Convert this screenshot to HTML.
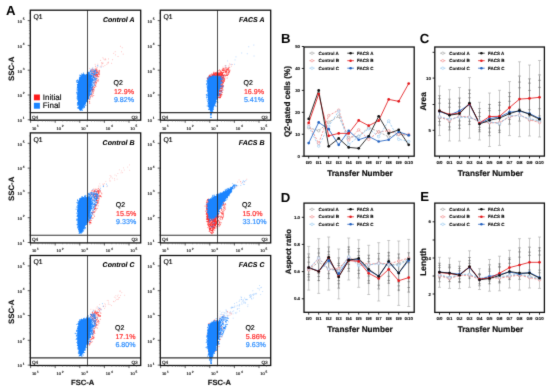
<!DOCTYPE html><html><head><meta charset="utf-8"><style>html,body{margin:0;padding:0;background:#fff;overflow:hidden}svg{display:block}*{-webkit-font-smoothing:antialiased}text{font-family:"Liberation Sans",sans-serif;text-rendering:geometricPrecision}</style></head><body>
<svg width="550" height="389" viewBox="0 0 550 389" font-family="Liberation Sans, sans-serif">
<defs><filter id="sm" filterUnits="userSpaceOnUse" x="0" y="0" width="550" height="389" color-interpolation-filters="sRGB"><feConvolveMatrix order="3" kernelMatrix="1 8 1 8 64 8 1 8 1" divisor="100" edgeMode="duplicate"/></filter></defs><g filter="url(#sm)">
<rect width="550" height="389" fill="#fff"/>
<text x="6.00" y="14.90" font-size="13.2" font-weight="bold" fill="#000">A</text>
<g>
<path d="M97.12 76.75h0.85M94.38 87.53h0.85M95.41 70.05h0.85M95.5 86.36h0.85M93.15 77.23h0.85M96.71 75.04h0.85M97.69 74.43h0.85M91.57 89.45h0.85M91.12 74.56h0.85M97.38 75.12h0.85M93.03 77.41h0.85M92.78 72.1h0.85M96.86 78.27h0.85M90.09 97.83h0.85M95.56 73.83h0.85M94.1 75.1h0.85M95.15 81.7h0.85M93.1 76.65h0.85M87.05 99.47h0.85M93.91 87.68h0.85M91.78 95.24h0.85M92.74 86.35h0.85M92.03 87.32h0.85M88.86 101.62h0.85M97.22 72.76h0.85M97.34 76.45h0.85M90.11 96.29h0.85M98.52 73.29h0.85M94.86 85.48h0.85M93.89 89.98h0.85M95.71 75.03h0.85M96.31 72.31h0.85M98.9 70.33h0.85M94.86 75.04h0.85M95.44 70.2h0.85M98.65 71.17h0.85M97.8 80.89h0.85M88.93 95.64h0.85M98.28 76.62h0.85M96.21 70.85h0.85M91.22 94.01h0.85M96.16 76.55h0.85M93.31 91.65h0.85M92.73 87.27h0.85M95.44 77.68h0.85M95.69 74.54h0.85M92.95 93.09h0.85M95.43 81.71h0.85M96.42 74.74h0.85M94.63 75.05h0.85M94.68 82.68h0.85M89.44 95.56h0.85M98.93 72.9h0.85M89.32 103.42h0.85M94.57 83.95h0.85M96.78 75.32h0.85M98.31 76.81h0.85M96.86 71.31h0.85M93.06 70.04h0.85M98.59 74.64h0.85M96.29 71.21h0.85M92.56 75.06h0.85M96.56 74.19h0.85M89.24 102.04h0.85M91.29 96.19h0.85M91.77 92.44h0.85M94.58 76.13h0.85M93.06 82.38h0.85M96.51 71.79h0.85M93.77 86.91h0.85M92.67 89.25h0.85M93.9 72.21h0.85M94.36 76.76h0.85M89.4 99.19h0.85M93.27 90.07h0.85M95.92 83.77h0.85M94.69 82.44h0.85M96.22 82.17h0.85M93.77 80.86h0.85M92.9 76.07h0.85M91.14 88.58h0.85M96.63 71.02h0.85M93.33 75.37h0.85M91.53 87.6h0.85M92.29 91.58h0.85M91.73 90.16h0.85M90.71 71.63h0.85M95.9 75.03h0.85M97.41 81.08h0.85M93.52 72.92h0.85M92.24 90.35h0.85M92.23 69.67h0.85M93 74.61h0.85M92.23 96.74h0.85M96.99 74.77h0.85M96.59 69.96h0.85M96.57 76.01h0.85M95.24 84.11h0.85M90.47 70.71h0.85M96.14 73.03h0.85M97.76 72.92h0.85M93.94 70.6h0.85M90.34 90.4h0.85M90.96 94.92h0.85M92.55 93.16h0.85M95.87 82.54h0.85M96.65 75.36h0.85M97.87 79.7h0.85M92.37 78.82h0.85M93.05 71.83h0.85M93.6 75.97h0.85M93.63 71.16h0.85M89.04 99.67h0.85M91.47 69.87h0.85M91.86 73.96h0.85M95.1 79.76h0.85M95.11 75.76h0.85M95.17 85.85h0.85M97.71 73.28h0.85M92.16 87.84h0.85M88.51 97.72h0.85M98.98 71.75h0.85M98.64 70.71h0.85M93.22 73.14h0.85M97.57 72.24h0.85M96.21 78.99h0.85M96.05 69.11h0.85M98.97 74.69h0.85M92.54 91.07h0.85M95.04 74.6h0.85M92.16 89.58h0.85M93.32 95.53h0.85M91.69 94.3h0.85M91.28 73.15h0.85M92.49 89.52h0.85M98.53 73.7h0.85M96.28 74.55h0.85M98.23 72.18h0.85M93.28 88.42h0.85M94.16 83.87h0.85M96.51 80.62h0.85M91.2 90.97h0.85M91.46 90.03h0.85M94.59 77.46h0.85M92.36 89.37h0.85M94.8 72.93h0.85M95.66 72.43h0.85M92.82 89.24h0.85M96.44 80.06h0.85M91.39 71.09h0.85" stroke="#ff2a2a" stroke-width="0.85" stroke-opacity="0.7" fill="none"/>
<path d="M90.59 71.7h0.8M106.48 64.36h0.8M91.84 70.73h0.8M114.76 51.7h0.8M95.02 66.14h0.8M114.98 54.89h0.8M101.53 64.91h0.8M97.41 64.23h0.8M95.19 66.77h0.8M100.66 66.08h0.8M95.31 70.19h0.8M101.04 63.14h0.8M99.75 66.96h0.8M96.54 69.25h0.8M120.07 46.31h0.8M96.55 67.26h0.8M91.88 72.4h0.8M121.81 47.73h0.8M100.23 60.39h0.8M92.13 70.64h0.8M94.14 71.46h0.8M107.98 62.95h0.8M89.35 68.43h0.8M122.79 54.17h0.8M90.84 69.71h0.8M94.18 71.89h0.8M106.95 62.94h0.8M121.13 51.74h0.8M95.82 68.84h0.8M105.15 58.9h0.8M95.33 70.29h0.8M105.4 59.72h0.8M102.49 57.83h0.8M111.24 63.31h0.8M95.73 70.17h0.8M93.48 74.36h0.8M113.3 53.35h0.8M102.77 66.6h0.8M104.51 65.57h0.8M112.25 59.69h0.8M96.75 67.77h0.8M92.4 68.37h0.8M108.05 58.94h0.8M94.76 64.35h0.8M103.41 58.99h0.8M95.06 69.29h0.8M104.39 59.85h0.8M102 63.5h0.8M102.7 63.1h0.8M117.64 56.49h0.8M92.91 73.61h0.8M95.07 68.97h0.8M107.94 62.14h0.8M101.54 62.46h0.8M94.57 68.69h0.8" stroke="#ff2a2a" stroke-width="0.8" stroke-opacity="0.4" fill="none"/>
<path d="M82.3 74.8L79.8 77L78.3 80.7L77.7 86.2L77.6 92.2L77.7 98.2L78.1 104.2L78.9 108.7L80.8 110.6L82.3 108.8L85.1 104.6L87.5 100.2L89.1 95.2L90.6 89.2L91.3 83.2L91.3 76L89.3 74.2L86.3 74.4Z" fill="#1a84ff"/>
<path d="M91.39 76.78h0.9M87.99 73.24h0.9M91.2 83.02h0.9M88.07 87.54h0.9M89.06 72.95h0.9M93.76 84.29h0.9M86.68 91.82h0.9M90.67 93.64h0.9M92.1 87.11h0.9M88.33 84.93h0.9M89.41 73.44h0.9M89.6 77.57h0.9M89.77 82.83h0.9M92.09 79.48h0.9M87.76 78.98h0.9M88.4 76.22h0.9M89.66 78.99h0.9M93.76 70.67h0.9M90.77 81.23h0.9M90.38 76.31h0.9M86.67 74.43h0.9M96.98 72.5h0.9M94.17 71.67h0.9M90.41 90.09h0.9M92.66 73.76h0.9M89.91 71.72h0.9M89.57 75.98h0.9M90.55 81.48h0.9M87.72 73.76h0.9M91.8 79.39h0.9M92.64 77.68h0.9M89.89 70.26h0.9M92.44 79.12h0.9M92.17 80.71h0.9M88.77 74.95h0.9M91.76 84.89h0.9M94.04 78.77h0.9M95.79 79.01h0.9M88.48 79.4h0.9M90.68 93.74h0.9M87.14 77.27h0.9M89.33 77.37h0.9M91.27 79.66h0.9M88.18 82.21h0.9M91.2 79.37h0.9M90.85 80.91h0.9M92.5 89.78h0.9M92.44 75.88h0.9M93.88 74.54h0.9M93.73 77.54h0.9M89.47 73.82h0.9M90.62 70.11h0.9M94.04 74.42h0.9M87.72 76.71h0.9M90.42 84.35h0.9M89.32 86.18h0.9M91.76 91.11h0.9M89.58 91.54h0.9M88.19 98.6h0.9M92.44 79.02h0.9M91.51 86h0.9M92.74 77.37h0.9M90.01 81.22h0.9M87.29 84.45h0.9M91.96 82.26h0.9M87.57 99.12h0.9M95.69 76.28h0.9M90.72 81.11h0.9M89.02 91.05h0.9M93.13 71.33h0.9M89.13 86.22h0.9M94.22 82.48h0.9M86.67 79.34h0.9M89.79 71.45h0.9M90.79 89.49h0.9M88.13 96.5h0.9M89.05 91.47h0.9M88.62 98.32h0.9M89.1 92.58h0.9M95.99 78.33h0.9M88.25 88.07h0.9M91.31 84.47h0.9M91.83 85.2h0.9M91.85 83.05h0.9M88.99 79.46h0.9M89.36 76.82h0.9M94.53 73.26h0.9M88.98 86.38h0.9M89.7 77.09h0.9M90.85 85.82h0.9M91.31 83.34h0.9M87.89 76.04h0.9M91.26 89.63h0.9M87.88 98.4h0.9M89.02 83.16h0.9M91.23 73.17h0.9M90.5 76.38h0.9M87.36 85.97h0.9M88.1 98.01h0.9M94.52 81.31h0.9M87.65 97.5h0.9M94.02 77.94h0.9M92.2 80.29h0.9M89.46 72.42h0.9M88.8 84.51h0.9M88.12 98.18h0.9M94.92 75.2h0.9M93.71 79.35h0.9M91.43 78.16h0.9M90.62 75.25h0.9M90.74 92.21h0.9M91.68 78.53h0.9M91.01 88.92h0.9M94.46 72.44h0.9M89.27 85.86h0.9M89.31 73.1h0.9M94.67 70.38h0.9M90.59 84.07h0.9M93.4 80.15h0.9M93.79 74.04h0.9M87.29 98.97h0.9M92.18 73.27h0.9M92.1 71.37h0.9M91.16 82.7h0.9M89.15 79.81h0.9M87.79 93.9h0.9M91.3 88.38h0.9M89.74 81.9h0.9M93.15 83.3h0.9M88.89 85.65h0.9M94.25 73.59h0.9M89.78 94.15h0.9M95.85 72.77h0.9M92.74 82.72h0.9M88.15 93.94h0.9M90 84.97h0.9M95.35 70.87h0.9M90.97 85.47h0.9M95.17 78.52h0.9M90.74 87.32h0.9M96.32 73.62h0.9M88.61 92.76h0.9M90.86 87.4h0.9M92.41 74.3h0.9M88.24 78.16h0.9M90.97 84.31h0.9M89.91 85.75h0.9M89.98 74.92h0.9M91.32 72.26h0.9M94.71 78.97h0.9M93.01 86.01h0.9M95.03 79.63h0.9M94.87 71.15h0.9M88.77 75.39h0.9M88.35 78.11h0.9M88.16 72.56h0.9M88.72 86.77h0.9M91.41 87.08h0.9M91.32 73.53h0.9M89.15 94.64h0.9M87.32 98.53h0.9M93.2 74.95h0.9M93.59 80.69h0.9M87.89 74.41h0.9M91.24 78.92h0.9M94.79 73.24h0.9M90.3 85.62h0.9M89.02 76.71h0.9M87.37 96.64h0.9M90.42 77.94h0.9M89.07 80.65h0.9M87.26 72.1h0.9M88.77 83.72h0.9M88.91 91.28h0.9M88.82 75.89h0.9M93.01 76.52h0.9M93.97 74.53h0.9M90.39 83.67h0.9M88.09 74.17h0.9M91.03 82.17h0.9M89.92 86.18h0.9M87.6 98.14h0.9M92.55 79.59h0.9M87.76 84.79h0.9M87.19 96.76h0.9M94.71 71.63h0.9M87.71 86.44h0.9M93.16 80.75h0.9M88.16 73.95h0.9M95.35 80.7h0.9M92.37 84.83h0.9M93.54 77.39h0.9M88.14 72.29h0.9M89.58 97.03h0.9M92.05 73.62h0.9M90.28 74.27h0.9M94.22 85.36h0.9M89.92 78.39h0.9M93.78 79.13h0.9M91.68 77.45h0.9" stroke="#1a84ff" stroke-width="0.9" stroke-opacity="0.88" fill="none"/>
<path d="M81.17 74.03h0.9M80.5 75.56h0.9M79.75 75.47h0.9M80.2 77.37h0.9M79.43 75.1h0.9M79.57 77.4h0.9M80.49 75.5h0.9M79.84 77.47h0.9M78.91 78.65h0.9M77.21 80.1h0.9M76.92 80.39h0.9M79.08 77.16h0.9M77.67 81.34h0.9M76.38 80.57h0.9M80.58 77.95h0.9M76.93 84.73h0.9M77.25 84.43h0.9M78.66 83.27h0.9M76.75 82.69h0.9M76.95 84.53h0.9M77.29 85.88h0.9M77.78 82h0.9M77.87 82.23h0.9M76.17 81.76h0.9M77.59 85.09h0.9M76.89 82.24h0.9M77.56 82.45h0.9M76.73 90.73h0.9M76.53 89.04h0.9M77.45 92.39h0.9M77.25 87.86h0.9M77.17 89.78h0.9M77.86 92.04h0.9M76.85 87.28h0.9M77.12 87.35h0.9M78.54 88.65h0.9M78.51 90.41h0.9M77.7 88.04h0.9M77.34 86.23h0.9M77.72 86.48h0.9M77.2 94.14h0.9M77.01 97.69h0.9M78.75 97.29h0.9M76.81 96.37h0.9M76.66 94.06h0.9M77.7 93.35h0.9M77.26 96.5h0.9M76.46 98.07h0.9M77.43 95.28h0.9M76.64 93.34h0.9M77.79 93.49h0.9M76.19 92.36h0.9M77.26 94.97h0.9M76.91 104.13h0.9M77.89 104.25h0.9M77.61 103.63h0.9M78.35 101.51h0.9M77.13 102.66h0.9M77.41 98.51h0.9M77.84 102.85h0.9M76.93 99.84h0.9M77.43 103.85h0.9M77.43 102.98h0.9M77.61 99.2h0.9M78.72 103.24h0.9M77.96 102.99h0.9M78.58 107.49h0.9M77.76 107.94h0.9M79.72 105.46h0.9M78.23 107.97h0.9M77.14 107.86h0.9M78.37 108.21h0.9M79.32 108.1h0.9M77.08 105.26h0.9M78.1 104.53h0.9M78.5 107.07h0.9M79.69 109.85h0.9M80.25 109.63h0.9M79.19 108.91h0.9M79.12 108.88h0.9M79.42 109.77h0.9M80.78 110.17h0.9M80.45 109.04h0.9M79.97 110.15h0.9M81.85 110.45h0.9M80.94 109.23h0.9M85.4 105.42h0.9M82.72 107.85h0.9M83.94 106.39h0.9M82.46 108.08h0.9M83.51 106.6h0.9M81.71 107.01h0.9M84.51 105.05h0.9M83.34 106.19h0.9M83.47 107.59h0.9M81.6 109.29h0.9M84.02 107.27h0.9M84.69 102.71h0.9M84.14 103.68h0.9M84.78 103.89h0.9M87.09 102.04h0.9M84.8 102.91h0.9M86.48 101.38h0.9M86.77 101.46h0.9M86.57 99.16h0.9M85.55 101.18h0.9M86.72 101.34h0.9M86.37 100.14h0.9M87.57 98.25h0.9M88.17 96.65h0.9M87.32 98.26h0.9M88.5 95.76h0.9M88.21 96.9h0.9M88.31 96.36h0.9M88.35 95.33h0.9M88.05 94.53h0.9M88.77 94.75h0.9M87.11 97.86h0.9M88.02 97.08h0.9M91.79 88.76h0.9M88.62 95.65h0.9M89.67 90.5h0.9M89.94 91.25h0.9M90.28 90.71h0.9M89.66 94.28h0.9M89.05 93.69h0.9M89.77 90.5h0.9M88.76 93.7h0.9M88.17 95.88h0.9M90.29 94.38h0.9M89.9 91.17h0.9M90.34 92.29h0.9M90.43 85.56h0.9M90.21 89.75h0.9M89.01 87.06h0.9M89.6 85.82h0.9M89.02 86.33h0.9M89.54 85.5h0.9M89.89 83.8h0.9M89.87 87.12h0.9M90.4 85.53h0.9M90.28 87.6h0.9M90.02 88.16h0.9M90.13 87.35h0.9M91.82 86.56h0.9M91.99 80.6h0.9M89.74 82.45h0.9M91.92 75.87h0.9M89.3 83.57h0.9M90.71 81.51h0.9M90.82 78.48h0.9M90.53 81.32h0.9M91.85 81.57h0.9M90.19 78.21h0.9M90.59 80.53h0.9M90.85 80.16h0.9M90.78 76.32h0.9M90.63 75.9h0.9M91.08 76.04h0.9M90.65 80.14h0.9M89.35 74.59h0.9M91.36 76.13h0.9M91.45 76.35h0.9M90.77 75.66h0.9M90.7 75.67h0.9M87.17 74.98h0.9M85.96 74.64h0.9M88.08 73.71h0.9M87.17 72.83h0.9M86.8 73.03h0.9M86.67 74.41h0.9M83.5 74.67h0.9M83.88 75.2h0.9M83.14 74.53h0.9M82.96 73.09h0.9M81.94 74.48h0.9M81.58 74.88h0.9M83.48 74.16h0.9M82.78 74h0.9" stroke="#1a84ff" stroke-width="0.9" fill="none"/>
<path d="M97.58 65.95h0.85M94.28 69.56h0.85M96.95 65.67h0.85M91.61 68.77h0.85M90.18 71.4h0.85M100.83 67.06h0.85M91.35 71.56h0.85M92.3 73.21h0.85M93.1 69.81h0.85M92.63 69.8h0.85M92.4 68.01h0.85M91.33 70.19h0.85" stroke="#1a84ff" stroke-width="0.85" stroke-opacity="0.55" fill="none"/>
<line x1="87.5" y1="10.2" x2="87.5" y2="120.2" stroke="#222" stroke-width="0.8"/>
<line x1="30.3" y1="112.6" x2="140.7" y2="112.6" stroke="#333" stroke-width="1.1"/>
<rect x="30.3" y="10.2" width="110.4" height="110" fill="none" stroke="#111" stroke-width="1.3"/>
<path d="M27.7 20.6h2.6M27.7 45.4h2.6M27.7 70.2h2.6M27.7 95h2.6M27.7 119.8h2.6M30.6 120.2v2.6M55.2 120.2v2.6M79.8 120.2v2.6M104.4 120.2v2.6M129 120.2v2.6" stroke="#222" stroke-width="0.7"/>
<path d="M28.9 37.93h1.4M28.9 33.57h1.4M28.9 30.47h1.4M28.9 28.07h1.4M28.9 26.1h1.4M28.9 24.44h1.4M28.9 23h1.4M28.9 21.73h1.4M28.9 62.73h1.4M28.9 58.37h1.4M28.9 55.27h1.4M28.9 52.87h1.4M28.9 50.9h1.4M28.9 49.24h1.4M28.9 47.8h1.4M28.9 46.53h1.4M28.9 87.53h1.4M28.9 83.17h1.4M28.9 80.07h1.4M28.9 77.67h1.4M28.9 75.7h1.4M28.9 74.04h1.4M28.9 72.6h1.4M28.9 71.33h1.4M28.9 112.33h1.4M28.9 107.97h1.4M28.9 104.87h1.4M28.9 102.47h1.4M28.9 100.5h1.4M28.9 98.84h1.4M28.9 97.4h1.4M28.9 96.13h1.4M28.9 13.13h1.4M38.01 120.2v1.4M42.34 120.2v1.4M45.41 120.2v1.4M47.79 120.2v1.4M49.74 120.2v1.4M51.39 120.2v1.4M52.82 120.2v1.4M54.07 120.2v1.4M62.61 120.2v1.4M66.94 120.2v1.4M70.01 120.2v1.4M72.39 120.2v1.4M74.34 120.2v1.4M75.99 120.2v1.4M77.42 120.2v1.4M78.67 120.2v1.4M87.21 120.2v1.4M91.54 120.2v1.4M94.61 120.2v1.4M96.99 120.2v1.4M98.94 120.2v1.4M100.59 120.2v1.4M102.02 120.2v1.4M103.27 120.2v1.4M111.81 120.2v1.4M116.14 120.2v1.4M119.21 120.2v1.4M121.59 120.2v1.4M123.54 120.2v1.4M125.19 120.2v1.4M126.62 120.2v1.4M127.87 120.2v1.4M136.41 120.2v1.4" stroke="#555" stroke-width="0.5"/>
<text x="17.60" y="22.90" font-size="4" fill="#000" stroke="#000" stroke-width="0.15">10</text><text x="22.70" y="20.00" font-size="3.2" fill="#000" stroke="#000" stroke-width="0.13">5</text><text x="17.60" y="47.70" font-size="4" fill="#000" stroke="#000" stroke-width="0.15">10</text><text x="22.70" y="44.80" font-size="3.2" fill="#000" stroke="#000" stroke-width="0.13">4</text><text x="17.60" y="72.50" font-size="4" fill="#000" stroke="#000" stroke-width="0.15">10</text><text x="22.70" y="69.60" font-size="3.2" fill="#000" stroke="#000" stroke-width="0.13">3</text><text x="17.60" y="97.30" font-size="4" fill="#000" stroke="#000" stroke-width="0.15">10</text><text x="22.70" y="94.40" font-size="3.2" fill="#000" stroke="#000" stroke-width="0.13">2</text><text x="17.60" y="122.10" font-size="4" fill="#000" stroke="#000" stroke-width="0.15">10</text><text x="22.70" y="119.20" font-size="3.2" fill="#000" stroke="#000" stroke-width="0.13">1</text><text x="31.90" y="129.60" font-size="4" fill="#000" stroke="#000" stroke-width="0.15">10</text><text x="37.10" y="127.20" font-size="3.2" fill="#000" stroke="#000" stroke-width="0.13">1</text><text x="56.50" y="129.60" font-size="4" fill="#000" stroke="#000" stroke-width="0.15">10</text><text x="61.70" y="127.20" font-size="3.2" fill="#000" stroke="#000" stroke-width="0.13">2</text><text x="81.10" y="129.60" font-size="4" fill="#000" stroke="#000" stroke-width="0.15">10</text><text x="86.30" y="127.20" font-size="3.2" fill="#000" stroke="#000" stroke-width="0.13">3</text><text x="105.70" y="129.60" font-size="4" fill="#000" stroke="#000" stroke-width="0.15">10</text><text x="110.90" y="127.20" font-size="3.2" fill="#000" stroke="#000" stroke-width="0.13">4</text><text x="130.30" y="129.60" font-size="4" fill="#000" stroke="#000" stroke-width="0.15">10</text><text x="135.50" y="127.20" font-size="3.2" fill="#000" stroke="#000" stroke-width="0.13">5</text>
<text x="33.50" y="18.80" font-size="6.8" fill="#000" stroke="#000" stroke-width="0.15">Q1</text>
<text x="31.90" y="118.60" font-size="4.7" fill="#111" stroke="#111" stroke-width="0.14">Q4</text>
<text x="137.70" y="118.70" font-size="4.7" text-anchor="end" fill="#111" stroke="#111" stroke-width="0.14">Q3</text>
<text x="134.50" y="21.80" font-size="7" font-weight="bold" font-style="italic" text-anchor="end" fill="#000" stroke="#000" stroke-width="0.1">Control A</text>
<text x="113.50" y="84.60" font-size="7" fill="#000" stroke="#000" stroke-width="0.16">Q2</text>
<text x="113.90" y="93.60" font-size="7.1" fill="#ff2a2a" stroke="#ff2a2a" stroke-width="0.18">12.9%</text>
<text x="113.90" y="101.60" font-size="7.1" fill="#2a8cff" stroke="#2a8cff" stroke-width="0.18">9.82%</text>
</g>
<g>
<path d="M214.23 81.35h0.85M207.87 78.04h0.85M209.74 75.51h0.85M219.94 78.92h0.85M220.79 77.91h0.85M216.87 87.7h0.85M216.93 76.5h0.85M216.49 80.04h0.85M217.69 80.7h0.85M221.91 78.18h0.85M229.08 71.11h0.85M226.41 71.23h0.85M219.39 93.47h0.85M209.09 77.29h0.85M214.06 75.76h0.85M216.86 94.85h0.85M218.84 86.63h0.85M221.6 88.72h0.85M217.04 71.9h0.85M213.29 74.15h0.85M212.67 81.77h0.85M214.56 79.33h0.85M217.95 89.67h0.85M221.94 70.32h0.85M215.34 77.25h0.85M217.36 92.37h0.85M217.84 78.59h0.85M223.1 75.43h0.85M224.01 81.01h0.85M216.91 74.25h0.85M220.61 80.74h0.85M213.89 74.92h0.85M218.19 87.85h0.85M215.28 91.36h0.85M228.67 72.76h0.85M215.37 77.81h0.85M217.56 89.61h0.85M217.08 95.43h0.85M215.73 73.46h0.85M212.79 78.73h0.85M214.87 73.58h0.85M217.99 70.71h0.85M208.38 78.04h0.85M218.16 73.67h0.85M216.16 88.14h0.85M218.71 84.4h0.85M213.83 81.47h0.85M217.36 77.9h0.85M225.59 75.19h0.85M211.18 77.69h0.85M219.47 79.45h0.85M222.76 80.09h0.85M210.07 79.22h0.85M218.97 97.59h0.85M209.61 76.49h0.85M218.68 81.94h0.85M218.8 91.01h0.85M222.71 75.38h0.85M220.25 77.89h0.85M212.85 75.5h0.85M218.58 83.14h0.85M220.78 94.33h0.85M221.66 84.41h0.85M218.05 97.04h0.85M227.06 75.57h0.85M219.48 80.31h0.85M214.45 80.37h0.85M212.38 78.97h0.85M210.35 77.57h0.85M219.63 70.71h0.85M220.82 90.67h0.85M213.79 78.39h0.85M229.52 70.22h0.85M215.13 78.11h0.85M210.46 76.38h0.85M224.14 70.1h0.85M218.85 74.62h0.85M219.72 97.35h0.85M214.65 73.12h0.85M211.97 75.46h0.85M223.14 72.33h0.85M219.09 73.21h0.85M215.79 77.43h0.85M226.01 74.99h0.85M218.49 87.14h0.85M214.19 78.07h0.85M222.92 83.28h0.85M223.18 72.52h0.85M211.62 75.17h0.85M224.06 75.07h0.85M219.03 94.45h0.85M220.73 92.75h0.85M219.37 81.89h0.85M215.84 86.64h0.85M219.01 86.43h0.85M219.02 83.79h0.85M227.61 74.17h0.85M217.59 78.1h0.85M216.98 89.38h0.85M212.91 77.39h0.85M216.68 84.71h0.85M211.45 77.35h0.85M209.74 76.57h0.85M221.08 76.12h0.85M223.04 70.34h0.85M207.35 79.34h0.85M223.64 81.35h0.85M218.22 74.44h0.85M228.04 68.71h0.85M217.65 85.07h0.85M225.37 71.75h0.85M219.97 83.54h0.85M225.62 69.76h0.85M219.67 94.37h0.85M217.24 80.02h0.85M219.69 88.01h0.85M222.25 76.17h0.85M221.57 80.16h0.85M216.86 76.05h0.85M228.4 67.29h0.85M217.4 79.2h0.85M219.87 76.69h0.85M213.07 74.99h0.85M212.71 75.23h0.85M222.87 76.3h0.85M218.54 82.09h0.85M222.69 80.74h0.85M225.8 73.33h0.85M217.58 84.56h0.85M225.34 68.16h0.85M214.96 83.08h0.85M220.65 71.51h0.85M219.09 89.12h0.85M222.27 73.44h0.85M217.66 75.94h0.85M215.77 80.07h0.85M228.37 69.27h0.85M219.08 97.74h0.85M228.36 69.11h0.85M217.64 75.5h0.85M214.58 79.9h0.85M226.64 70.59h0.85M217.18 81.61h0.85M217.61 76.4h0.85M218.72 83.47h0.85M212.68 74.01h0.85M211.46 76.38h0.85M226.65 78.01h0.85M223.86 74.97h0.85M216.94 88.65h0.85M226.03 71.32h0.85M217.19 74.26h0.85M217.31 89.13h0.85M214.06 82.43h0.85M222.14 83.56h0.85M213.72 81.77h0.85M226.73 73.84h0.85M227.78 74.56h0.85M224.8 70.99h0.85M222.01 75.31h0.85M207.52 77.67h0.85M225.84 75.24h0.85M219.01 69.89h0.85M216.25 85.88h0.85M211.83 80.09h0.85M210.16 77.89h0.85M224.58 76.83h0.85M225.89 70.07h0.85M216.5 79.63h0.85M227.67 72.45h0.85M221.65 78.05h0.85M213.97 75.08h0.85M209.2 75.39h0.85M220.27 88.61h0.85M220.04 84.27h0.85M220.29 71.24h0.85M206.89 78.48h0.85M218.16 74.87h0.85M215.83 76.08h0.85M212.02 78.23h0.85M222.94 70.07h0.85M228.03 70.69h0.85M219.16 82.48h0.85M213.33 76.21h0.85M221.1 86.07h0.85M213.38 77.8h0.85M210.59 76.79h0.85M217.17 94.95h0.85M226.91 69.08h0.85M213.84 74.81h0.85M220.72 86.29h0.85M217.44 94.8h0.85M220.15 85.62h0.85M221.75 81.74h0.85M216.94 75.97h0.85M211.3 76.92h0.85M219.32 87.67h0.85M211.02 76.17h0.85M224.24 78.39h0.85M226.96 75.19h0.85M222.03 73.59h0.85M214.33 78.08h0.85M218.92 90.03h0.85M223.75 79.92h0.85M217.96 94.76h0.85M216.01 98.85h0.85M224.37 79.22h0.85M215.81 80.17h0.85M221.71 80.76h0.85M220.13 97.51h0.85M221.3 78.5h0.85M222.85 76.1h0.85M216.95 85.4h0.85M214.51 83.86h0.85M227.26 69.45h0.85M217.44 94.99h0.85M212.96 79.01h0.85M221.77 86.96h0.85M212.97 73.14h0.85M215.74 86.11h0.85M227.68 70.29h0.85M218.6 88.23h0.85M217.24 72.75h0.85M223.17 78.62h0.85M216.51 72.11h0.85M216.33 75.96h0.85M219.86 73.56h0.85M216.06 75.97h0.85M225.7 69.4h0.85M215.13 84.32h0.85M218.26 87.72h0.85M214.46 75.34h0.85M215.74 77.48h0.85M225.8 71.81h0.85M212.71 74.34h0.85M228.99 71.67h0.85M219.1 77.31h0.85M227.87 72.03h0.85M224.29 72.02h0.85M221.26 91.31h0.85M215.48 72.63h0.85M220.63 74.61h0.85M222.16 74.23h0.85M228.45 72h0.85M222.31 86.5h0.85M213.44 78.61h0.85M221.07 91.36h0.85M223.71 78.57h0.85M215.4 76.42h0.85M218.36 93.15h0.85M220.29 79.54h0.85M216.52 94.21h0.85M216.58 89.4h0.85M218.04 97.51h0.85M214.46 81.25h0.85M221.68 85.65h0.85M220.38 83.81h0.85M228.48 72.77h0.85M217.13 90.52h0.85M215.73 79.06h0.85M212.07 76.16h0.85M222.33 79.35h0.85M223.66 80.96h0.85M213.6 72.92h0.85M216.18 78.45h0.85M225.16 75.36h0.85M223.64 69.85h0.85M221.88 77.66h0.85M221.9 75.35h0.85M225.28 71.79h0.85M216.22 84.29h0.85M218.85 77.78h0.85M221.98 92.51h0.85M213.67 79.06h0.85M216.74 73.13h0.85M224.66 75.85h0.85M217.34 80.52h0.85M209.08 76.88h0.85M220.55 79.8h0.85M219.16 91.63h0.85M217.22 95.31h0.85M229.35 71.09h0.85M215.39 81.16h0.85M220.19 95.77h0.85M220.42 77.49h0.85M222.68 77.45h0.85M219.68 71.02h0.85M219.41 81.89h0.85M221.37 85.23h0.85M220.27 91.07h0.85M222.15 90.06h0.85M218.86 96.66h0.85M224.91 70.87h0.85M219.84 88.65h0.85M220.24 95.59h0.85M225.42 72.01h0.85M223.32 68.5h0.85M221.85 70.29h0.85M216.93 98.96h0.85M227.2 69.13h0.85M212.3 74.44h0.85M214.3 77.05h0.85M216.21 83.95h0.85M219.95 72.75h0.85M226.54 69.25h0.85M222.78 79.91h0.85M217.84 87.98h0.85M212.69 76.14h0.85M226.24 72.48h0.85M220.8 81.9h0.85M209.74 76.72h0.85M213.49 72.15h0.85M210.07 77.07h0.85M217.47 93.75h0.85M220.41 94.49h0.85M227.88 73.73h0.85M212.67 78.8h0.85M223.47 74.97h0.85M217.76 74.64h0.85M217.53 88.11h0.85M209.91 78.05h0.85M227.76 68.09h0.85M222.41 70.46h0.85M225.02 72.36h0.85M219.61 96.14h0.85M222.88 86.28h0.85M211 73.96h0.85M216.74 92.68h0.85M223.33 77.05h0.85M226.45 75.21h0.85" stroke="#ff2a2a" stroke-width="0.85" stroke-opacity="0.8" fill="none"/>
<path d="M220.55 75.22h0.85M219.8 72.29h0.85M215.38 73.23h0.85M220.94 72.6h0.85M218.98 74.24h0.85M219.59 75.3h0.85M212.61 75.62h0.85M217.08 72.89h0.85M214.22 74.39h0.85M219.17 73.04h0.85M211.87 75.75h0.85M220.92 73.1h0.85M220.72 75.06h0.85M213.12 73.27h0.85M209.25 77.56h0.85M216.7 74.06h0.85M214.6 74.95h0.85M219.21 75.23h0.85M210.52 77.4h0.85M220.86 74.8h0.85M209.69 76.86h0.85M221.97 73.87h0.85M217.07 75.67h0.85M210.88 76.48h0.85M216.65 74.49h0.85M222.74 75.3h0.85M215.68 72.61h0.85M212.28 75.48h0.85M217.15 74.01h0.85M213.12 76.04h0.85M218.68 74.05h0.85M213.49 76.59h0.85M208.3 78.09h0.85M218.1 74.83h0.85M215.35 75.71h0.85M217.7 75.58h0.85M217.36 73.44h0.85M222.2 72.55h0.85M221.16 75h0.85M216.52 73.93h0.85M217.98 75.77h0.85M219.59 74.55h0.85M211.72 76.38h0.85M208.77 78.43h0.85M209.43 76.23h0.85M213.43 75.14h0.85M214.83 75.73h0.85M209.37 76.78h0.85M219.92 73.36h0.85M216.13 73.89h0.85M212.84 75.44h0.85M217.59 75.54h0.85M217.99 72.9h0.85M215.56 74.46h0.85M207.14 78.9h0.85M220.95 76.95h0.85M221.95 73.73h0.85M221.63 72.4h0.85M219.94 73.68h0.85M214.66 74.83h0.85M216.55 76.3h0.85M215.72 74.85h0.85M210.85 76.71h0.85M221.55 74.18h0.85M216.46 76.49h0.85M217.74 74.2h0.85M211.81 77.82h0.85M216.35 75.22h0.85M212.43 75.28h0.85M211.97 75.9h0.85M219.66 74.1h0.85M221.18 75.18h0.85M208.45 77.14h0.85M208.65 75.9h0.85M211.37 77.46h0.85M221.22 72.13h0.85M218.3 73.24h0.85M210.18 78.29h0.85M214.34 73.75h0.85M221.55 74.54h0.85M213.58 75.21h0.85M221.66 75h0.85M212.83 75.15h0.85M220.11 75.5h0.85M217.54 74.34h0.85M217.41 74.75h0.85M218.99 75.91h0.85M219.73 75.83h0.85M217.94 74.62h0.85M209.42 75.21h0.85M220.92 73.67h0.85M215.32 75.33h0.85M218.7 75.51h0.85M221.58 74.53h0.85M216.33 75.27h0.85M214.61 73.16h0.85M220.81 72.85h0.85M216.76 74.39h0.85M207.22 78.92h0.85M217.37 75.04h0.85M210.55 74.54h0.85M214.52 75.34h0.85M214.59 73.63h0.85M219.42 73.33h0.85M213.69 75.47h0.85M219.68 74.79h0.85M209 77.66h0.85M209.29 77.28h0.85M218.86 74.89h0.85M215.58 73.9h0.85" stroke="#ff2a2a" stroke-width="0.85" stroke-opacity="0.9" fill="none"/>
<path d="M219.92 76.45h0.85M222.37 77.83h0.85M221.6 81.21h0.85M222.37 82.65h0.85M219.23 81.13h0.85M220.76 81.02h0.85M219.55 97.87h0.85M218.72 94.43h0.85M221.19 76.66h0.85M219.02 90.72h0.85M221.25 80.88h0.85M219.92 96.94h0.85M222.63 89.98h0.85M224.1 79.93h0.85M219.87 94.82h0.85M220.1 85.81h0.85M220.84 90.98h0.85M219.82 81.31h0.85M219.3 90.77h0.85M220.33 90.72h0.85M220.43 93.77h0.85M220.82 80.64h0.85M220.42 77.41h0.85M220.67 83.64h0.85M220.96 90.12h0.85M221.61 84.4h0.85M221.24 79.1h0.85M220.73 87.53h0.85M222.2 88.71h0.85M220.56 88.65h0.85M222.67 78.27h0.85M223.03 82.27h0.85M221.21 81.62h0.85M220.82 95.84h0.85M223.09 75.72h0.85M220.46 91.77h0.85M220.55 96.19h0.85M222.9 82.23h0.85M219.95 79.62h0.85M222.35 82.23h0.85M219.4 76.72h0.85M219.72 95.26h0.85M223.31 77.49h0.85M222.42 86.54h0.85M220.93 88.65h0.85M218.22 93.14h0.85M219.42 80.9h0.85M221.6 94.72h0.85M222.89 85.37h0.85M222.28 77.24h0.85M221.11 94.34h0.85M221.12 88.07h0.85M219.12 90.96h0.85M221.03 80.29h0.85M220.56 84.67h0.85M222.15 84.89h0.85M223.17 80.1h0.85M222.53 81.65h0.85M222.03 87.45h0.85M218.74 93.5h0.85M220.24 80.96h0.85M220.44 90.66h0.85M218.89 94.7h0.85M220.92 85.73h0.85M218.64 95.43h0.85M220.48 82.33h0.85M222.35 86.36h0.85M220.27 86.74h0.85M222.2 82.33h0.85M219.53 91.78h0.85" stroke="#ff2a2a" stroke-width="0.85" stroke-opacity="0.85" fill="none"/>
<path d="M222.57 67.17h0.8M223.68 70.5h0.8M228.57 65.67h0.8M224.53 68.53h0.8M229.19 67.51h0.8M224.99 67.07h0.8M229.8 64.57h0.8M225.98 67.82h0.8M221.62 69.66h0.8M222.37 69.68h0.8M223.88 70.13h0.8M222.23 69.96h0.8M229.41 67.23h0.8M222.4 68.56h0.8M222.64 70.03h0.8M225.09 65.51h0.8M222.76 69.4h0.8M223.72 67.72h0.8M230.93 66.22h0.8M231.92 64.47h0.8M226.35 67.96h0.8M225.87 70.59h0.8M223.28 71.71h0.8M222.92 70.72h0.8M229.33 63.81h0.8M224.55 65.86h0.8M225.41 67.69h0.8M223.46 68.5h0.8M222.37 68.76h0.8M223.44 68.62h0.8" stroke="#ff2a2a" stroke-width="0.8" stroke-opacity="0.4" fill="none"/>
<path d="M207.6 79L209.8 77.2L212 76.5L217.5 75.8L220.1 77L220.6 82L219.8 88L218.5 93L217 98L215 104L213 109L211 112.7L209.5 109L208.3 102L207.6 92L207.5 84Z" fill="#1a84ff"/>
<path d="M217.34 84.82h0.9M216.32 87.3h0.9M217.18 91.35h0.9M217.54 94.9h0.9M221.5 79.91h0.9M219.87 85.74h0.9M222.47 75.61h0.9M220.51 92.92h0.9M220.12 84.18h0.9M222.37 85.49h0.9M219.28 81.4h0.9M220.52 83.05h0.9M219.99 83.41h0.9M222.26 78.8h0.9M221.24 86.88h0.9M220.06 91.34h0.9M221.25 79.78h0.9M222.67 87.7h0.9M221.35 76.67h0.9M220.68 88.15h0.9M221.34 79.6h0.9M222.27 79.27h0.9M218.33 93.27h0.9M219.29 82.61h0.9M217.71 88.6h0.9M220.5 86.38h0.9M217.54 92.91h0.9M219.13 80.84h0.9M220.58 78.76h0.9M221.76 82.64h0.9M219.71 80.52h0.9M218.07 85.17h0.9M222.42 86.59h0.9M222.74 77.5h0.9M218.62 75.62h0.9M221.68 91.02h0.9M218.28 89.79h0.9M220.5 90.01h0.9M222.07 82.58h0.9M222.33 85.58h0.9M219.43 94.13h0.9M221.08 91.9h0.9M220.27 86.47h0.9M218.73 83.3h0.9M219.62 84.66h0.9M218.37 81.88h0.9M218.7 79.48h0.9M220.59 76.6h0.9M218.34 78.67h0.9M221.21 81.75h0.9M220.03 93.69h0.9M218.37 83.11h0.9M219.88 76.44h0.9M221.85 79.36h0.9M219.15 78.91h0.9" stroke="#1a84ff" stroke-width="0.9" stroke-opacity="0.6" fill="none"/>
<path d="M208.25 76.72h0.9M210.31 78.26h0.9M207.83 78.42h0.9M209.04 77.23h0.9M208.85 77.78h0.9M209.49 77.61h0.9M211.09 77.71h0.9M211.22 76.95h0.9M210.55 77.27h0.9M209.63 76.8h0.9M212.43 76.35h0.9M212.37 76.41h0.9M213.03 75.91h0.9M212.23 76.6h0.9M212.2 76.92h0.9M214.84 76.99h0.9M211.48 76.02h0.9M214.11 75.75h0.9M213.41 76.88h0.9M215.85 76.04h0.9M213.03 76.21h0.9M215.6 76.59h0.9M215.5 77.01h0.9M219.38 77.41h0.9M219.17 76.62h0.9M220.22 76.91h0.9M219.48 78.1h0.9M219.83 77.5h0.9M217.64 76.1h0.9M221.1 81.97h0.9M219.31 78.46h0.9M220.15 78.94h0.9M218.35 78.48h0.9M218.45 77.59h0.9M220.43 82.01h0.9M220.36 78.31h0.9M219.55 80.4h0.9M220.61 78.36h0.9M219.96 78.91h0.9M220.66 78.86h0.9M218.56 87.24h0.9M219.22 86.75h0.9M219.65 87.28h0.9M218.14 85.87h0.9M219.78 85.94h0.9M220.64 83.31h0.9M219.24 87.36h0.9M218.48 86.13h0.9M220.3 86.46h0.9M220.98 86.08h0.9M218.3 87.62h0.9M220.58 83.29h0.9M219 82.79h0.9M218.48 88.88h0.9M218.46 88.83h0.9M217.77 90.32h0.9M218.33 92.1h0.9M218.25 89.05h0.9M217.96 94.18h0.9M218.36 88.28h0.9M217.9 92.15h0.9M219.58 88.95h0.9M218.24 93.19h0.9M218.84 88.36h0.9M217.13 94.99h0.9M217.8 95.84h0.9M217.89 95.77h0.9M217.14 98.08h0.9M218.75 95.56h0.9M217.49 95.27h0.9M217.51 95.35h0.9M216.42 97.85h0.9M217.22 93.69h0.9M217.63 94.82h0.9M216.76 95.37h0.9M214.75 103.05h0.9M217.25 97.78h0.9M214.54 102.7h0.9M215.31 102.96h0.9M216.26 101.37h0.9M217.29 102.37h0.9M215.01 101.34h0.9M214.86 101.41h0.9M215.42 101.98h0.9M215.25 101.1h0.9M214.1 104.68h0.9M217.16 98.39h0.9M215.99 99.29h0.9M212.31 107.32h0.9M214.67 105.81h0.9M214.5 104.93h0.9M213.65 105.51h0.9M213.4 105.88h0.9M212.96 104.57h0.9M212.54 107.49h0.9M212.63 105.1h0.9M213.05 109h0.9M215.61 106.25h0.9M213.08 109.16h0.9M211.52 112.5h0.9M211.93 109.55h0.9M211.64 110.57h0.9M210.63 111.07h0.9M212.24 111.04h0.9M211.77 111.2h0.9M212.31 111.27h0.9M211.75 109.85h0.9M211.22 110.63h0.9M208.35 109.6h0.9M208.97 107.77h0.9M209.97 110.58h0.9M209.41 112.3h0.9M209.53 108.81h0.9M209.92 109.86h0.9M210.95 112.04h0.9M208.98 109.45h0.9M208.29 105.82h0.9M208.05 103.73h0.9M207.9 106.04h0.9M207.99 102.9h0.9M208.4 109.19h0.9M208.54 107.81h0.9M207.72 104.34h0.9M208.8 106.45h0.9M208.87 107.07h0.9M206.76 105.91h0.9M208.11 103.83h0.9M208.24 102.65h0.9M207.93 106.47h0.9M207.96 105.88h0.9M210.25 108.49h0.9M206.76 99.95h0.9M207.59 93.37h0.9M207.78 100h0.9M206.08 97.72h0.9M208.62 96.2h0.9M207.02 91.05h0.9M207.55 97.05h0.9M206.24 94.7h0.9M207.69 98.96h0.9M207.56 94.76h0.9M208.03 98.61h0.9M207.14 101.66h0.9M209.64 98.3h0.9M208.16 99.11h0.9M208.32 99.06h0.9M208.97 98.8h0.9M207.77 103.45h0.9M205.89 94.92h0.9M206.26 96.05h0.9M207.32 95.37h0.9M207.55 95.76h0.9M207.49 97.35h0.9M208.46 87.37h0.9M208.43 89.37h0.9M206.7 91.14h0.9M207.97 86.21h0.9M207.17 86.09h0.9M206.2 84.44h0.9M206.37 83.38h0.9M206.89 90.25h0.9M208.19 86.79h0.9M207.16 87.47h0.9M208.07 91.78h0.9M206.72 85.92h0.9M207.89 91.61h0.9M206.65 87.15h0.9M207.63 86.96h0.9M207.18 88.8h0.9M207.15 88.82h0.9M208.05 79.51h0.9M206.52 80.94h0.9M207.34 81.37h0.9M207.52 81.69h0.9M207.76 83.31h0.9M207.62 80.93h0.9M206.67 80.97h0.9M207.13 82.41h0.9M207.25 83.79h0.9M206.83 78.1h0.9M207.7 80.36h0.9M210.42 114.38h0.9M210.26 112.49h0.9M210.19 114.96h0.9M210.62 113.34h0.9M210.07 117.25h0.9M210.25 113.23h0.9M209.8 112.34h0.9M210.25 114.74h0.9M210.04 112.57h0.9M210.87 114.95h0.9M210.66 113.89h0.9M211.07 113.46h0.9M210.76 117.22h0.9M210.72 117.49h0.9" stroke="#1a84ff" stroke-width="0.9" fill="none"/>
<path d="M225.65 65.6h0.85M225.44 66.96h0.85M227.21 60.93h0.85M248.33 46.75h0.85M246.82 53.74h0.85M234.19 64.27h0.85M253.39 45.07h0.85M241.29 52.99h0.85M235.55 56.89h0.85M253.61 56.02h0.85M231.17 64.39h0.85M234.63 59.94h0.85" stroke="#1a84ff" stroke-width="0.85" stroke-opacity="0.4" fill="none"/>
<line x1="217.5" y1="10.2" x2="217.5" y2="120.2" stroke="#222" stroke-width="0.8"/>
<line x1="160.3" y1="112.6" x2="270.7" y2="112.6" stroke="#333" stroke-width="1.1"/>
<rect x="160.3" y="10.2" width="110.4" height="110" fill="none" stroke="#111" stroke-width="1.3"/>
<path d="M157.7 20.6h2.6M157.7 45.4h2.6M157.7 70.2h2.6M157.7 95h2.6M157.7 119.8h2.6M160.6 120.2v2.6M185.2 120.2v2.6M209.8 120.2v2.6M234.4 120.2v2.6M259 120.2v2.6" stroke="#222" stroke-width="0.7"/>
<path d="M158.9 37.93h1.4M158.9 33.57h1.4M158.9 30.47h1.4M158.9 28.07h1.4M158.9 26.1h1.4M158.9 24.44h1.4M158.9 23h1.4M158.9 21.73h1.4M158.9 62.73h1.4M158.9 58.37h1.4M158.9 55.27h1.4M158.9 52.87h1.4M158.9 50.9h1.4M158.9 49.24h1.4M158.9 47.8h1.4M158.9 46.53h1.4M158.9 87.53h1.4M158.9 83.17h1.4M158.9 80.07h1.4M158.9 77.67h1.4M158.9 75.7h1.4M158.9 74.04h1.4M158.9 72.6h1.4M158.9 71.33h1.4M158.9 112.33h1.4M158.9 107.97h1.4M158.9 104.87h1.4M158.9 102.47h1.4M158.9 100.5h1.4M158.9 98.84h1.4M158.9 97.4h1.4M158.9 96.13h1.4M158.9 13.13h1.4M168.01 120.2v1.4M172.34 120.2v1.4M175.41 120.2v1.4M177.79 120.2v1.4M179.74 120.2v1.4M181.39 120.2v1.4M182.82 120.2v1.4M184.07 120.2v1.4M192.61 120.2v1.4M196.94 120.2v1.4M200.01 120.2v1.4M202.39 120.2v1.4M204.34 120.2v1.4M205.99 120.2v1.4M207.42 120.2v1.4M208.67 120.2v1.4M217.21 120.2v1.4M221.54 120.2v1.4M224.61 120.2v1.4M226.99 120.2v1.4M228.94 120.2v1.4M230.59 120.2v1.4M232.02 120.2v1.4M233.27 120.2v1.4M241.81 120.2v1.4M246.14 120.2v1.4M249.21 120.2v1.4M251.59 120.2v1.4M253.54 120.2v1.4M255.19 120.2v1.4M256.62 120.2v1.4M257.87 120.2v1.4M266.41 120.2v1.4" stroke="#555" stroke-width="0.5"/>
<text x="147.60" y="22.90" font-size="4" fill="#000" stroke="#000" stroke-width="0.15">10</text><text x="152.70" y="20.00" font-size="3.2" fill="#000" stroke="#000" stroke-width="0.13">5</text><text x="147.60" y="47.70" font-size="4" fill="#000" stroke="#000" stroke-width="0.15">10</text><text x="152.70" y="44.80" font-size="3.2" fill="#000" stroke="#000" stroke-width="0.13">4</text><text x="147.60" y="72.50" font-size="4" fill="#000" stroke="#000" stroke-width="0.15">10</text><text x="152.70" y="69.60" font-size="3.2" fill="#000" stroke="#000" stroke-width="0.13">3</text><text x="147.60" y="97.30" font-size="4" fill="#000" stroke="#000" stroke-width="0.15">10</text><text x="152.70" y="94.40" font-size="3.2" fill="#000" stroke="#000" stroke-width="0.13">2</text><text x="147.60" y="122.10" font-size="4" fill="#000" stroke="#000" stroke-width="0.15">10</text><text x="152.70" y="119.20" font-size="3.2" fill="#000" stroke="#000" stroke-width="0.13">1</text><text x="161.90" y="129.60" font-size="4" fill="#000" stroke="#000" stroke-width="0.15">10</text><text x="167.10" y="127.20" font-size="3.2" fill="#000" stroke="#000" stroke-width="0.13">1</text><text x="186.50" y="129.60" font-size="4" fill="#000" stroke="#000" stroke-width="0.15">10</text><text x="191.70" y="127.20" font-size="3.2" fill="#000" stroke="#000" stroke-width="0.13">2</text><text x="211.10" y="129.60" font-size="4" fill="#000" stroke="#000" stroke-width="0.15">10</text><text x="216.30" y="127.20" font-size="3.2" fill="#000" stroke="#000" stroke-width="0.13">3</text><text x="235.70" y="129.60" font-size="4" fill="#000" stroke="#000" stroke-width="0.15">10</text><text x="240.90" y="127.20" font-size="3.2" fill="#000" stroke="#000" stroke-width="0.13">4</text><text x="260.30" y="129.60" font-size="4" fill="#000" stroke="#000" stroke-width="0.15">10</text><text x="265.50" y="127.20" font-size="3.2" fill="#000" stroke="#000" stroke-width="0.13">5</text>
<text x="163.50" y="18.80" font-size="6.8" fill="#000" stroke="#000" stroke-width="0.15">Q1</text>
<text x="161.90" y="118.60" font-size="4.7" fill="#111" stroke="#111" stroke-width="0.14">Q4</text>
<text x="267.70" y="118.70" font-size="4.7" text-anchor="end" fill="#111" stroke="#111" stroke-width="0.14">Q3</text>
<text x="264.50" y="21.80" font-size="7" font-weight="bold" font-style="italic" text-anchor="end" fill="#000" stroke="#000" stroke-width="0.1">FACS A</text>
<text x="243.50" y="84.60" font-size="7" fill="#000" stroke="#000" stroke-width="0.16">Q2</text>
<text x="243.90" y="93.60" font-size="7.1" fill="#ff2a2a" stroke="#ff2a2a" stroke-width="0.18">16.9%</text>
<text x="243.90" y="101.60" font-size="7.1" fill="#2a8cff" stroke="#2a8cff" stroke-width="0.18">5.41%</text>
</g>
<g>
<path d="M98.82 195.15h0.85M96.16 200.04h0.85M93.95 212.21h0.85M94.38 208.37h0.85M90.12 222.64h0.85M90.37 193.18h0.85M93.22 193h0.85M97.27 200.43h0.85M98.2 193.22h0.85M88.62 221.24h0.85M94.08 195.06h0.85M97.7 205.84h0.85M92.07 190.42h0.85M96.35 193.49h0.85M90.89 222.91h0.85M96.89 195.34h0.85M94.62 194.14h0.85M94.46 209.17h0.85M90.09 222.63h0.85M99.91 192.02h0.85M94.72 207h0.85M92.3 211.87h0.85M88.85 220.83h0.85M98.23 193.51h0.85M96.83 208.39h0.85M98.44 198.39h0.85M95.33 196.08h0.85M95.73 191.59h0.85M95.9 209.04h0.85M97.81 188.5h0.85M93.76 209.33h0.85M99.59 191.58h0.85M99.51 196.4h0.85M94.14 191.79h0.85M95.21 208.5h0.85M96.47 200.84h0.85M94.64 211.69h0.85M101.4 193.92h0.85M94.81 205.35h0.85M97.17 202.52h0.85M96.57 201.01h0.85M97.45 191.23h0.85M98.32 201.13h0.85M91.62 212.67h0.85M91.92 213.17h0.85M91.15 216.66h0.85M91.07 190.86h0.85M88.71 222.58h0.85M101.16 196.81h0.85M96.54 192.39h0.85M100.15 195.95h0.85M90.86 194.6h0.85M97.96 200.48h0.85M89.87 217.5h0.85M92.61 217.73h0.85M101.22 193.06h0.85M93.48 194.5h0.85M91.13 217.41h0.85M92.06 196.96h0.85M94.09 197.83h0.85M94.27 194.53h0.85M97.76 197.03h0.85M93.23 211.05h0.85M98.84 190.21h0.85M95.93 193.91h0.85M94.34 204.93h0.85M89.91 222.68h0.85M98.54 193.13h0.85M97.73 191.53h0.85M98.57 191.85h0.85M96.23 204.51h0.85M95.8 191.91h0.85M97.31 198.07h0.85M93.62 211.97h0.85M96.31 196.46h0.85M97.5 203.24h0.85M94.62 191.4h0.85M96.42 191.4h0.85M93.48 191.44h0.85M96.07 195.32h0.85M99.77 196.31h0.85M95.18 205.57h0.85M94.18 216.38h0.85M89.45 223.16h0.85M94.14 197.39h0.85M91.89 195.03h0.85M97.48 192.07h0.85M99.2 196.95h0.85M99.89 190.65h0.85M97.28 201.87h0.85M97.94 195.36h0.85M98.97 189.47h0.85M92.45 214.37h0.85M92.31 218.48h0.85M91.89 212.85h0.85M89.55 222.46h0.85M95.33 208.63h0.85M98.48 191.87h0.85M96.83 197.4h0.85M92.07 200.03h0.85M98.17 190.57h0.85M93.9 190.33h0.85M92.31 192.01h0.85M92.77 194.2h0.85M94.4 208.52h0.85M89.37 224.27h0.85M93.55 215.1h0.85M97.08 191.32h0.85M98.2 190.99h0.85M94.53 197.07h0.85M97.12 196.84h0.85M93.29 212.72h0.85M90.13 220.75h0.85M90.85 192.11h0.85M89.73 220.91h0.85M96.78 204.02h0.85M94.7 207.95h0.85M94.61 196.29h0.85M90.95 220.48h0.85M91.53 212.9h0.85M98.03 202.17h0.85M94.36 190.83h0.85M97.17 196.83h0.85M97.46 203.48h0.85M93.15 196.23h0.85M95.06 195.55h0.85M94.92 194.94h0.85M98.78 199.01h0.85M95.57 198.74h0.85M98.11 192.65h0.85M97.7 198.36h0.85M91.66 194.87h0.85M96.24 200.37h0.85M97.79 199.14h0.85M93.63 211.94h0.85M95.41 193.34h0.85M91.46 194.14h0.85M95.5 205.17h0.85M89.85 194h0.85M95.3 194.53h0.85M96.1 198.35h0.85M93.57 189.96h0.85M93.77 191.34h0.85M98.41 192.4h0.85M95.9 200.02h0.85M96.01 199.99h0.85M95.41 205.3h0.85M89.56 222.53h0.85M95.43 210.41h0.85M90.03 219.49h0.85M95.56 189.32h0.85M99.34 195.7h0.85M97.2 202.42h0.85M88.58 220.44h0.85M93.05 199.11h0.85M97.14 190.29h0.85M100.26 196.03h0.85M94.98 202.21h0.85M94.67 196.43h0.85M95.23 197.03h0.85M95.64 196.26h0.85M95.81 205.2h0.85M97.37 194.08h0.85M93.92 209.48h0.85M96.33 200.22h0.85M94.81 206.72h0.85M96.43 199.78h0.85M89.28 222.02h0.85M96.4 194.59h0.85M95.43 206.73h0.85" stroke="#ff2a2a" stroke-width="0.85" stroke-opacity="0.7" fill="none"/>
<path d="M114.6 174.99h0.8M99.04 190.69h0.8M95.82 190.02h0.8M99.34 183.85h0.8M96.89 190.23h0.8M95.19 189.8h0.8M116.7 179.19h0.8M117.45 173.48h0.8M115.98 175.8h0.8M109.49 180.8h0.8M109.69 175.56h0.8M97.61 189.8h0.8M110.48 177.18h0.8M114.3 180.22h0.8M129.27 170.31h0.8M93.56 191.42h0.8M118.91 169.85h0.8M120.63 172.84h0.8M102.98 185.23h0.8M114.17 178.67h0.8M98.71 187.11h0.8M123.05 167.88h0.8M96.05 189.35h0.8M98.03 186.09h0.8M106.41 186.63h0.8M105.42 181.42h0.8M109.26 178.85h0.8M94.9 190.39h0.8M93.16 188.77h0.8M99.85 185.96h0.8M103.28 184.28h0.8M102.31 184.12h0.8M127.3 167.12h0.8M98.17 191.15h0.8M109.77 181.08h0.8M110.72 176.19h0.8M121.26 170.95h0.8M94.89 192.28h0.8M129.15 164.88h0.8M98.13 188.42h0.8M123.88 170.06h0.8M122.1 172.64h0.8M111.92 178.11h0.8M104.24 183.6h0.8M94.66 188.62h0.8" stroke="#ff2a2a" stroke-width="0.8" stroke-opacity="0.3" fill="none"/>
<path d="M81.3 197.5L79.3 199.4L78.3 202.9L77.7 207.9L77.7 216.9L78 223.9L78.9 229.4L79.9 233.2L81.3 232.4L82.5 231.4L84.8 226.9L87.3 221.9L88.9 216.9L90.6 209.9L91.3 202.9L91.3 197.9L88.3 196.9Z" fill="#1a84ff"/>
<path d="M93.96 200.17h0.9M97.32 194.75h0.9M93.8 197.98h0.9M94.56 198.26h0.9M89.89 218.46h0.9M94.19 201.6h0.9M96.6 195.44h0.9M89.86 192.7h0.9M92.51 195.8h0.9M89.13 206h0.9M91.33 192.82h0.9M88.81 219.23h0.9M94.52 194.32h0.9M95.96 202.72h0.9M97.76 196.04h0.9M94.77 201.01h0.9M96.54 196.57h0.9M93.19 210.04h0.9M87.8 219.29h0.9M90.26 205.88h0.9M96.8 194.75h0.9M87.93 213.93h0.9M95.08 198.96h0.9M94.94 204.32h0.9M87.82 199.39h0.9M88.96 205.69h0.9M91.71 204.38h0.9M92 210.73h0.9M90.92 216.06h0.9M92.83 194.18h0.9M94.71 194.25h0.9M89.86 195.53h0.9M88.75 212.64h0.9M90.83 194.14h0.9M91.5 214.89h0.9M96.39 198.67h0.9M91.23 193.52h0.9M88.77 215.5h0.9M90.44 215.63h0.9M91.36 199.55h0.9M88.83 200.52h0.9M88.69 220.36h0.9M86.55 219.36h0.9M94.03 198.71h0.9M89.76 203.44h0.9M93.25 195.7h0.9M87.74 198.7h0.9M95.1 193.7h0.9M87.9 195.63h0.9M88.95 216.2h0.9M90.25 217.21h0.9M93.88 193.47h0.9M89.65 214.42h0.9M93.28 204.13h0.9M93.36 200.91h0.9M93.08 195.54h0.9M89.44 193.31h0.9M92.83 206.96h0.9M89.39 202.47h0.9M94.39 203.23h0.9M88.59 197.99h0.9M92.4 203.43h0.9M92.58 197.82h0.9M91.18 192.51h0.9M94.13 204.23h0.9M94.3 203.68h0.9M95.86 199.26h0.9M88.27 193.39h0.9M90.44 216.26h0.9M94.19 209.33h0.9M93.13 194.17h0.9M94.01 197.21h0.9M88.1 193.98h0.9M88.66 211.12h0.9M90.34 201.52h0.9M89.58 201.37h0.9M90.11 201.88h0.9M96.36 194.07h0.9M91.31 208.26h0.9M89.65 205.73h0.9M97.06 198.42h0.9M89.63 206.43h0.9M89.23 217.51h0.9M90.75 197.58h0.9M92.75 195.74h0.9M89.51 196.32h0.9M93.23 204.51h0.9M88.66 203.87h0.9M88.62 207.17h0.9M87.65 202.86h0.9M94.25 205.37h0.9M87.88 202.54h0.9M90.07 195.18h0.9M90.68 203.6h0.9M90.58 212.57h0.9M96.5 201.56h0.9M92.28 200.12h0.9M88.76 199.17h0.9M89.7 206.25h0.9M89.88 206.65h0.9M88.77 220.62h0.9M91.1 212.56h0.9M93.15 206.97h0.9M90.73 218.7h0.9M92.42 196.57h0.9M89.02 207.9h0.9M93.56 200.55h0.9M90.12 218.32h0.9M95.73 196.3h0.9M96.07 193.95h0.9M96.62 198.07h0.9M94.15 206.54h0.9M88.85 198.11h0.9M90.09 213.69h0.9M91.04 206.59h0.9M91.37 203.72h0.9M94.55 196.21h0.9M90.36 211.84h0.9M91.68 207.07h0.9M88.76 207.56h0.9M90.69 208.51h0.9M93.2 197.42h0.9M87.54 213.58h0.9M92.17 193.91h0.9M95.98 196.81h0.9M91.19 197.15h0.9M91.18 215.31h0.9M89.71 200.01h0.9M93.3 200.15h0.9M93.47 207.31h0.9M88 203.68h0.9M95.67 205.36h0.9M89.63 216.81h0.9M88.57 202.62h0.9M95.37 198.39h0.9M86.56 222.03h0.9M92.66 194.56h0.9M92.89 212.37h0.9M95.14 191.18h0.9M94.86 204.6h0.9M94.69 199.14h0.9M96.3 194.96h0.9M89.95 214.66h0.9M90.48 206.04h0.9M91.2 201.64h0.9M87.36 199.55h0.9M91.5 202h0.9M89.14 195.18h0.9M88.85 211.01h0.9M90.49 209.71h0.9M89.63 194.63h0.9M87.88 210.43h0.9M94.14 196.46h0.9M97.95 196.81h0.9M87.89 199.37h0.9M88.2 194.42h0.9M96.23 197.77h0.9M87.84 218.82h0.9M94.5 204.42h0.9M90.28 208.46h0.9M96.65 198.07h0.9M90 207.25h0.9M91.49 212.93h0.9M95.75 196.27h0.9M90.07 198.76h0.9M96.23 202.64h0.9M92.56 208.43h0.9M89.01 218.88h0.9M91.96 203.25h0.9M96.33 196.15h0.9M86.57 221.08h0.9M90.41 216.66h0.9M90.3 205.55h0.9M88.75 205.8h0.9M86.99 205.86h0.9M90.81 208.58h0.9M88.95 201.09h0.9M87.91 212.62h0.9M95.87 197.31h0.9M87.44 215.27h0.9M90.46 201.92h0.9M89.62 206.71h0.9M90.29 204.23h0.9M89.48 196.87h0.9M94.91 200.84h0.9M90.13 201.23h0.9M90.76 196.57h0.9M91.45 198.51h0.9M93.68 194.49h0.9M89.75 217.51h0.9M88.65 216.59h0.9M95.93 199.75h0.9M95.62 198.96h0.9M92.69 204.95h0.9M89.17 200.66h0.9M97.07 194.32h0.9M91.5 206.38h0.9M88.86 194.27h0.9M91.57 202.96h0.9M89.38 199.91h0.9M89.38 211.98h0.9M91.78 213.61h0.9M91.13 194.81h0.9M95.43 202.55h0.9M87.68 202.86h0.9M96.57 193.97h0.9M89.09 194.52h0.9M93.51 207.8h0.9M92.52 202.54h0.9M93.44 192.97h0.9" stroke="#1a84ff" stroke-width="0.9" stroke-opacity="0.88" fill="none"/>
<path d="M79.56 199.34h0.9M79.24 198.66h0.9M80.19 199.26h0.9M81.33 198.49h0.9M81.79 197.64h0.9M80 198.31h0.9M76.53 202.47h0.9M77.07 199.89h0.9M78.23 202.4h0.9M78.26 201.37h0.9M79.33 202.07h0.9M78.46 200.64h0.9M77.22 200.48h0.9M77.84 202.18h0.9M77.61 207.2h0.9M76.33 207.06h0.9M79.17 204.59h0.9M79.59 205.64h0.9M77.68 203.92h0.9M77.1 207.93h0.9M76.89 203.77h0.9M76.95 206.11h0.9M77.29 202.16h0.9M78.11 203.47h0.9M77.29 205.39h0.9M77.28 210.8h0.9M76.57 216.3h0.9M77.63 211.66h0.9M77.18 211.2h0.9M76.88 215.12h0.9M77.33 216.07h0.9M77.78 215.17h0.9M77.33 211.25h0.9M77.15 213.2h0.9M77.95 209.66h0.9M76.3 213.13h0.9M77.71 215.33h0.9M76.95 209.71h0.9M77.25 215.25h0.9M77.3 210.84h0.9M78.52 213.27h0.9M75.69 209.2h0.9M77.81 211.6h0.9M77.62 216.48h0.9M76.66 219.39h0.9M76.55 224.7h0.9M76.37 220.19h0.9M77.91 223.19h0.9M77.45 219.91h0.9M77.46 221.64h0.9M77.61 222.12h0.9M77.83 223.54h0.9M76.87 220.28h0.9M77.74 218.63h0.9M76.5 219.04h0.9M78.06 217.71h0.9M77.71 216.92h0.9M77.68 219.08h0.9M76.9 222.98h0.9M78.14 226.42h0.9M77.56 227.84h0.9M77.31 226.82h0.9M77.73 225.65h0.9M79.58 225.59h0.9M78.07 228.03h0.9M77.13 224.81h0.9M78.46 225.72h0.9M78.56 228.08h0.9M77.31 227.78h0.9M77.15 224.54h0.9M77.85 226.76h0.9M78.61 233.26h0.9M78.93 230.39h0.9M78.46 230.67h0.9M78.29 229.27h0.9M78.07 229.47h0.9M78.55 231.34h0.9M79.52 230.07h0.9M79.07 231.66h0.9M79.15 232.36h0.9M79.19 233.16h0.9M80.51 233.35h0.9M80.81 232.76h0.9M79.97 232.4h0.9M81.4 232.48h0.9M82.67 231.18h0.9M83.19 228.37h0.9M84.3 228.82h0.9M82.07 231.78h0.9M83.22 230.66h0.9M83.16 228.6h0.9M84.29 227.36h0.9M81.33 230.63h0.9M85 227.8h0.9M84.6 227.93h0.9M83.57 228.76h0.9M87.14 222.59h0.9M86.03 224.2h0.9M84.02 224.41h0.9M83.5 226.28h0.9M85.9 222.98h0.9M86.16 222.08h0.9M86.43 222.21h0.9M88.25 221.69h0.9M85.26 224.74h0.9M85.64 222.78h0.9M85.48 223.91h0.9M85.99 224.27h0.9M87.07 221.01h0.9M89.16 217.02h0.9M88.6 218.42h0.9M87.87 219.14h0.9M88.13 216.37h0.9M87.85 217.31h0.9M87.41 219.91h0.9M88.36 219.97h0.9M86.37 219.03h0.9M87.85 219.66h0.9M88.94 218.37h0.9M89.96 210.53h0.9M90.13 210.02h0.9M88.01 214.68h0.9M88.88 213.25h0.9M88.39 212.83h0.9M88.73 215.44h0.9M88.45 216.83h0.9M89.57 215.68h0.9M89.78 209.88h0.9M87.87 213.31h0.9M89.13 214.68h0.9M89.55 217.4h0.9M89.28 213.04h0.9M88.87 210.27h0.9M88.61 215.14h0.9M91.68 209.09h0.9M91.72 205.3h0.9M90.73 208.62h0.9M90.01 206.08h0.9M90.2 205.15h0.9M90.07 206.64h0.9M91.23 204.46h0.9M89.41 205.88h0.9M91 207.68h0.9M89.66 206.11h0.9M91.39 203.66h0.9M90.6 208.12h0.9M90.88 204.39h0.9M90.65 205.91h0.9M90.6 203.07h0.9M90.8 198.13h0.9M90.36 198.77h0.9M90.42 200.36h0.9M91.71 201.19h0.9M91.55 200.15h0.9M91.1 198.29h0.9M91.69 202.59h0.9M91.11 198.49h0.9M89.99 201.76h0.9M90.4 198.32h0.9M89.97 203.53h0.9M88.6 197.83h0.9M88.81 198.1h0.9M89 197.18h0.9M88.38 196.9h0.9M88.62 196.42h0.9M89.34 197.27h0.9M84.72 197.15h0.9M84.28 196.03h0.9M87.68 197.12h0.9M84.02 196.41h0.9M81.73 196.66h0.9M85.26 195.38h0.9M82.52 198.75h0.9M86.62 196.1h0.9M82.7 197.94h0.9M85.05 197.02h0.9M82.8 197.87h0.9M83.14 197.88h0.9M85.11 196.83h0.9M87.56 196.66h0.9M81.59 197.02h0.9" stroke="#1a84ff" stroke-width="0.9" fill="none"/>
<path d="M106.03 184.18h0.85M94.09 192.63h0.85M97.61 194.64h0.85M92.24 192.74h0.85M95.93 191.64h0.85M103.12 186.08h0.85M99.64 190.07h0.85M93.32 192.82h0.85M96.12 192.11h0.85M102.93 186.62h0.85M96.65 194.19h0.85M106.93 185.94h0.85M92.43 189.53h0.85M100.16 188.26h0.85M102.85 186.18h0.85" stroke="#1a84ff" stroke-width="0.85" stroke-opacity="0.55" fill="none"/>
<line x1="87.5" y1="132.9" x2="87.5" y2="242.9" stroke="#222" stroke-width="0.8"/>
<line x1="30.3" y1="235.3" x2="140.7" y2="235.3" stroke="#333" stroke-width="1.1"/>
<rect x="30.3" y="132.9" width="110.4" height="110" fill="none" stroke="#111" stroke-width="1.3"/>
<path d="M27.7 143.3h2.6M27.7 168.1h2.6M27.7 192.9h2.6M27.7 217.7h2.6M27.7 242.5h2.6M30.6 242.9v2.6M55.2 242.9v2.6M79.8 242.9v2.6M104.4 242.9v2.6M129 242.9v2.6" stroke="#222" stroke-width="0.7"/>
<path d="M28.9 160.63h1.4M28.9 156.27h1.4M28.9 153.17h1.4M28.9 150.77h1.4M28.9 148.8h1.4M28.9 147.14h1.4M28.9 145.7h1.4M28.9 144.43h1.4M28.9 185.43h1.4M28.9 181.07h1.4M28.9 177.97h1.4M28.9 175.57h1.4M28.9 173.6h1.4M28.9 171.94h1.4M28.9 170.5h1.4M28.9 169.23h1.4M28.9 210.23h1.4M28.9 205.87h1.4M28.9 202.77h1.4M28.9 200.37h1.4M28.9 198.4h1.4M28.9 196.74h1.4M28.9 195.3h1.4M28.9 194.03h1.4M28.9 235.03h1.4M28.9 230.67h1.4M28.9 227.57h1.4M28.9 225.17h1.4M28.9 223.2h1.4M28.9 221.54h1.4M28.9 220.1h1.4M28.9 218.83h1.4M28.9 135.83h1.4M38.01 242.9v1.4M42.34 242.9v1.4M45.41 242.9v1.4M47.79 242.9v1.4M49.74 242.9v1.4M51.39 242.9v1.4M52.82 242.9v1.4M54.07 242.9v1.4M62.61 242.9v1.4M66.94 242.9v1.4M70.01 242.9v1.4M72.39 242.9v1.4M74.34 242.9v1.4M75.99 242.9v1.4M77.42 242.9v1.4M78.67 242.9v1.4M87.21 242.9v1.4M91.54 242.9v1.4M94.61 242.9v1.4M96.99 242.9v1.4M98.94 242.9v1.4M100.59 242.9v1.4M102.02 242.9v1.4M103.27 242.9v1.4M111.81 242.9v1.4M116.14 242.9v1.4M119.21 242.9v1.4M121.59 242.9v1.4M123.54 242.9v1.4M125.19 242.9v1.4M126.62 242.9v1.4M127.87 242.9v1.4M136.41 242.9v1.4" stroke="#555" stroke-width="0.5"/>
<text x="17.60" y="145.60" font-size="4" fill="#000" stroke="#000" stroke-width="0.15">10</text><text x="22.70" y="142.70" font-size="3.2" fill="#000" stroke="#000" stroke-width="0.13">5</text><text x="17.60" y="170.40" font-size="4" fill="#000" stroke="#000" stroke-width="0.15">10</text><text x="22.70" y="167.50" font-size="3.2" fill="#000" stroke="#000" stroke-width="0.13">4</text><text x="17.60" y="195.20" font-size="4" fill="#000" stroke="#000" stroke-width="0.15">10</text><text x="22.70" y="192.30" font-size="3.2" fill="#000" stroke="#000" stroke-width="0.13">3</text><text x="17.60" y="220.00" font-size="4" fill="#000" stroke="#000" stroke-width="0.15">10</text><text x="22.70" y="217.10" font-size="3.2" fill="#000" stroke="#000" stroke-width="0.13">2</text><text x="17.60" y="244.80" font-size="4" fill="#000" stroke="#000" stroke-width="0.15">10</text><text x="22.70" y="241.90" font-size="3.2" fill="#000" stroke="#000" stroke-width="0.13">1</text><text x="31.90" y="252.30" font-size="4" fill="#000" stroke="#000" stroke-width="0.15">10</text><text x="37.10" y="249.90" font-size="3.2" fill="#000" stroke="#000" stroke-width="0.13">1</text><text x="56.50" y="252.30" font-size="4" fill="#000" stroke="#000" stroke-width="0.15">10</text><text x="61.70" y="249.90" font-size="3.2" fill="#000" stroke="#000" stroke-width="0.13">2</text><text x="81.10" y="252.30" font-size="4" fill="#000" stroke="#000" stroke-width="0.15">10</text><text x="86.30" y="249.90" font-size="3.2" fill="#000" stroke="#000" stroke-width="0.13">3</text><text x="105.70" y="252.30" font-size="4" fill="#000" stroke="#000" stroke-width="0.15">10</text><text x="110.90" y="249.90" font-size="3.2" fill="#000" stroke="#000" stroke-width="0.13">4</text><text x="130.30" y="252.30" font-size="4" fill="#000" stroke="#000" stroke-width="0.15">10</text><text x="135.50" y="249.90" font-size="3.2" fill="#000" stroke="#000" stroke-width="0.13">5</text>
<text x="33.50" y="141.50" font-size="6.8" fill="#000" stroke="#000" stroke-width="0.15">Q1</text>
<text x="31.90" y="241.30" font-size="4.7" fill="#111" stroke="#111" stroke-width="0.14">Q4</text>
<text x="137.70" y="241.40" font-size="4.7" text-anchor="end" fill="#111" stroke="#111" stroke-width="0.14">Q3</text>
<text x="134.50" y="144.50" font-size="7" font-weight="bold" font-style="italic" text-anchor="end" fill="#000" stroke="#000" stroke-width="0.1">Control B</text>
<text x="115.70" y="207.30" font-size="7" fill="#000" stroke="#000" stroke-width="0.16">Q2</text>
<text x="116.10" y="216.30" font-size="7.1" fill="#ff2a2a" stroke="#ff2a2a" stroke-width="0.18">15.5%</text>
<text x="116.10" y="224.30" font-size="7.1" fill="#2a8cff" stroke="#2a8cff" stroke-width="0.18">9.33%</text>
</g>
<g>
<path d="M214.94 224.21h0.85M214.08 218.3h0.85M210.88 224.13h0.85M208.77 204.8h0.85M210.82 207.48h0.85M208.33 204.58h0.85M215.57 217.63h0.85M209.68 206.01h0.85M212.58 229.38h0.85M211.66 214.02h0.85M208.46 204.33h0.85M214.07 221.9h0.85M208.47 214.71h0.85M215.13 213.08h0.85M215.56 211.4h0.85M214.27 225.66h0.85M211.94 214.97h0.85M207.61 214.87h0.85M208.48 212.59h0.85M207.52 209.03h0.85M214.91 219.88h0.85M210.61 224.81h0.85M209.42 206.6h0.85M216.68 212.59h0.85M210.41 223.89h0.85M210.72 208.93h0.85M218.38 216.71h0.85M210.48 203.25h0.85M215.85 222.99h0.85M209.11 210.04h0.85M207.5 216.9h0.85M207.86 200.03h0.85M210.26 206.31h0.85M217.13 215.06h0.85M212.34 221.73h0.85M210.09 225.92h0.85M213.85 227.79h0.85M214.5 214.07h0.85M207.72 207.75h0.85M212.11 232.23h0.85M207.51 227.55h0.85M208.26 219.61h0.85M215.37 215.53h0.85M209.73 210.09h0.85M214.4 222.23h0.85M213.77 226.89h0.85M210.99 219.32h0.85M207.15 208.72h0.85M213.72 226.36h0.85M213.7 227.91h0.85M212.88 217.27h0.85M208.04 216.43h0.85M213.18 211.84h0.85M207.34 218.49h0.85M208.67 220.62h0.85M208.87 211.39h0.85M213.82 222.76h0.85M206.01 218.82h0.85M212.83 211.15h0.85M211.7 220.1h0.85M215.53 226.36h0.85M215.99 217.99h0.85M209.85 224.57h0.85M207.4 199.97h0.85M206.33 200.94h0.85M210.9 213.01h0.85M214.97 224.46h0.85M207.5 204.08h0.85M206.86 213.36h0.85M208.82 219.02h0.85M211.36 214.08h0.85M212.76 226.29h0.85M216.86 216.07h0.85M210.61 228.34h0.85M206.51 208.58h0.85M206.01 202.83h0.85M209.84 230.4h0.85M210.35 214.58h0.85M208.44 213.03h0.85M209.09 222.01h0.85M206.88 217.15h0.85M208.43 222.2h0.85M210.13 205.94h0.85M208.45 225.35h0.85M210.1 220.6h0.85M208.28 220.6h0.85M208.78 226.55h0.85M208.14 213.45h0.85M208.06 208.02h0.85M212.6 229.59h0.85M211.46 221.9h0.85M208.85 215.84h0.85M209.19 208.46h0.85M209.21 224.06h0.85M211.93 210.56h0.85M216.78 220.87h0.85M206.26 212.87h0.85M211.59 217.58h0.85M210.06 206.81h0.85M207.92 201.84h0.85M213.36 223.79h0.85M209.22 216.17h0.85M213.59 228.19h0.85M207.07 217.14h0.85M206.9 219.31h0.85M213.52 221.02h0.85M210.5 217.02h0.85M216.68 217.23h0.85M211.26 225.16h0.85M209.7 204.88h0.85M213.75 216.28h0.85M205.1 211.16h0.85M215.6 216.02h0.85M212.92 211.21h0.85M209.96 210.38h0.85M217.2 219.02h0.85M206.85 208.24h0.85M208.73 224.55h0.85M208.63 217.79h0.85M211.59 211.43h0.85M216.99 216.4h0.85M209.77 205.31h0.85M210.02 204.82h0.85M213.62 224.87h0.85M211.94 224.22h0.85M215.08 219.27h0.85M207.31 221.42h0.85M206.42 216.18h0.85M207.49 223.69h0.85M214.05 223.54h0.85M206.68 205.65h0.85M206.71 211.69h0.85M208.65 199.77h0.85M209.04 219.59h0.85M207.4 215.78h0.85M211.52 219.83h0.85M213.72 214.31h0.85M215.23 217.68h0.85M207.94 218.44h0.85M213.18 212.17h0.85M215.26 212.52h0.85M214.66 219.67h0.85M207.59 211.26h0.85M208.32 213.55h0.85M214.85 220.83h0.85M214.27 227.74h0.85M209.38 211.77h0.85M212.37 228.93h0.85M214.34 230.11h0.85M212.18 213.02h0.85M208.47 211.44h0.85M215.39 216.57h0.85M208.57 223.07h0.85M215.69 212.68h0.85M207.54 224.9h0.85M213.2 222.87h0.85M219.46 218.67h0.85M208.94 201.04h0.85M211.01 210.3h0.85M208.26 220.28h0.85M209.7 208.9h0.85M214.81 216.3h0.85M212.64 219.41h0.85M210.62 228.39h0.85M217.11 218.36h0.85M209.12 217.17h0.85M208.97 226.29h0.85M212.09 214.9h0.85M209.65 215.85h0.85M214.6 211.6h0.85M212.52 211.36h0.85M210.54 205.21h0.85M213.89 225.63h0.85M210.67 221.22h0.85M216.81 216.3h0.85M213.2 220.85h0.85M210.06 225.53h0.85M206.66 217.28h0.85M211.83 225.19h0.85M212.74 221.32h0.85M211.74 230.07h0.85M211.53 220.38h0.85M210.88 233.16h0.85M214.87 225.34h0.85M206.45 213.44h0.85M215.75 224.14h0.85M210.28 203.44h0.85M216.11 224.15h0.85M210.12 224.8h0.85M212.09 226.4h0.85M214.4 220.04h0.85M207.75 202.65h0.85M207.24 199.94h0.85M212.64 209.74h0.85M209.8 209.18h0.85M208.22 208.25h0.85M208.7 210.18h0.85M211.24 206.62h0.85M212.55 224.94h0.85M207.94 209.02h0.85M217.16 215.75h0.85M215.66 227.99h0.85M214.5 215.17h0.85M215.85 222.81h0.85M209.66 228.89h0.85M207.04 199.64h0.85M211.34 230.55h0.85M207.72 203.62h0.85M209.76 229.07h0.85M208.68 203.52h0.85M210.95 222.48h0.85M209.41 227.07h0.85M210.18 227.98h0.85M212.41 226.15h0.85M209.72 228.41h0.85M212.16 226.3h0.85M214.6 218.45h0.85M207.13 206.01h0.85M212.64 224.84h0.85M210.09 232.43h0.85M212.46 226.29h0.85M213.95 227.41h0.85M212.24 214.44h0.85M210.36 220.47h0.85M213.37 216.33h0.85M213.25 215.69h0.85M214.96 216.86h0.85M209.77 210.26h0.85M216.35 219.19h0.85M216.35 218.12h0.85M214.95 220.74h0.85M212.19 219.14h0.85M208.04 199.8h0.85M211.76 224.03h0.85M208.99 200.08h0.85M212.72 210.42h0.85M209.02 206.4h0.85M208 201.41h0.85M211.59 214.16h0.85M209.8 218.28h0.85M208.7 221.6h0.85M210.74 209.66h0.85M216.38 221.97h0.85M215.38 222.05h0.85M206.88 206.55h0.85M216.93 214.39h0.85M209.19 203.16h0.85M209.75 221.75h0.85M207.48 204.97h0.85M214.09 228.05h0.85M214.98 219.6h0.85M210.89 223.16h0.85M211.25 225.99h0.85M212.08 220.56h0.85M213.78 216.29h0.85M207.37 218.42h0.85M209.75 217.14h0.85M215.48 212.64h0.85M207.31 206.04h0.85M207.03 219.25h0.85M209 229.47h0.85M213.89 222.91h0.85M206.68 218.89h0.85M214.91 214.46h0.85M214.85 213.36h0.85M209.69 213.19h0.85M208.55 216.25h0.85M216.12 215.87h0.85M209.86 216.26h0.85M210.67 214.2h0.85M213.12 223.99h0.85M211.76 217.18h0.85M216.07 223.58h0.85M211.77 212.7h0.85M211.32 223.39h0.85M211.9 231.2h0.85M213.2 214.54h0.85M217.39 215.92h0.85M207.3 224.21h0.85M208.93 216.04h0.85M214.16 215.2h0.85M213.79 221.17h0.85M207.86 212.62h0.85M208.24 202.94h0.85M209.19 204.98h0.85M212.49 213.99h0.85M214.31 222.23h0.85M214.04 224.85h0.85M208.34 223.55h0.85M210.16 206.18h0.85M209.78 228.63h0.85M211.12 230.19h0.85M212.64 217.41h0.85M215.59 226.83h0.85M208.61 210.99h0.85M209.64 229.22h0.85M207 218.08h0.85M209.94 228.94h0.85M209.41 202.14h0.85M211.69 225.03h0.85M211.64 230.27h0.85M207.13 206.9h0.85M210.48 207.1h0.85M213.08 214h0.85M216.29 212.18h0.85M206.49 221.49h0.85M207.7 206.35h0.85M209.26 219.18h0.85M208.34 219.7h0.85M207.95 221.73h0.85M207.56 215.34h0.85M212.38 228.15h0.85M206.55 217.69h0.85M206.77 216.54h0.85M212.16 217.39h0.85M210.61 226.49h0.85M213.51 218.26h0.85M214.96 214.41h0.85M208.44 208.3h0.85M209.61 218.98h0.85M209.57 209.57h0.85M212 230.37h0.85M211.6 210.17h0.85M206.97 208.66h0.85M214.57 217.86h0.85M211.43 218.44h0.85M211.68 211.17h0.85M217.25 215.67h0.85M206.83 221.16h0.85M212.46 224.27h0.85M212.12 221.87h0.85M214.73 213.81h0.85M212.8 212.98h0.85M213.92 218.99h0.85M208.05 212.35h0.85M211.59 211.93h0.85M204.68 206.1h0.85M208.27 226.75h0.85M211.2 211.32h0.85M209.15 208.57h0.85M209.61 209.71h0.85M210.87 214.27h0.85M205.86 213.57h0.85M207.79 206.17h0.85M213.84 220.7h0.85M206.36 209.76h0.85M211.71 222.61h0.85M212.83 221.54h0.85M212.29 216.46h0.85M207.95 216.35h0.85M206.74 206.48h0.85M215.76 213.08h0.85M207.32 217.77h0.85M212.4 220.4h0.85M214.68 218.33h0.85M205.99 219.62h0.85M213.28 215.89h0.85M206.43 205.55h0.85M213.67 224.93h0.85M211.8 220.55h0.85M214.68 224.46h0.85M213.09 219.45h0.85M210.91 216.17h0.85M215.11 225.66h0.85M207.11 218.82h0.85M216.74 217.78h0.85M212.04 228.94h0.85M212.41 228.31h0.85M213.74 216.69h0.85M211.32 226.81h0.85M206.9 210.82h0.85M207.49 222.32h0.85M211.56 230.46h0.85M209.35 230.51h0.85M213.61 223.72h0.85M211.18 213.46h0.85M212.58 226.41h0.85M208.65 228.72h0.85M213.9 212.57h0.85M211.66 217.73h0.85M210.33 217.06h0.85M207.29 219.08h0.85M210.13 222.19h0.85M207.29 215.39h0.85M212.28 214.94h0.85M210.14 212.38h0.85M208.2 216.45h0.85M215.49 214.69h0.85M209.57 228.55h0.85M215.45 223.46h0.85M206.42 207.42h0.85M214.33 211.74h0.85M207.38 202.87h0.85M209.21 218.57h0.85M215.26 221.29h0.85M207.03 215.08h0.85M212.42 217.84h0.85M211.51 222.54h0.85M209.86 228.36h0.85M207.67 204.59h0.85M207.01 209.61h0.85M211.09 226.37h0.85M211.02 215.52h0.85M209.4 229.24h0.85M207.96 204.64h0.85M213.19 227.54h0.85M210.41 223.51h0.85M215.64 222.47h0.85M213.13 232.56h0.85M208.08 209.64h0.85M207.98 199.05h0.85M216.45 220.22h0.85M214.34 217.41h0.85M215.28 218.95h0.85M206.4 209.31h0.85M209.04 210.04h0.85M211.83 231.13h0.85M215 213.12h0.85M215.67 221.31h0.85M211.98 218.83h0.85M214.19 213.38h0.85M210.26 209.7h0.85M216.44 216.99h0.85M207.77 202.08h0.85M208.44 218.48h0.85M211.99 214.06h0.85M212.96 227.46h0.85M206.65 210.75h0.85M212.33 215.76h0.85M206.41 216.62h0.85M207.4 204.54h0.85M216.63 221.83h0.85M209.22 226.09h0.85M207.49 221.7h0.85M210.5 214.81h0.85M208.9 204.38h0.85M207.24 214.99h0.85M214.74 220.68h0.85M209.9 216.95h0.85M211.42 226.42h0.85M211.71 222.2h0.85M213.49 220.62h0.85M206.44 213.18h0.85M215.32 212.44h0.85M207.76 213.87h0.85M212.77 213.55h0.85M210.48 215h0.85M212.53 230.68h0.85M206.05 204.88h0.85M214.63 216.77h0.85M209.39 220.61h0.85M206.75 219.24h0.85M214.36 216.1h0.85M215.24 218.85h0.85M207.96 213.41h0.85M212.89 219.67h0.85M206.22 206.65h0.85M209.23 206.09h0.85M210.91 209.72h0.85M208.86 211.87h0.85M206.46 202.18h0.85M207.77 205.11h0.85M213.74 221.38h0.85M215.46 214.47h0.85M213.25 219.99h0.85M209.42 231.48h0.85M208.54 210.49h0.85M209.69 204.34h0.85M209.08 224.64h0.85M206.2 214.65h0.85M213.96 224.81h0.85M213.09 213.81h0.85M207.81 212.59h0.85M211.9 210.14h0.85M208.89 211.78h0.85M212.27 214.87h0.85M207.06 218.3h0.85M213.09 216.04h0.85M211.75 209.22h0.85M208.37 199.81h0.85M208.99 227.72h0.85M215.95 212.86h0.85M207.66 212.04h0.85M209.68 217.95h0.85M212.43 223.79h0.85M210.16 210.9h0.85M210.55 220.41h0.85M215.81 223.49h0.85M214.42 224.99h0.85M215.18 222.36h0.85M207.79 219.66h0.85M211.62 233.74h0.85M217.55 213.86h0.85M207.9 217.35h0.85M216.4 222.75h0.85M209.77 216.31h0.85M215.25 223.14h0.85M215.23 221.29h0.85M213.07 221.64h0.85M213.8 219.62h0.85M216.03 222.15h0.85M207.57 201.06h0.85M213.35 220.56h0.85M215.16 223.45h0.85M214.67 228.11h0.85M208.18 205.99h0.85M208.86 217.73h0.85M209.69 228.88h0.85M211.33 215.57h0.85M209.16 205.36h0.85M214.05 211.58h0.85M217.14 216.56h0.85M210.9 232.79h0.85M212 226.76h0.85M208.01 214.25h0.85M207.07 214.24h0.85M210.15 223.29h0.85M215.56 213.75h0.85M212.43 216.12h0.85M214.75 224.35h0.85M210.9 214.89h0.85M213.16 221.27h0.85M208.05 224.69h0.85M213.7 210.21h0.85M206.78 216.34h0.85M215.51 213.69h0.85M210.21 225.42h0.85M211.63 233.6h0.85M207.62 204.53h0.85M213.56 210.89h0.85M215.26 216.12h0.85M211.56 232.65h0.85M209.46 215.81h0.85M206.49 203.08h0.85M211.08 217.93h0.85M212.11 221.04h0.85M207.94 209.2h0.85M208.57 220.95h0.85M216.18 216.31h0.85M212.33 225.35h0.85M209.16 213.19h0.85M210.23 228.52h0.85M215.5 212.86h0.85M211.07 209.66h0.85M208.14 214.7h0.85M213.73 224.1h0.85M212.83 231.02h0.85M210.22 217.72h0.85M212.42 224.49h0.85M214.58 213.79h0.85M208.32 219.59h0.85M211.14 219.45h0.85M206.63 221.7h0.85M208.21 207.11h0.85M210.66 230.62h0.85M214.08 219.6h0.85M215.54 217.39h0.85M211.05 227.21h0.85M207.88 220.83h0.85M214.42 216.33h0.85M216.35 215.81h0.85M209.47 215.33h0.85M206.91 206.03h0.85M208.3 199.91h0.85M208.85 220h0.85M215.46 213.85h0.85M215.25 224.95h0.85M208.18 225.48h0.85M215.96 214.45h0.85M211.72 214.9h0.85M213.05 229.41h0.85M209.08 212.66h0.85M216.55 216.87h0.85M213.76 221.57h0.85M216.52 213.91h0.85M218.12 217.26h0.85M208.83 220.76h0.85M207.88 212.06h0.85M214.99 221h0.85M214.91 214.08h0.85M207.85 205.41h0.85M208.79 222.46h0.85M208.74 231.32h0.85M212.72 209.94h0.85M215.21 225.19h0.85M207.85 213.7h0.85M215.32 219.07h0.85M214.66 219.6h0.85M214.87 225.13h0.85M211.49 217.3h0.85M208.96 203.89h0.85M206.38 209.11h0.85M206.52 204.5h0.85M211.31 211.35h0.85M209.13 205.09h0.85M213.24 218.02h0.85M214.39 216.14h0.85M213.69 223.64h0.85M208.56 219.43h0.85M213.3 228.14h0.85M213.72 227.39h0.85M214.98 221.85h0.85M211.85 227.48h0.85M207.49 216.3h0.85M209.33 216.83h0.85M214.93 225.28h0.85M208.71 211.26h0.85M211.5 212.41h0.85M208.46 214.75h0.85M209.7 225.65h0.85M214.04 220.12h0.85M214.08 221.33h0.85M209.54 224.38h0.85M214.61 212.63h0.85M211.03 206.91h0.85M216.19 221.17h0.85M206.48 208.54h0.85M212.6 217.26h0.85M214.18 211.35h0.85M217.01 214.68h0.85M209.08 213.6h0.85M212.52 217.51h0.85M205.92 208.01h0.85M207.88 210.39h0.85M207.58 201.02h0.85M207.73 224.96h0.85M209.78 219.1h0.85M206.86 211.32h0.85M210.1 220.94h0.85M213.42 221.27h0.85M205.87 214.57h0.85M209.27 209.34h0.85M206.39 212.28h0.85M207.16 209.16h0.85M210.94 210.12h0.85M214.68 224.57h0.85M212.83 214.16h0.85M214.7 212.44h0.85M216.76 214.36h0.85M217.26 216.83h0.85M210.29 202.65h0.85M212.24 222.64h0.85M208.49 223.01h0.85M209.6 218.36h0.85M215.15 215.75h0.85M214.46 210.98h0.85M212.24 227.7h0.85M209.26 202.12h0.85M215.62 212.68h0.85M207.19 219.54h0.85" stroke="#ff2a2a" stroke-width="0.85" stroke-opacity="0.85" fill="none"/>
<path d="M218.19 224.66h0.85M223.53 207.13h0.85M217.83 220.7h0.85M220.24 212.09h0.85M219.13 207.45h0.85M224.02 208.61h0.85M217.64 216.43h0.85M218.05 204.4h0.85M222.18 211.13h0.85M217.23 209.83h0.85M220.4 203.96h0.85M222.12 202.32h0.85M221.05 209.76h0.85M224.52 204.51h0.85M217.07 209.55h0.85M225.35 204.83h0.85M222.08 213.75h0.85M222.88 216.34h0.85M222.6 214.02h0.85M218.57 226.63h0.85M217.95 207.1h0.85M217.87 216.97h0.85M221.01 216.22h0.85M220.11 217.51h0.85M217.54 211.7h0.85M221.43 217.09h0.85M220.06 201.9h0.85M222.92 214.84h0.85M222.38 201.97h0.85M223.23 202.76h0.85M222.15 217.51h0.85M222.49 213.36h0.85M220.06 204.29h0.85M219.26 222.54h0.85M220.63 208.62h0.85M219.48 222.23h0.85M225 203.66h0.85M218.04 215.05h0.85M216.78 226.67h0.85M223.07 207.72h0.85M218.34 223.07h0.85M221.33 203.4h0.85M218.67 204.62h0.85M222.74 212.35h0.85M219.87 219.11h0.85M218.82 208.44h0.85M223.54 209.94h0.85M223.64 210.48h0.85M221.65 213.19h0.85M222.2 204.9h0.85M221.93 218.41h0.85M219.17 208.55h0.85M221.16 213.73h0.85M217.85 224.55h0.85M222.61 205.62h0.85M219.98 224.52h0.85M218.99 225.71h0.85M218.09 224.61h0.85M222.83 213.45h0.85M217.56 220.72h0.85M218.16 211.76h0.85M218.53 210.98h0.85M219.22 221.97h0.85M222.56 205.02h0.85M219.8 216.22h0.85M216.74 205.13h0.85M218.71 221h0.85M218.33 208.71h0.85M220.71 212.51h0.85M217.48 214.77h0.85M217.67 214.35h0.85M220.88 222.79h0.85M222.19 218.02h0.85M224.52 204.07h0.85M217.28 214.09h0.85M221.99 219.17h0.85M223.79 205.35h0.85M217.89 209.95h0.85M222.62 209.29h0.85M222.75 216.07h0.85M218.69 216.49h0.85M219.78 223.06h0.85M223.63 207.85h0.85M219.12 223.31h0.85M219.71 204.1h0.85M220.6 219.73h0.85M218.16 209.35h0.85M221.01 217.18h0.85M220.91 210.46h0.85M217.97 214.04h0.85M222.92 215h0.85M217.81 221.05h0.85M222.17 211.96h0.85M216.76 205.44h0.85M222.17 214.24h0.85M223.11 204.14h0.85M216.64 221.35h0.85M221.36 209.06h0.85M223.18 202.21h0.85M223.06 204.45h0.85M221.33 212.83h0.85M223.07 201.52h0.85M219.64 225.04h0.85M223.85 206.17h0.85M224.54 206.91h0.85M219.71 216.34h0.85M222.66 217.45h0.85M218.68 224.73h0.85M218.06 220.14h0.85M217.15 225.48h0.85M224.67 207.97h0.85M221.35 213.69h0.85M224.97 209.22h0.85M216.78 212.02h0.85M218.93 208.27h0.85M223.29 211.68h0.85M218.59 206.01h0.85M217.95 213.58h0.85M217.67 213.61h0.85M219.01 211.4h0.85" stroke="#ff2a2a" stroke-width="0.85" stroke-opacity="0.7" fill="none"/>
<path d="M238.71 179.96h0.8M240.29 181.92h0.8M244.4 182h0.8M246.37 179.26h0.8M240.9 183.34h0.8M236.35 186.64h0.8M233.62 187.23h0.8M237.33 182.14h0.8M233.9 187.19h0.8M240.14 181.48h0.8" stroke="#ff2a2a" stroke-width="0.8" stroke-opacity="0.4" fill="none"/>
<path d="M209.4 199.7L214.2 196.5L219 194.2L225.4 191.1L230.8 187.9L232.5 189.2L229.8 194L226.5 198.2L223.3 202L220.8 206.9L218.7 211L217.1 214.9L214.2 217.7L211 219.1L208.3 214.9L207.6 208.5L208.1 203.7Z" fill="#1a84ff"/>
<path d="M232.1 188.13h0.9M232.12 187.89h0.9M233.36 185.29h0.9M233.9 187.92h0.9M233.7 186.21h0.9M233.56 185.12h0.9M234.61 185.65h0.9M231.69 188.51h0.9M232.01 186.56h0.9M233.1 185.31h0.9M232.75 186.25h0.9M230.59 187.73h0.9M231.73 188.15h0.9M230.73 189.73h0.9M234.44 184.87h0.9M231.52 188.02h0.9M230.41 189.49h0.9M235.93 185.37h0.9" stroke="#1a84ff" stroke-width="0.9" stroke-opacity="1" fill="none"/>
<path d="M209.32 199.6h0.9M213.33 197.37h0.9M212.35 196.3h0.9M212.66 195.23h0.9M211.37 197.4h0.9M212.36 195.93h0.9M210.69 199.23h0.9M209.89 198.63h0.9M212 198.19h0.9M211.83 198.21h0.9M209.54 199.55h0.9M212.72 197.08h0.9M216.24 194.64h0.9M216.92 194.54h0.9M216.99 196.63h0.9M214.06 196.57h0.9M214.03 195.23h0.9M217.58 194.39h0.9M217.93 194.41h0.9M216.61 195.45h0.9M217.44 194.01h0.9M213.95 196.82h0.9M217.51 195.27h0.9M221.54 193.04h0.9M224.41 192.05h0.9M223.12 192.27h0.9M222.72 192.68h0.9M223.81 192.51h0.9M220.47 193.36h0.9M223.79 192.37h0.9M220.11 194.03h0.9M218.78 193.35h0.9M220.29 192.79h0.9M222.92 191.76h0.9M223.49 191.34h0.9M220.17 193.94h0.9M219.93 194.14h0.9M222.91 193.44h0.9M226.47 189.77h0.9M227.69 188.38h0.9M224.74 189.92h0.9M227.48 188.73h0.9M225.25 193.11h0.9M225.8 189.25h0.9M230.43 187.24h0.9M225.05 190.44h0.9M227.82 189.46h0.9M228.34 189.1h0.9M226.91 190.96h0.9M229.76 187.87h0.9M226.74 189.93h0.9M231.01 187.73h0.9M230.76 188.9h0.9M231.32 187.5h0.9M231.6 187.99h0.9M230.54 191.53h0.9M230.44 191.94h0.9M229.56 193.01h0.9M230.87 189.52h0.9M228.95 193.69h0.9M230.41 192.46h0.9M231.37 190.92h0.9M229.08 193.7h0.9M230.83 191.81h0.9M229.57 193.09h0.9M229.98 191.9h0.9M230.75 191.64h0.9M227.37 195.41h0.9M226.63 197.67h0.9M226.93 196.91h0.9M228.92 194.9h0.9M227.5 195.37h0.9M228.56 195.87h0.9M227.5 195.13h0.9M226.52 196.96h0.9M227.33 193.92h0.9M227 197.31h0.9M227.92 193.77h0.9M224.23 200.55h0.9M226.62 199.01h0.9M224.12 201.3h0.9M224.32 200.49h0.9M223.62 198.77h0.9M225.44 199.88h0.9M223.55 201.65h0.9M225.31 200.3h0.9M223.7 200.71h0.9M224.47 200.45h0.9M221.53 205.85h0.9M223.18 203.42h0.9M222.78 203.82h0.9M221.71 201.51h0.9M220.92 207.88h0.9M219.68 206.33h0.9M221.4 203.39h0.9M221.68 204.54h0.9M221.51 203.22h0.9M221.48 205.22h0.9M220.29 205.01h0.9M221.32 203.79h0.9M219.34 206.86h0.9M220.55 208.58h0.9M219.75 206.88h0.9M218.9 207.96h0.9M219.02 207.32h0.9M220.01 208.11h0.9M219.59 207.77h0.9M220.81 206.41h0.9M219.06 211.6h0.9M218.59 209.55h0.9M217.78 214.09h0.9M217.76 213.37h0.9M217.69 211.78h0.9M217.89 210.81h0.9M216.91 214.49h0.9M218.18 211.43h0.9M217.33 211.05h0.9M218.5 213.19h0.9M217.42 212.81h0.9M214.55 217.91h0.9M212.98 217.73h0.9M217.55 216.13h0.9M216.18 216.25h0.9M216.2 216.83h0.9M215.49 216.51h0.9M214.53 215.62h0.9M214.31 217.54h0.9M210.27 217.96h0.9M213.31 218.1h0.9M212.74 217.22h0.9M211.56 219.24h0.9M212.72 218.44h0.9M214.08 217.49h0.9M212.2 217.55h0.9M208.43 215.99h0.9M208.71 218.12h0.9M211 218.01h0.9M207.92 216.86h0.9M209 218.7h0.9M208.99 216.34h0.9M207.69 217.8h0.9M208.82 217.53h0.9M208.71 214.53h0.9M209.64 217.11h0.9M207.63 210.79h0.9M207.04 212.21h0.9M207.7 213.96h0.9M206.5 207.54h0.9M207.15 212.37h0.9M208.24 212.94h0.9M206.54 210.53h0.9M207.8 210.24h0.9M208.17 211.19h0.9M208.38 215.46h0.9M206.96 212.62h0.9M207.73 211.93h0.9M207.99 213.09h0.9M208.63 213.78h0.9M207.37 203.04h0.9M207.2 206.19h0.9M208.1 204.99h0.9M206.89 208.48h0.9M208.16 206.82h0.9M207.67 204.96h0.9M207.18 203.93h0.9M207.49 205.5h0.9M208.52 206.36h0.9M208.12 204.93h0.9M207 204.07h0.9M207.79 200.59h0.9M208.4 201.88h0.9M208.14 199.49h0.9M207.91 200.26h0.9M205.92 204.22h0.9M208.64 202.61h0.9M208.58 202.95h0.9M208.02 200.49h0.9M213.29 225.96h0.9M211.43 219.43h0.9M210.18 220.39h0.9M211.78 227.02h0.9M212.51 223.15h0.9M210.57 226.84h0.9M212.39 220.71h0.9M209.03 220.29h0.9M213.38 218.97h0.9M209.51 218.8h0.9M214.13 222.99h0.9M208.94 221.91h0.9" stroke="#1a84ff" stroke-width="0.9" fill="none"/>
<path d="M234.02 185.7h0.85M242.65 181.68h0.85M235.26 185.09h0.85M234.37 187.63h0.85M231.96 183.59h0.85M242.93 184.19h0.85M242.12 182.65h0.85M233.74 185.96h0.85M236.1 185.57h0.85M233.37 188.64h0.85M245.4 180.58h0.85M233.09 187.96h0.85M233.07 188.95h0.85M233.77 186.67h0.85M237.4 185.7h0.85M240.4 185.38h0.85M244.17 181.61h0.85M232.47 185.96h0.85M235.38 186.88h0.85M243.82 184.5h0.85M242.86 180.74h0.85M234.58 186.75h0.85" stroke="#1a84ff" stroke-width="0.85" stroke-opacity="0.5" fill="none"/>
<line x1="217.5" y1="132.9" x2="217.5" y2="242.9" stroke="#222" stroke-width="0.8"/>
<line x1="160.3" y1="235.3" x2="270.7" y2="235.3" stroke="#333" stroke-width="1.1"/>
<rect x="160.3" y="132.9" width="110.4" height="110" fill="none" stroke="#111" stroke-width="1.3"/>
<path d="M157.7 143.3h2.6M157.7 168.1h2.6M157.7 192.9h2.6M157.7 217.7h2.6M157.7 242.5h2.6M160.6 242.9v2.6M185.2 242.9v2.6M209.8 242.9v2.6M234.4 242.9v2.6M259 242.9v2.6" stroke="#222" stroke-width="0.7"/>
<path d="M158.9 160.63h1.4M158.9 156.27h1.4M158.9 153.17h1.4M158.9 150.77h1.4M158.9 148.8h1.4M158.9 147.14h1.4M158.9 145.7h1.4M158.9 144.43h1.4M158.9 185.43h1.4M158.9 181.07h1.4M158.9 177.97h1.4M158.9 175.57h1.4M158.9 173.6h1.4M158.9 171.94h1.4M158.9 170.5h1.4M158.9 169.23h1.4M158.9 210.23h1.4M158.9 205.87h1.4M158.9 202.77h1.4M158.9 200.37h1.4M158.9 198.4h1.4M158.9 196.74h1.4M158.9 195.3h1.4M158.9 194.03h1.4M158.9 235.03h1.4M158.9 230.67h1.4M158.9 227.57h1.4M158.9 225.17h1.4M158.9 223.2h1.4M158.9 221.54h1.4M158.9 220.1h1.4M158.9 218.83h1.4M158.9 135.83h1.4M168.01 242.9v1.4M172.34 242.9v1.4M175.41 242.9v1.4M177.79 242.9v1.4M179.74 242.9v1.4M181.39 242.9v1.4M182.82 242.9v1.4M184.07 242.9v1.4M192.61 242.9v1.4M196.94 242.9v1.4M200.01 242.9v1.4M202.39 242.9v1.4M204.34 242.9v1.4M205.99 242.9v1.4M207.42 242.9v1.4M208.67 242.9v1.4M217.21 242.9v1.4M221.54 242.9v1.4M224.61 242.9v1.4M226.99 242.9v1.4M228.94 242.9v1.4M230.59 242.9v1.4M232.02 242.9v1.4M233.27 242.9v1.4M241.81 242.9v1.4M246.14 242.9v1.4M249.21 242.9v1.4M251.59 242.9v1.4M253.54 242.9v1.4M255.19 242.9v1.4M256.62 242.9v1.4M257.87 242.9v1.4M266.41 242.9v1.4" stroke="#555" stroke-width="0.5"/>
<text x="147.60" y="145.60" font-size="4" fill="#000" stroke="#000" stroke-width="0.15">10</text><text x="152.70" y="142.70" font-size="3.2" fill="#000" stroke="#000" stroke-width="0.13">5</text><text x="147.60" y="170.40" font-size="4" fill="#000" stroke="#000" stroke-width="0.15">10</text><text x="152.70" y="167.50" font-size="3.2" fill="#000" stroke="#000" stroke-width="0.13">4</text><text x="147.60" y="195.20" font-size="4" fill="#000" stroke="#000" stroke-width="0.15">10</text><text x="152.70" y="192.30" font-size="3.2" fill="#000" stroke="#000" stroke-width="0.13">3</text><text x="147.60" y="220.00" font-size="4" fill="#000" stroke="#000" stroke-width="0.15">10</text><text x="152.70" y="217.10" font-size="3.2" fill="#000" stroke="#000" stroke-width="0.13">2</text><text x="147.60" y="244.80" font-size="4" fill="#000" stroke="#000" stroke-width="0.15">10</text><text x="152.70" y="241.90" font-size="3.2" fill="#000" stroke="#000" stroke-width="0.13">1</text><text x="161.90" y="252.30" font-size="4" fill="#000" stroke="#000" stroke-width="0.15">10</text><text x="167.10" y="249.90" font-size="3.2" fill="#000" stroke="#000" stroke-width="0.13">1</text><text x="186.50" y="252.30" font-size="4" fill="#000" stroke="#000" stroke-width="0.15">10</text><text x="191.70" y="249.90" font-size="3.2" fill="#000" stroke="#000" stroke-width="0.13">2</text><text x="211.10" y="252.30" font-size="4" fill="#000" stroke="#000" stroke-width="0.15">10</text><text x="216.30" y="249.90" font-size="3.2" fill="#000" stroke="#000" stroke-width="0.13">3</text><text x="235.70" y="252.30" font-size="4" fill="#000" stroke="#000" stroke-width="0.15">10</text><text x="240.90" y="249.90" font-size="3.2" fill="#000" stroke="#000" stroke-width="0.13">4</text><text x="260.30" y="252.30" font-size="4" fill="#000" stroke="#000" stroke-width="0.15">10</text><text x="265.50" y="249.90" font-size="3.2" fill="#000" stroke="#000" stroke-width="0.13">5</text>
<text x="163.50" y="141.50" font-size="6.8" fill="#000" stroke="#000" stroke-width="0.15">Q1</text>
<text x="161.90" y="241.30" font-size="4.7" fill="#111" stroke="#111" stroke-width="0.14">Q4</text>
<text x="267.70" y="241.40" font-size="4.7" text-anchor="end" fill="#111" stroke="#111" stroke-width="0.14">Q3</text>
<text x="264.50" y="144.50" font-size="7" font-weight="bold" font-style="italic" text-anchor="end" fill="#000" stroke="#000" stroke-width="0.1">FACS B</text>
<text x="242.00" y="207.30" font-size="7" fill="#000" stroke="#000" stroke-width="0.16">Q2</text>
<text x="242.40" y="216.30" font-size="7.1" fill="#ff2a2a" stroke="#ff2a2a" stroke-width="0.18">15.0%</text>
<text x="242.40" y="224.30" font-size="7.1" fill="#2a8cff" stroke="#2a8cff" stroke-width="0.18">33.10%</text>
</g>
<g>
<path d="M95.35 326.57h0.85M93.63 333.13h0.85M95.56 317.39h0.85M98.14 312.78h0.85M94.84 322.95h0.85M89.16 344.78h0.85M96.56 325.01h0.85M95.26 315.01h0.85M96.24 319.76h0.85M91.37 315.45h0.85M98.13 314.66h0.85M93.98 312.41h0.85M96.4 312.39h0.85M100.47 313.22h0.85M96.32 324.32h0.85M97.99 315.13h0.85M100.06 315.54h0.85M99.44 316.48h0.85M94.42 326.21h0.85M91.86 316.21h0.85M90.28 314.43h0.85M91.05 314.87h0.85M90.52 342.33h0.85M97.73 320.74h0.85M90.27 337.08h0.85M93.34 330.81h0.85M97.6 316.77h0.85M91.06 317.71h0.85M93.56 335.96h0.85M94.96 320.75h0.85M98.28 321.95h0.85M97.89 315.62h0.85M92.07 336.79h0.85M92.13 320.65h0.85M89.89 341.18h0.85M92.31 313h0.85M92.19 314.05h0.85M99.67 312.79h0.85M94.64 312.67h0.85M97.34 313.74h0.85M88.58 343.62h0.85M92.4 318.39h0.85M91.54 314.54h0.85M98.6 321.59h0.85M94.54 323.74h0.85M88.8 344.97h0.85M96.23 313.01h0.85M95.66 325.69h0.85M96.1 320.29h0.85M90.77 316.31h0.85M94.14 320.44h0.85M95.4 323.69h0.85M94.44 312.43h0.85M92.53 328.65h0.85M92.72 313.84h0.85M93.55 326.05h0.85M90.67 339.62h0.85M94.46 333.45h0.85M99.6 316.02h0.85M97.99 320.56h0.85M97.39 314.93h0.85M93.26 332.03h0.85M94.56 324.67h0.85M92.91 315.26h0.85M93.43 313.82h0.85M90.04 339.88h0.85M98.56 315.05h0.85M93.88 318.52h0.85M93.23 326.49h0.85M95.37 317.47h0.85M95.13 312.5h0.85M92.06 312.38h0.85M90.31 314.9h0.85M97.49 322.03h0.85M93.77 332.02h0.85M95.82 325.41h0.85M94.85 318.56h0.85M93.17 337.43h0.85M91.98 338.74h0.85M92.3 336.53h0.85M92.79 331.41h0.85M95.78 314.2h0.85M93.92 317.31h0.85M92.44 319h0.85M89.31 343.29h0.85M98.5 316.16h0.85M94.58 317.66h0.85M93.45 321.6h0.85M90.52 342.38h0.85M92.02 338.56h0.85M93.61 314.05h0.85M95.79 319.5h0.85M92.44 316.9h0.85M91.8 341.65h0.85M90.76 338.21h0.85M90.15 316.22h0.85M94.74 327.71h0.85M93.13 334.33h0.85M93.53 332.42h0.85M97.71 312.43h0.85M95.11 321.48h0.85M97.16 318.53h0.85M99.83 316.39h0.85M94.03 315.34h0.85M96.87 319.57h0.85M96.39 322.14h0.85M96.9 328.06h0.85M93.59 316.84h0.85M89.16 341.46h0.85M91.47 337.93h0.85M88.85 341.48h0.85M96.18 313.23h0.85M89.85 343.88h0.85M92.7 338.15h0.85M90.99 339.23h0.85M92.52 336.58h0.85M92.24 319.32h0.85M91.49 319.24h0.85M93.95 331.64h0.85M94.72 311.44h0.85M94.04 321.32h0.85M93.71 318.77h0.85M96.58 312.85h0.85M92.55 315.52h0.85M94.95 311.38h0.85M97.51 324.99h0.85M93.34 330.7h0.85M98.95 315.49h0.85M92.6 319h0.85M93.75 321.81h0.85M95.56 327.61h0.85M94.34 323.57h0.85M92.01 334.44h0.85M93.28 314.77h0.85M92.44 333.15h0.85M92.53 332.81h0.85M94.9 313.71h0.85M98.48 323.32h0.85M97.3 312.16h0.85M95.42 322.44h0.85M98.31 314.84h0.85M93.12 337.97h0.85M96.06 324.38h0.85M93.89 328.51h0.85M98.89 310.71h0.85M93.79 337.67h0.85M96.42 316.01h0.85M94.58 313.45h0.85M99.79 319.25h0.85M93.84 330.71h0.85M94.04 316.04h0.85M93.55 329.29h0.85M96.76 312.58h0.85M93.3 338.76h0.85M94.99 318.72h0.85M92.7 317.76h0.85M96.13 313.3h0.85M97.02 321.73h0.85M93.58 320.47h0.85M96.86 314.61h0.85" stroke="#ff2a2a" stroke-width="0.85" stroke-opacity="0.7" fill="none"/>
<path d="M95.81 308.02h0.8M95.19 310.17h0.8M115.37 297.9h0.8M99.27 304.59h0.8M115.45 295.74h0.8M109.56 304.56h0.8M100.21 309.4h0.8M98.27 309.2h0.8M96.76 313.39h0.8M113.94 297.17h0.8M110.96 305.55h0.8M103.03 306.28h0.8M92.38 311.97h0.8M117.54 299.45h0.8M92.85 314.17h0.8M96.48 311.1h0.8M105.02 304.86h0.8M96.79 306.42h0.8M119.71 290.99h0.8M120 295.42h0.8M113.64 301.68h0.8M104.42 303.73h0.8M98.42 309.58h0.8M106.85 300.44h0.8M92.71 309.74h0.8M108.31 302.85h0.8M113.19 301.38h0.8M105.16 306.67h0.8M124.29 295.31h0.8M117.74 295.1h0.8M99.13 308.54h0.8M116.35 299.52h0.8M108.04 300.86h0.8M94.18 311.43h0.8M97.49 309.96h0.8M103.37 306.12h0.8M100.6 309.91h0.8M107.82 304.23h0.8M117.23 296.21h0.8M90.44 309.34h0.8M119.24 297.65h0.8M117.89 298.98h0.8M118.46 297.53h0.8M100.54 308.78h0.8M99.4 309.71h0.8M104.07 308.4h0.8M91.63 312.61h0.8M99.89 308.25h0.8M97.07 308h0.8M95.12 310.99h0.8M121.41 292.64h0.8M94.09 310.32h0.8M119.5 291.28h0.8M98.32 309.19h0.8M115.16 300.76h0.8" stroke="#ff2a2a" stroke-width="0.8" stroke-opacity="0.33" fill="none"/>
<path d="M81.3 319.4L79.3 321.5L78.1 326L77.4 331.5L77.4 339.5L77.8 344.8L78.6 350.5L79.6 354L80.5 356.3L81.8 354.8L84.7 350L87.1 343.5L88.8 338.5L90.3 331.5L91.3 324.5L91.1 319.5L87.3 318.8Z" fill="#1a84ff"/>
<path d="M88.79 333.27h0.9M89.88 327.44h0.9M95.28 321.16h0.9M89.02 335.8h0.9M92.38 326.14h0.9M91.2 325.19h0.9M90.68 331.19h0.9M91.12 332.26h0.9M90.76 321.66h0.9M90.03 316.71h0.9M88.31 318.58h0.9M88.67 319.96h0.9M92.25 333.01h0.9M93.23 321.68h0.9M87.49 343.17h0.9M89.14 337.62h0.9M91.76 324.19h0.9M93.89 322.7h0.9M94.39 325.17h0.9M88.36 338.57h0.9M89.96 314.33h0.9M89.24 334.84h0.9M86.48 334.08h0.9M87.07 333.65h0.9M87.83 340.12h0.9M93.62 316.67h0.9M93.42 320.47h0.9M94.6 315.05h0.9M86.7 326.49h0.9M91.05 326.1h0.9M91.94 335.18h0.9M90.91 328.87h0.9M93.79 324.07h0.9M92.16 325.9h0.9M93.67 325.91h0.9M88 327.94h0.9M91.3 331.31h0.9M89.08 323.27h0.9M87.92 329.22h0.9M94.98 316.32h0.9M91.35 319.94h0.9M91.85 326.34h0.9M87.49 325.53h0.9M88.15 344.02h0.9M87.76 319.77h0.9M88.32 318.59h0.9M91.35 321.89h0.9M94.43 323.38h0.9M89.08 318.09h0.9M93.01 315.27h0.9M88 318.44h0.9M91.49 333.85h0.9M88.21 331.42h0.9M87.66 325.07h0.9M87.94 338.83h0.9M90.66 319.19h0.9M93.55 326.88h0.9M88.43 333.75h0.9M91.83 326.14h0.9M86.09 331.22h0.9M93.57 315.54h0.9M93.1 326.4h0.9M93.74 313.55h0.9M89.52 329.33h0.9M95.21 318.32h0.9M95.19 318.47h0.9M89.58 336.88h0.9M93.78 322.57h0.9M87.63 315.47h0.9M87.51 324.96h0.9M88.92 326.59h0.9M91.6 328.8h0.9M90.63 330.17h0.9M90.21 320.25h0.9M88.16 336.76h0.9M89.47 341.57h0.9M87.71 339.51h0.9M90.25 341.27h0.9M87.74 325.96h0.9M88.67 340.55h0.9M89.1 324.3h0.9M89.56 327.91h0.9M92.16 329.2h0.9M92.67 316.4h0.9M90.64 317.67h0.9M88.58 324.71h0.9M87.47 321.47h0.9M87.94 341.43h0.9M94.24 315.72h0.9M87.42 335.13h0.9M91.73 320.21h0.9M87.83 335.98h0.9M91.67 316.43h0.9M94.1 316.99h0.9M94.37 318.36h0.9M91.84 325.13h0.9M91.31 314.36h0.9M94.82 325.87h0.9M94.94 321.27h0.9M91.81 330.52h0.9M90.75 329.7h0.9M91.56 323.41h0.9M94.64 319.02h0.9M89.18 321.4h0.9M92.45 333.82h0.9M87.72 321.28h0.9M89.29 333.81h0.9M91.82 326.74h0.9M90.9 332.39h0.9M94.33 316.1h0.9M90.86 334.27h0.9M87.28 344.81h0.9M87.46 336.95h0.9M87.01 317.29h0.9M92.49 326.36h0.9M94.98 323.71h0.9M90.05 327.77h0.9M88.98 336.97h0.9M92.68 320.77h0.9M92.43 327.22h0.9M89.25 328.75h0.9M94.47 314.75h0.9M87.82 324.21h0.9M88.76 327.62h0.9M90.65 333.74h0.9M87.13 337.86h0.9M88.27 321.54h0.9M91.73 318.48h0.9M87.76 324.73h0.9M89.82 331.75h0.9M93.86 325.4h0.9M86.89 334.25h0.9M88.72 317.92h0.9M89.13 325.09h0.9M93 319.43h0.9M87.76 316.73h0.9M91.2 332.8h0.9M90 337.57h0.9M92.91 325.78h0.9M89.42 336.86h0.9M94.52 323.79h0.9M89.65 335.24h0.9M92.76 324.11h0.9M89.79 337.43h0.9M90.81 324.43h0.9M87.08 337.74h0.9M88.23 338.29h0.9M91.27 327.7h0.9M93.88 320.95h0.9M94.81 321.23h0.9M89.86 336.83h0.9M91.97 325.13h0.9M92.02 318.97h0.9M86.75 344.26h0.9M87.78 323.19h0.9M89.77 329.03h0.9M90.35 324.04h0.9M89.82 321.58h0.9M87.35 334.4h0.9M88.94 326.7h0.9M90.18 323.9h0.9M93.17 332.21h0.9M87.54 339.21h0.9M89.38 321.65h0.9M94.18 317.98h0.9M90.56 330.49h0.9M93.05 325.51h0.9M89.96 325.39h0.9M89.88 327.99h0.9M88.76 335.17h0.9M86.7 329.64h0.9M87.85 323.2h0.9M89.07 337.75h0.9M87.99 335.61h0.9M94.56 317.82h0.9M93.58 328.61h0.9M88.85 318.73h0.9M92.23 331.25h0.9M95.26 324.91h0.9M92.3 316.52h0.9M94.42 322.45h0.9M93.31 314.41h0.9M89.75 317.87h0.9M89.96 334.6h0.9M91.11 315.5h0.9M91.77 314.14h0.9M91.79 325.27h0.9M90.4 325.78h0.9M92.9 317.8h0.9M88.16 338.21h0.9M92.02 333.62h0.9M91.79 330.08h0.9M87.92 333.76h0.9M91.05 315.11h0.9M89.48 335.21h0.9M96.79 317.6h0.9M87.84 320.96h0.9M85.74 331.04h0.9M89.56 318.71h0.9M87.68 325.79h0.9M90.27 326.17h0.9M89.36 330.47h0.9M92.99 326.82h0.9M87.55 343.71h0.9M89.23 330.73h0.9M92.31 326.61h0.9M95.19 320.42h0.9M88.28 317.79h0.9M88.69 329.25h0.9M90.18 333.57h0.9" stroke="#1a84ff" stroke-width="0.9" stroke-opacity="0.88" fill="none"/>
<path d="M78.65 322.75h0.9M81.02 319.19h0.9M79.64 319.74h0.9M79.5 319.96h0.9M77.94 321.72h0.9M79.48 321.73h0.9M77.77 324.37h0.9M79.5 322.27h0.9M79.31 320.6h0.9M79.02 322.75h0.9M76.44 324.47h0.9M78.01 323.15h0.9M78.93 321.93h0.9M78.12 324.35h0.9M77.57 323.44h0.9M78.22 323.64h0.9M76.57 330.1h0.9M79.2 332.09h0.9M76.03 331.25h0.9M77.59 327.4h0.9M76.86 330.67h0.9M78.56 328.86h0.9M77.04 328.34h0.9M76.93 328.94h0.9M77.92 327.61h0.9M77.36 326.62h0.9M76.44 330.57h0.9M78.45 330.79h0.9M76.89 338.66h0.9M76.99 333.28h0.9M75.9 336.17h0.9M76.1 338.29h0.9M76.67 334.25h0.9M77.66 336.94h0.9M74.78 333.31h0.9M76.23 335.52h0.9M77.13 337.86h0.9M77.39 331.94h0.9M77.88 336.63h0.9M77.53 338.08h0.9M75.56 333.65h0.9M78.17 331.86h0.9M77.47 336.03h0.9M76.74 335.28h0.9M77.63 334.65h0.9M77.22 342.17h0.9M77.13 343.28h0.9M75.73 339.52h0.9M77.69 340h0.9M76.45 342.43h0.9M77.38 343.89h0.9M76.91 345.6h0.9M77.56 345.54h0.9M77.08 341.32h0.9M77.51 343.65h0.9M77.23 339.8h0.9M77.89 348.07h0.9M77.83 346.27h0.9M77.7 348.73h0.9M77.32 347.89h0.9M78.65 346.51h0.9M78.87 346.9h0.9M78.23 348.03h0.9M77.79 349.34h0.9M78.67 345.67h0.9M77.42 345.18h0.9M78.89 346.51h0.9M78.44 347.04h0.9M79.26 352.94h0.9M78.64 353.69h0.9M77.87 352.85h0.9M78.82 353.02h0.9M78.97 352.62h0.9M78.45 353.57h0.9M78.06 351.86h0.9M78.92 351.8h0.9M80.61 355.09h0.9M80.11 355.54h0.9M79.4 355.53h0.9M79.54 355.14h0.9M78.66 356.04h0.9M79.13 355.27h0.9M81.12 356.01h0.9M80.36 355.16h0.9M81.61 356.18h0.9M81.47 352.76h0.9M81.02 354.73h0.9M84.79 349.87h0.9M83.34 350.9h0.9M82.95 351.98h0.9M81.62 353.92h0.9M82.74 355.13h0.9M83.03 352.44h0.9M84.17 352.57h0.9M82.53 352.79h0.9M83.07 352.17h0.9M82.38 353.86h0.9M84.05 349.86h0.9M84.64 348.93h0.9M83.42 347.87h0.9M84.38 350.43h0.9M85.25 345.8h0.9M84.21 346.24h0.9M85.34 346.7h0.9M84.33 348.77h0.9M84.82 346.8h0.9M84.78 345.49h0.9M85.85 347.36h0.9M84.51 347.62h0.9M84.31 346.81h0.9M83.99 347.98h0.9M84.73 346.7h0.9M89.16 339.31h0.9M87.77 343.12h0.9M87.8 342.36h0.9M86.55 341.6h0.9M87.53 339.59h0.9M87.69 341.78h0.9M87.55 342.58h0.9M85.63 343.88h0.9M86.72 341.4h0.9M86.62 341.68h0.9M88.83 337.91h0.9M88.91 330.95h0.9M87.43 337.69h0.9M90.11 336.95h0.9M88.17 336.53h0.9M88.63 333.59h0.9M90.49 331.48h0.9M89.66 329.68h0.9M88.57 337.27h0.9M89.51 332.18h0.9M89.06 335.72h0.9M89.59 335.78h0.9M87.67 337.45h0.9M89.41 334.31h0.9M88.67 335.83h0.9M89.93 334.02h0.9M90.72 328.15h0.9M90.48 328.2h0.9M91.23 327.07h0.9M89.75 325.99h0.9M90.59 326.98h0.9M90.72 330.66h0.9M92.05 326.96h0.9M91.39 324.62h0.9M91.26 330.65h0.9M91.33 326.97h0.9M90.23 331.73h0.9M89.81 328.19h0.9M88.15 329.44h0.9M89.87 330.24h0.9M91.36 327.04h0.9M90.71 322.94h0.9M91.09 321.8h0.9M91 319.91h0.9M90.67 323.7h0.9M92.7 321.14h0.9M89.08 322.93h0.9M91.03 320.73h0.9M90.37 323.64h0.9M91.98 322.42h0.9M90.11 320.37h0.9M90.29 321.51h0.9M86.63 318.71h0.9M90.49 319.38h0.9M87.77 319.26h0.9M86.21 317.3h0.9M89.03 320.02h0.9M89.53 318.96h0.9M88.77 318.84h0.9M86.15 318.56h0.9M82.26 320.58h0.9M83.38 319.36h0.9M84.76 318.65h0.9M87.06 318.79h0.9M86.2 319.12h0.9M83.88 318.27h0.9M80.82 319.7h0.9M86.01 318.96h0.9M83.18 318.59h0.9M81.95 320.4h0.9M81.32 320.18h0.9M82.47 319.59h0.9M83.33 318.99h0.9" stroke="#1a84ff" stroke-width="0.9" fill="none"/>
<path d="M92.24 315.02h0.85M99.21 308.51h0.85M100.73 309.67h0.85M98.35 307.72h0.85M91.41 314.49h0.85M93.05 310.74h0.85M92.64 316.98h0.85M102.79 306.38h0.85M101.98 303.65h0.85M99.32 311.34h0.85M93.77 314.39h0.85M93.32 315.4h0.85M92.36 311.6h0.85M96.61 311.51h0.85M92.32 315.95h0.85" stroke="#1a84ff" stroke-width="0.85" stroke-opacity="0.55" fill="none"/>
<line x1="87.5" y1="255.5" x2="87.5" y2="365.5" stroke="#222" stroke-width="0.8"/>
<line x1="30.3" y1="357.9" x2="140.7" y2="357.9" stroke="#333" stroke-width="1.1"/>
<rect x="30.3" y="255.5" width="110.4" height="110" fill="none" stroke="#111" stroke-width="1.3"/>
<path d="M27.7 265.9h2.6M27.7 290.7h2.6M27.7 315.5h2.6M27.7 340.3h2.6M27.7 365.1h2.6M30.6 365.5v2.6M55.2 365.5v2.6M79.8 365.5v2.6M104.4 365.5v2.6M129 365.5v2.6" stroke="#222" stroke-width="0.7"/>
<path d="M28.9 283.23h1.4M28.9 278.87h1.4M28.9 275.77h1.4M28.9 273.37h1.4M28.9 271.4h1.4M28.9 269.74h1.4M28.9 268.3h1.4M28.9 267.03h1.4M28.9 308.03h1.4M28.9 303.67h1.4M28.9 300.57h1.4M28.9 298.17h1.4M28.9 296.2h1.4M28.9 294.54h1.4M28.9 293.1h1.4M28.9 291.83h1.4M28.9 332.83h1.4M28.9 328.47h1.4M28.9 325.37h1.4M28.9 322.97h1.4M28.9 321h1.4M28.9 319.34h1.4M28.9 317.9h1.4M28.9 316.63h1.4M28.9 357.63h1.4M28.9 353.27h1.4M28.9 350.17h1.4M28.9 347.77h1.4M28.9 345.8h1.4M28.9 344.14h1.4M28.9 342.7h1.4M28.9 341.43h1.4M28.9 258.43h1.4M38.01 365.5v1.4M42.34 365.5v1.4M45.41 365.5v1.4M47.79 365.5v1.4M49.74 365.5v1.4M51.39 365.5v1.4M52.82 365.5v1.4M54.07 365.5v1.4M62.61 365.5v1.4M66.94 365.5v1.4M70.01 365.5v1.4M72.39 365.5v1.4M74.34 365.5v1.4M75.99 365.5v1.4M77.42 365.5v1.4M78.67 365.5v1.4M87.21 365.5v1.4M91.54 365.5v1.4M94.61 365.5v1.4M96.99 365.5v1.4M98.94 365.5v1.4M100.59 365.5v1.4M102.02 365.5v1.4M103.27 365.5v1.4M111.81 365.5v1.4M116.14 365.5v1.4M119.21 365.5v1.4M121.59 365.5v1.4M123.54 365.5v1.4M125.19 365.5v1.4M126.62 365.5v1.4M127.87 365.5v1.4M136.41 365.5v1.4" stroke="#555" stroke-width="0.5"/>
<text x="17.60" y="268.20" font-size="4" fill="#000" stroke="#000" stroke-width="0.15">10</text><text x="22.70" y="265.30" font-size="3.2" fill="#000" stroke="#000" stroke-width="0.13">5</text><text x="17.60" y="293.00" font-size="4" fill="#000" stroke="#000" stroke-width="0.15">10</text><text x="22.70" y="290.10" font-size="3.2" fill="#000" stroke="#000" stroke-width="0.13">4</text><text x="17.60" y="317.80" font-size="4" fill="#000" stroke="#000" stroke-width="0.15">10</text><text x="22.70" y="314.90" font-size="3.2" fill="#000" stroke="#000" stroke-width="0.13">3</text><text x="17.60" y="342.60" font-size="4" fill="#000" stroke="#000" stroke-width="0.15">10</text><text x="22.70" y="339.70" font-size="3.2" fill="#000" stroke="#000" stroke-width="0.13">2</text><text x="17.60" y="367.40" font-size="4" fill="#000" stroke="#000" stroke-width="0.15">10</text><text x="22.70" y="364.50" font-size="3.2" fill="#000" stroke="#000" stroke-width="0.13">1</text><text x="31.90" y="374.90" font-size="4" fill="#000" stroke="#000" stroke-width="0.15">10</text><text x="37.10" y="372.50" font-size="3.2" fill="#000" stroke="#000" stroke-width="0.13">1</text><text x="56.50" y="374.90" font-size="4" fill="#000" stroke="#000" stroke-width="0.15">10</text><text x="61.70" y="372.50" font-size="3.2" fill="#000" stroke="#000" stroke-width="0.13">2</text><text x="81.10" y="374.90" font-size="4" fill="#000" stroke="#000" stroke-width="0.15">10</text><text x="86.30" y="372.50" font-size="3.2" fill="#000" stroke="#000" stroke-width="0.13">3</text><text x="105.70" y="374.90" font-size="4" fill="#000" stroke="#000" stroke-width="0.15">10</text><text x="110.90" y="372.50" font-size="3.2" fill="#000" stroke="#000" stroke-width="0.13">4</text><text x="130.30" y="374.90" font-size="4" fill="#000" stroke="#000" stroke-width="0.15">10</text><text x="135.50" y="372.50" font-size="3.2" fill="#000" stroke="#000" stroke-width="0.13">5</text>
<text x="33.50" y="264.10" font-size="6.8" fill="#000" stroke="#000" stroke-width="0.15">Q1</text>
<text x="31.90" y="363.90" font-size="4.7" fill="#111" stroke="#111" stroke-width="0.14">Q4</text>
<text x="137.70" y="364.00" font-size="4.7" text-anchor="end" fill="#111" stroke="#111" stroke-width="0.14">Q3</text>
<text x="134.50" y="267.10" font-size="7" font-weight="bold" font-style="italic" text-anchor="end" fill="#000" stroke="#000" stroke-width="0.1">Control C</text>
<text x="115.00" y="329.90" font-size="7" fill="#000" stroke="#000" stroke-width="0.16">Q2</text>
<text x="115.40" y="338.90" font-size="7.1" fill="#ff2a2a" stroke="#ff2a2a" stroke-width="0.18">17.1%</text>
<text x="115.40" y="346.90" font-size="7.1" fill="#2a8cff" stroke="#2a8cff" stroke-width="0.18">6.80%</text>
</g>
<g>
<path d="M208.98 323.93h0.85M209.73 330.16h0.85M214.28 319.92h0.85M212.66 337.38h0.85M209.61 330.51h0.85M213.35 321.67h0.85M216.2 326.8h0.85M210.6 331.31h0.85M214.17 326.43h0.85M219.25 318.57h0.85M210.73 357.22h0.85M210.8 332.15h0.85M207.49 346.64h0.85M211.49 330.57h0.85M208.17 324.29h0.85M211.88 337.16h0.85M214.64 345.14h0.85M212.82 329.99h0.85M210.65 325.81h0.85M213.43 336.6h0.85M211.07 338.41h0.85M220.88 328.48h0.85M214.47 343.93h0.85M209.16 354.24h0.85M209.22 331.87h0.85M220.14 333.02h0.85M216.31 328.06h0.85M212.66 331.8h0.85M215.47 334.41h0.85M221.42 336.59h0.85M213.48 349.22h0.85M218.25 343.48h0.85M209.37 332.74h0.85M220.83 332.88h0.85M214.84 324.01h0.85M218.94 336.39h0.85M208.89 352.43h0.85M212.12 348.86h0.85M214.69 323.66h0.85M212.87 346.07h0.85M215.46 340.66h0.85M210.15 336.89h0.85M209.85 343.56h0.85M215.08 320.5h0.85M215.14 326.04h0.85M216.52 344.25h0.85M208.69 327.27h0.85M208.48 354.43h0.85M218.54 346.64h0.85M219.99 339.23h0.85M215.14 351.24h0.85M209.79 342.92h0.85M211.96 346.12h0.85M213.13 328.31h0.85M218.99 339.68h0.85M217.07 341.33h0.85M208.51 323.66h0.85M215.63 348.01h0.85M216.7 332.26h0.85M210.78 359.3h0.85M211.56 336.53h0.85M211.18 330.27h0.85M212.94 321.29h0.85M216.13 326.34h0.85M209.25 352.79h0.85M221.47 327.74h0.85M209.87 337.27h0.85M211.04 329.69h0.85M215.44 325.33h0.85M216.33 330.84h0.85M216.12 344.11h0.85M211.43 330.56h0.85M207.74 351.15h0.85M218.82 327.47h0.85M213.48 349.17h0.85M214.63 344.5h0.85M214.55 350.52h0.85M209.08 338.24h0.85M215.97 321.15h0.85M210.63 348.44h0.85M213.66 342.38h0.85M212.69 331.31h0.85M209.57 328.17h0.85M211.21 333.72h0.85M210.72 323.87h0.85M216.85 342.66h0.85M212.57 346.98h0.85M210.42 337.21h0.85M222.54 322.33h0.85M206.67 334.83h0.85M214.65 340.03h0.85M222.32 329.36h0.85M221.18 326.61h0.85M210.68 332.5h0.85M212.5 336.17h0.85M213.44 342.1h0.85M210.55 341.7h0.85M216.24 350.2h0.85M208.6 329.54h0.85M218.19 322.24h0.85M220.47 334.61h0.85M210.12 353.1h0.85M216.67 328.6h0.85M209.55 348.92h0.85M218.45 324.08h0.85M210.31 330.5h0.85M209.93 351.46h0.85M211.39 330.45h0.85M210.84 327.23h0.85M208.2 329.44h0.85" stroke="#ff2a2a" stroke-width="0.85" stroke-opacity="0.7" fill="none"/>
<path d="M222.87 316.89h0.8M230.79 314.28h0.8M222.39 314.87h0.8M229.91 312.88h0.8M223.12 316.53h0.8M230.84 313.37h0.8M219.7 316.26h0.8M226.95 311.74h0.8M229.51 315.21h0.8M221.93 319.46h0.8M224.69 317.29h0.8M222.6 316.51h0.8M227.64 315.3h0.8M228.81 312.62h0.8M227.16 311.74h0.8" stroke="#ff2a2a" stroke-width="0.8" stroke-opacity="0.4" fill="none"/>
<path d="M212.3 322L209.9 323.8L208.5 327.5L207.6 333.5L207.5 340.5L207.8 346.5L208.4 351.5L209.3 355.5L210.4 359.3L211.6 358L213.4 353.5L215.7 350L217.5 342.5L218.8 335.5L219.8 327.5L219.8 322L217.3 321L215.3 321.5Z" fill="#1a84ff"/>
<path d="M219.92 332.44h0.9M217.11 339.36h0.9M221.12 330.23h0.9M224.64 319.09h0.9M218.57 333.78h0.9M220.31 331.36h0.9M222.38 324.17h0.9M217.48 333.87h0.9M221.36 336.85h0.9M224.74 320h0.9M217 328.91h0.9M221.19 328.35h0.9M222.51 329.05h0.9M219.81 329.01h0.9M218.81 332.84h0.9M224.46 317.05h0.9M225.24 325.05h0.9M218.39 322.9h0.9M219.16 320.28h0.9M218.67 320.09h0.9M218.96 328.83h0.9M223.02 332.68h0.9M218.11 331.45h0.9M219.37 318.99h0.9M223.51 318.88h0.9M224.2 328.5h0.9M219.48 326.08h0.9M221.25 332h0.9M216.49 329.17h0.9M223.27 328.26h0.9M217.87 344.36h0.9M222.23 321.75h0.9M227.31 318.6h0.9M216.74 320.66h0.9M218.96 334.16h0.9M220.05 332.54h0.9M220.38 325.24h0.9M219.99 321.59h0.9M219.36 328.67h0.9M218.43 327.81h0.9M216.89 320.58h0.9M217.99 342.81h0.9M226.22 320.84h0.9M218.43 343.94h0.9M219.72 333.54h0.9M222.84 323.3h0.9M220.42 319.09h0.9M216.27 341.08h0.9M218.73 332.11h0.9M217.82 325.96h0.9M217.59 334.73h0.9M217.26 331.53h0.9M217.84 332.13h0.9M221.14 330.73h0.9M219.95 333.35h0.9M219.07 333.39h0.9M220.97 325.74h0.9M219.38 320.5h0.9M223.06 331.19h0.9M222.26 316.65h0.9M220.16 334.63h0.9M221.75 334.19h0.9M218.11 337.2h0.9M221.68 321.17h0.9M222.02 323.55h0.9M220.51 325.56h0.9M221.72 333.54h0.9M216.89 326.6h0.9M216.72 341.7h0.9M216.27 324.24h0.9M223.32 320.74h0.9M218.97 321.15h0.9M220.11 331.03h0.9M223.47 319.93h0.9M218.12 326.33h0.9M215.73 318.79h0.9M220.62 327.73h0.9M218.6 338.08h0.9M216.52 322.69h0.9M218.45 331.7h0.9M221.06 319.17h0.9M222.4 333.2h0.9M226.94 324.43h0.9M220.69 324.38h0.9M218.19 342.03h0.9M221.92 330.91h0.9M225.42 326.91h0.9M217.98 334.65h0.9M223.46 327.62h0.9M218.48 336.83h0.9M221.89 330.86h0.9M217.77 333.5h0.9M220.59 322.26h0.9M221.83 316.96h0.9M216.46 339.7h0.9M220.95 334.46h0.9M224.71 328.24h0.9M227.13 320.51h0.9M216.22 323.08h0.9M221.34 319.9h0.9M216.68 336.76h0.9M220.64 324.15h0.9M226.26 319.97h0.9M224.54 329.27h0.9M221.09 329.53h0.9M223.25 324.29h0.9M220.24 328.55h0.9M222.45 322.87h0.9M221.72 318h0.9M220 336.78h0.9M223.29 331.18h0.9M222.06 323.99h0.9M225.09 321.49h0.9M217.72 336.01h0.9M219 339.12h0.9M219.24 330.15h0.9M220.2 322.37h0.9M219.22 336.03h0.9M219.2 336.67h0.9M221.28 325.3h0.9M225.99 324.4h0.9M217.85 337.79h0.9M217.14 325.03h0.9M220.93 320.2h0.9M217.83 339.45h0.9M219.46 324.25h0.9M216.2 332.82h0.9M216.79 329.16h0.9M220.8 320.03h0.9M225.11 326.69h0.9M219.19 327.05h0.9M223.86 327.51h0.9M224.65 327.93h0.9M221.8 335.29h0.9M220.27 334.97h0.9M225.59 322.41h0.9M218.48 332.02h0.9M223.48 327.66h0.9M225.77 320.4h0.9M222.61 329.1h0.9M218.29 325.98h0.9M221.02 320.38h0.9M224.65 317.59h0.9M217.7 324.2h0.9M223.69 330.59h0.9M218.61 337.64h0.9M225.58 321.74h0.9M219.18 320.83h0.9M220.71 317.42h0.9M217.14 326.99h0.9M219.16 339.72h0.9M224.64 326.87h0.9M220.25 321.55h0.9M216.77 329.24h0.9M223.43 325.14h0.9M223.45 319.11h0.9M219.7 322.41h0.9M218.79 339.41h0.9M219.89 318.7h0.9M220 326.54h0.9M216.94 333.5h0.9M220.71 325.35h0.9M219.42 329.7h0.9M223.54 317.87h0.9M222.89 317.67h0.9M222.19 326.69h0.9M223.69 328.57h0.9M219.03 321.93h0.9M225.76 317.99h0.9M223.04 332.06h0.9M217.37 326.56h0.9M217.56 343.34h0.9M219.02 334.18h0.9M218.15 332.04h0.9M223 327.39h0.9M220.42 327.88h0.9M225.23 325.04h0.9M221.91 323.89h0.9M224.09 327.76h0.9M216.61 331.66h0.9M222.08 317.9h0.9M226.81 317.76h0.9M222.45 334.06h0.9M225.46 326.37h0.9M217.66 325.76h0.9M217.48 328.1h0.9M222.59 320.29h0.9M218.47 321.62h0.9M227.86 318.33h0.9M216.44 329.15h0.9" stroke="#1a84ff" stroke-width="0.9" stroke-opacity="0.85" fill="none"/>
<path d="M209.83 323.1h0.9M211.66 321.9h0.9M211.47 322.45h0.9M210.79 324.09h0.9M211.12 323.93h0.9M210.36 324.45h0.9M208.57 325.5h0.9M209.29 324.38h0.9M209.92 324.99h0.9M207.9 325.76h0.9M207.87 324.42h0.9M208 325.83h0.9M208.54 326.21h0.9M208.15 324.52h0.9M207.04 327.35h0.9M207.32 333.14h0.9M209.28 328.53h0.9M207.82 330.44h0.9M207.9 332.06h0.9M207.37 330.5h0.9M206.9 332.96h0.9M207.66 329.17h0.9M207.28 329.85h0.9M207.77 328.08h0.9M208.44 333.85h0.9M208.64 332.07h0.9M207.34 331.28h0.9M207 335.06h0.9M207.43 340.06h0.9M208.24 332.35h0.9M207.29 336.72h0.9M206.15 336.95h0.9M207.13 340.89h0.9M207.37 337.34h0.9M206.88 336.37h0.9M206.84 335.72h0.9M207.85 335.92h0.9M206.64 335.8h0.9M207.8 335.62h0.9M207.35 333.63h0.9M207.13 338.36h0.9M206.32 339.73h0.9M208.08 347.37h0.9M205.82 342.63h0.9M206.96 340.67h0.9M208.21 340.95h0.9M208.54 341.78h0.9M206.96 344.47h0.9M207.23 342.4h0.9M206.82 341.44h0.9M207.51 343.58h0.9M207.26 343.92h0.9M207.18 344.21h0.9M207.55 344.3h0.9M206.56 341.13h0.9M207.3 345.59h0.9M205.65 347.49h0.9M206.96 347.2h0.9M207.96 350.4h0.9M208.02 349.99h0.9M206.62 347.12h0.9M207.82 349.32h0.9M208.01 349.65h0.9M206.8 346.5h0.9M206.81 348.58h0.9M207.62 348.02h0.9M208.37 353.68h0.9M209.52 352.39h0.9M207.84 354.56h0.9M208.87 354.78h0.9M208.73 355.1h0.9M208.11 351.16h0.9M208.37 353.3h0.9M210.1 355.01h0.9M208.06 351.75h0.9M209.07 357.21h0.9M208.16 354.97h0.9M209.07 356.41h0.9M209.43 356.49h0.9M209.28 358.88h0.9M207.28 356.19h0.9M209.66 359.8h0.9M209.58 358.96h0.9M211.31 358.49h0.9M210.47 358.52h0.9M209.86 358.73h0.9M212.18 357.01h0.9M212.72 355.84h0.9M211.15 357.01h0.9M211.33 357.4h0.9M211.97 356.5h0.9M212.85 354.11h0.9M212.08 355.27h0.9M211.87 356.53h0.9M210.61 357.66h0.9M210.34 357.27h0.9M214.12 351.62h0.9M215.37 350.39h0.9M213.34 353.07h0.9M214.63 349.49h0.9M213.93 353.31h0.9M213.63 352.92h0.9M213.76 351.65h0.9M215.37 348.78h0.9M214.6 349.72h0.9M216.35 345.36h0.9M216.35 343.9h0.9M216.64 342.58h0.9M215.43 350.12h0.9M215.24 348.76h0.9M215.77 350.29h0.9M215.4 345.21h0.9M216.52 345.07h0.9M214.74 344.4h0.9M216.51 342.78h0.9M217.72 342.46h0.9M216.31 347.75h0.9M218.66 343.63h0.9M217.16 345.79h0.9M216.11 343.23h0.9M216.19 349.17h0.9M217.91 336.65h0.9M217.85 338.07h0.9M215.83 343.31h0.9M217.94 341.5h0.9M215.93 342.94h0.9M217.96 338.55h0.9M217.54 337.86h0.9M218.94 334.33h0.9M217.46 338.54h0.9M216.25 337.48h0.9M218.08 337.86h0.9M218.44 341.61h0.9M216.66 340.04h0.9M218.18 337.75h0.9M216.79 340.82h0.9M219.33 327.77h0.9M218.3 330.5h0.9M218.2 329.9h0.9M218.64 330.21h0.9M219.12 333.24h0.9M218.95 330.08h0.9M218.06 330.88h0.9M220.24 332.8h0.9M218.58 335.57h0.9M218.61 329.31h0.9M218.23 332.94h0.9M218.72 327.17h0.9M218.68 327.87h0.9M218.98 329.18h0.9M218.6 334.63h0.9M219.21 330.43h0.9M219.88 329.9h0.9M219.05 324.22h0.9M218.78 323.24h0.9M219.47 323.25h0.9M218.34 326.58h0.9M219.93 323.08h0.9M219.21 323.26h0.9M218.5 325.37h0.9M218.42 325.61h0.9M220.34 322.62h0.9M218.83 323.8h0.9M218.86 325.85h0.9M219.66 326.73h0.9M217.72 322.13h0.9M219.17 320.57h0.9M217.41 321.04h0.9M219.4 320.28h0.9M219.46 321.97h0.9M216.41 320.56h0.9M216.66 321.18h0.9M217.24 321.93h0.9M215.38 321.72h0.9M213.42 321.79h0.9M213.97 320.63h0.9M213.28 320.98h0.9M214.21 320.98h0.9M214.2 322.36h0.9M213.29 322.21h0.9M208.97 360.14h0.9M211.08 360.61h0.9M211.38 359.85h0.9M210.95 363.65h0.9M210.24 361.34h0.9M210.56 363.07h0.9M210.74 362.4h0.9M210.78 359.48h0.9M210.12 363.09h0.9M210.82 363.27h0.9M210.72 361.77h0.9M210.26 360.72h0.9" stroke="#1a84ff" stroke-width="0.9" fill="none"/>
<path d="M245.14 303.23h0.85M221.32 316.82h0.85M236.42 312.29h0.85M251.74 294.52h0.85M228.04 321.8h0.85M236.98 308.73h0.85M223.68 316.45h0.85M226.09 311.04h0.85M241.79 301.3h0.85M247.48 304.8h0.85M221.01 314.52h0.85M219.87 314.34h0.85M253.75 294.48h0.85M232.64 313.84h0.85M249.87 295.24h0.85M224.56 313.07h0.85M236.51 306h0.85M237.45 305.3h0.85M225.61 318.8h0.85M239 311.01h0.85M261.16 287.32h0.85M222.81 314.53h0.85M259 285.52h0.85M241.14 297.47h0.85M239.28 304.36h0.85M222.62 312.25h0.85M225.17 317.77h0.85M222.18 316.95h0.85M257.36 288.4h0.85M234.89 312.7h0.85M217.31 315.73h0.85M251.1 298.49h0.85M238.99 305.16h0.85M250.15 297.1h0.85M241.3 302.99h0.85M241.09 299.45h0.85M244.85 302.31h0.85M251.47 299.16h0.85M240.55 296.94h0.85M251.26 295.72h0.85M229.86 311.41h0.85M223.67 315.58h0.85M255.68 293.33h0.85M245.43 299.2h0.85M234.28 307.07h0.85M222.07 321.71h0.85M224.33 312.85h0.85M223.28 315.5h0.85M223.5 315.27h0.85M232.09 307.43h0.85M242.87 300.06h0.85M262.25 291.55h0.85M244.17 298.04h0.85M247.36 306.6h0.85M225.62 309.81h0.85M217.19 313.48h0.85M234.39 305.97h0.85M236.29 302.63h0.85M253.17 297.98h0.85M241.55 304.29h0.85M238.71 301.42h0.85M260.28 287.73h0.85M258.57 288.67h0.85M232.73 318.21h0.85M252.78 294.62h0.85M222.77 318.07h0.85M243.54 303.01h0.85M246.47 299.75h0.85M253.57 293.54h0.85M218.83 317.36h0.85M246.25 299.46h0.85M250.46 296.61h0.85M239.3 300.06h0.85M249.25 297.12h0.85M240.79 299.2h0.85M221.22 312.82h0.85M245.12 299.78h0.85M230.59 312.88h0.85M225.98 317.8h0.85M242.62 300.08h0.85M234.1 303.62h0.85M231.14 307.77h0.85M224.32 315.11h0.85M223.35 316.34h0.85M252.95 295.54h0.85M220.2 318.52h0.85M238.65 308.46h0.85M226.58 312.12h0.85M243.51 302.79h0.85M222.05 319.83h0.85M226.55 315.54h0.85M222.28 319.3h0.85M252.41 290.81h0.85M227.34 316.57h0.85M249.84 294.7h0.85M226.41 313.77h0.85M230.48 307.9h0.85M238.79 306.1h0.85M249.13 295.48h0.85M232.46 307.47h0.85M222.59 319.57h0.85M231.4 308.03h0.85M229.4 313.29h0.85M246.74 299.4h0.85M255.54 293.79h0.85M243.51 301.43h0.85M225.66 310.96h0.85M258.93 289.93h0.85M250.66 297.01h0.85M235.53 313.6h0.85M260.27 294.58h0.85M236.83 309.32h0.85M226.55 317.55h0.85M219.58 311.17h0.85M233.41 307.28h0.85M231.49 306.92h0.85M227.5 315.58h0.85M233.3 310.92h0.85M232.28 311.73h0.85M255.51 294.04h0.85" stroke="#1a84ff" stroke-width="0.85" stroke-opacity="0.35" fill="none"/>
<line x1="217.5" y1="255.5" x2="217.5" y2="365.5" stroke="#222" stroke-width="0.8"/>
<line x1="160.3" y1="357.9" x2="270.7" y2="357.9" stroke="#333" stroke-width="1.1"/>
<rect x="160.3" y="255.5" width="110.4" height="110" fill="none" stroke="#111" stroke-width="1.3"/>
<path d="M157.7 265.9h2.6M157.7 290.7h2.6M157.7 315.5h2.6M157.7 340.3h2.6M157.7 365.1h2.6M160.6 365.5v2.6M185.2 365.5v2.6M209.8 365.5v2.6M234.4 365.5v2.6M259 365.5v2.6" stroke="#222" stroke-width="0.7"/>
<path d="M158.9 283.23h1.4M158.9 278.87h1.4M158.9 275.77h1.4M158.9 273.37h1.4M158.9 271.4h1.4M158.9 269.74h1.4M158.9 268.3h1.4M158.9 267.03h1.4M158.9 308.03h1.4M158.9 303.67h1.4M158.9 300.57h1.4M158.9 298.17h1.4M158.9 296.2h1.4M158.9 294.54h1.4M158.9 293.1h1.4M158.9 291.83h1.4M158.9 332.83h1.4M158.9 328.47h1.4M158.9 325.37h1.4M158.9 322.97h1.4M158.9 321h1.4M158.9 319.34h1.4M158.9 317.9h1.4M158.9 316.63h1.4M158.9 357.63h1.4M158.9 353.27h1.4M158.9 350.17h1.4M158.9 347.77h1.4M158.9 345.8h1.4M158.9 344.14h1.4M158.9 342.7h1.4M158.9 341.43h1.4M158.9 258.43h1.4M168.01 365.5v1.4M172.34 365.5v1.4M175.41 365.5v1.4M177.79 365.5v1.4M179.74 365.5v1.4M181.39 365.5v1.4M182.82 365.5v1.4M184.07 365.5v1.4M192.61 365.5v1.4M196.94 365.5v1.4M200.01 365.5v1.4M202.39 365.5v1.4M204.34 365.5v1.4M205.99 365.5v1.4M207.42 365.5v1.4M208.67 365.5v1.4M217.21 365.5v1.4M221.54 365.5v1.4M224.61 365.5v1.4M226.99 365.5v1.4M228.94 365.5v1.4M230.59 365.5v1.4M232.02 365.5v1.4M233.27 365.5v1.4M241.81 365.5v1.4M246.14 365.5v1.4M249.21 365.5v1.4M251.59 365.5v1.4M253.54 365.5v1.4M255.19 365.5v1.4M256.62 365.5v1.4M257.87 365.5v1.4M266.41 365.5v1.4" stroke="#555" stroke-width="0.5"/>
<text x="147.60" y="268.20" font-size="4" fill="#000" stroke="#000" stroke-width="0.15">10</text><text x="152.70" y="265.30" font-size="3.2" fill="#000" stroke="#000" stroke-width="0.13">5</text><text x="147.60" y="293.00" font-size="4" fill="#000" stroke="#000" stroke-width="0.15">10</text><text x="152.70" y="290.10" font-size="3.2" fill="#000" stroke="#000" stroke-width="0.13">4</text><text x="147.60" y="317.80" font-size="4" fill="#000" stroke="#000" stroke-width="0.15">10</text><text x="152.70" y="314.90" font-size="3.2" fill="#000" stroke="#000" stroke-width="0.13">3</text><text x="147.60" y="342.60" font-size="4" fill="#000" stroke="#000" stroke-width="0.15">10</text><text x="152.70" y="339.70" font-size="3.2" fill="#000" stroke="#000" stroke-width="0.13">2</text><text x="147.60" y="367.40" font-size="4" fill="#000" stroke="#000" stroke-width="0.15">10</text><text x="152.70" y="364.50" font-size="3.2" fill="#000" stroke="#000" stroke-width="0.13">1</text><text x="161.90" y="374.90" font-size="4" fill="#000" stroke="#000" stroke-width="0.15">10</text><text x="167.10" y="372.50" font-size="3.2" fill="#000" stroke="#000" stroke-width="0.13">1</text><text x="186.50" y="374.90" font-size="4" fill="#000" stroke="#000" stroke-width="0.15">10</text><text x="191.70" y="372.50" font-size="3.2" fill="#000" stroke="#000" stroke-width="0.13">2</text><text x="211.10" y="374.90" font-size="4" fill="#000" stroke="#000" stroke-width="0.15">10</text><text x="216.30" y="372.50" font-size="3.2" fill="#000" stroke="#000" stroke-width="0.13">3</text><text x="235.70" y="374.90" font-size="4" fill="#000" stroke="#000" stroke-width="0.15">10</text><text x="240.90" y="372.50" font-size="3.2" fill="#000" stroke="#000" stroke-width="0.13">4</text><text x="260.30" y="374.90" font-size="4" fill="#000" stroke="#000" stroke-width="0.15">10</text><text x="265.50" y="372.50" font-size="3.2" fill="#000" stroke="#000" stroke-width="0.13">5</text>
<text x="163.50" y="264.10" font-size="6.8" fill="#000" stroke="#000" stroke-width="0.15">Q1</text>
<text x="161.90" y="363.90" font-size="4.7" fill="#111" stroke="#111" stroke-width="0.14">Q4</text>
<text x="267.70" y="364.00" font-size="4.7" text-anchor="end" fill="#111" stroke="#111" stroke-width="0.14">Q3</text>
<text x="264.50" y="267.10" font-size="7" font-weight="bold" font-style="italic" text-anchor="end" fill="#000" stroke="#000" stroke-width="0.1">FACS C</text>
<text x="245.40" y="329.90" font-size="7" fill="#000" stroke="#000" stroke-width="0.16">Q2</text>
<text x="245.80" y="338.90" font-size="7.1" fill="#ff2a2a" stroke="#ff2a2a" stroke-width="0.18">5.86%</text>
<text x="245.80" y="346.90" font-size="7.1" fill="#2a8cff" stroke="#2a8cff" stroke-width="0.18">9.63%</text>
</g>
<rect x="33.9" y="94.5" width="6" height="5.8" fill="#ff1a1a"/>
<rect x="33.9" y="102.8" width="6" height="5.9" fill="#1a84ff"/>
<text x="42.80" y="100.20" font-size="8" fill="#000" stroke="#000" stroke-width="0.14">Initial</text>
<text x="42.80" y="108.00" font-size="8" fill="#000" stroke="#000" stroke-width="0.14">Final</text>
<text transform="translate(13.90 68.80) rotate(-90)" font-size="7.8" font-weight="bold" text-anchor="middle" fill="#111" stroke="#111" stroke-width="0.15">SSC-A</text>
<text transform="translate(13.90 188.80) rotate(-90)" font-size="7.8" font-weight="bold" text-anchor="middle" fill="#111" stroke="#111" stroke-width="0.15">SSC-A</text>
<text transform="translate(13.90 311.80) rotate(-90)" font-size="7.8" font-weight="bold" text-anchor="middle" fill="#111" stroke="#111" stroke-width="0.15">SSC-A</text>
<text x="82.70" y="384.50" font-size="7.6" font-weight="bold" text-anchor="middle" fill="#111" stroke="#111" stroke-width="0.15">FSC-A</text>
<text x="219.40" y="384.50" font-size="7.6" font-weight="bold" text-anchor="middle" fill="#111" stroke="#111" stroke-width="0.15">FSC-A</text>
<g font-family="Liberation Sans, sans-serif">
<text x="280.90" y="42.90" font-size="13.2" font-weight="bold" fill="#000">B</text>
<polyline points="308.7,127.68 318.7,130.75 328.7,122.19 338.7,116.27 348.7,137.33 358.7,136.23 368.7,127.46 378.7,131.85 388.7,136.89 398.7,134.48 408.7,135.36" fill="none" stroke="#a0a0a0" stroke-width="0.85" stroke-dasharray="2.2,1.4"/>
<polyline points="308.7,124.39 318.7,143.26 328.7,115.61 338.7,110.13 348.7,139.96 358.7,129.87 368.7,139.31 378.7,131.85 388.7,130.75 398.7,134.26 408.7,134.48" fill="none" stroke="#f08a8a" stroke-width="0.85" stroke-dasharray="2.2,1.4"/>
<polyline points="308.7,126.58 318.7,146.11 328.7,126.14 338.7,111.22 348.7,144.57 358.7,136.45 368.7,128.77 378.7,136.67 388.7,120.88 398.7,139.31 408.7,141.5" fill="none" stroke="#95c8f0" stroke-width="0.85" stroke-dasharray="2.2,1.4"/>
<polyline points="308.7,143.04 318.7,122.41 328.7,129.21 338.7,144.79 348.7,130.75 358.7,139.75 368.7,136.45 378.7,141.5 388.7,139.75 398.7,131.85 408.7,135.14" fill="none" stroke="#2462c0" stroke-width="0.85"/>
<polyline points="308.7,122.85 318.7,94.11 328.7,135.8 338.7,133.38 348.7,133.38 358.7,120.44 368.7,125.7 378.7,120.66 388.7,99.38 398.7,101.35 408.7,83.58" fill="none" stroke="#e3191c" stroke-width="0.85"/>
<polyline points="308.7,118.9 318.7,90.38 328.7,146.33 338.7,138.43 348.7,147.42 358.7,148.3 368.7,136.23 378.7,116.27 388.7,133.38 398.7,129.87 408.7,144.79" fill="none" stroke="#111111" stroke-width="0.85"/>
<circle cx="308.7" cy="127.68" r="1.25" fill="#fff" fill-opacity="0.6" stroke="#a0a0a0" stroke-width="0.6"/>
<circle cx="318.7" cy="130.75" r="1.25" fill="#fff" fill-opacity="0.6" stroke="#a0a0a0" stroke-width="0.6"/>
<circle cx="328.7" cy="122.19" r="1.25" fill="#fff" fill-opacity="0.6" stroke="#a0a0a0" stroke-width="0.6"/>
<circle cx="338.7" cy="116.27" r="1.25" fill="#fff" fill-opacity="0.6" stroke="#a0a0a0" stroke-width="0.6"/>
<circle cx="348.7" cy="137.33" r="1.25" fill="#fff" fill-opacity="0.6" stroke="#a0a0a0" stroke-width="0.6"/>
<circle cx="358.7" cy="136.23" r="1.25" fill="#fff" fill-opacity="0.6" stroke="#a0a0a0" stroke-width="0.6"/>
<circle cx="368.7" cy="127.46" r="1.25" fill="#fff" fill-opacity="0.6" stroke="#a0a0a0" stroke-width="0.6"/>
<circle cx="378.7" cy="131.85" r="1.25" fill="#fff" fill-opacity="0.6" stroke="#a0a0a0" stroke-width="0.6"/>
<circle cx="388.7" cy="136.89" r="1.25" fill="#fff" fill-opacity="0.6" stroke="#a0a0a0" stroke-width="0.6"/>
<circle cx="398.7" cy="134.48" r="1.25" fill="#fff" fill-opacity="0.6" stroke="#a0a0a0" stroke-width="0.6"/>
<circle cx="408.7" cy="135.36" r="1.25" fill="#fff" fill-opacity="0.6" stroke="#a0a0a0" stroke-width="0.6"/>
<circle cx="308.7" cy="124.39" r="1.25" fill="#fff" fill-opacity="0.6" stroke="#f08a8a" stroke-width="0.6"/>
<circle cx="318.7" cy="143.26" r="1.25" fill="#fff" fill-opacity="0.6" stroke="#f08a8a" stroke-width="0.6"/>
<circle cx="328.7" cy="115.61" r="1.25" fill="#fff" fill-opacity="0.6" stroke="#f08a8a" stroke-width="0.6"/>
<circle cx="338.7" cy="110.13" r="1.25" fill="#fff" fill-opacity="0.6" stroke="#f08a8a" stroke-width="0.6"/>
<circle cx="348.7" cy="139.96" r="1.25" fill="#fff" fill-opacity="0.6" stroke="#f08a8a" stroke-width="0.6"/>
<circle cx="358.7" cy="129.87" r="1.25" fill="#fff" fill-opacity="0.6" stroke="#f08a8a" stroke-width="0.6"/>
<circle cx="368.7" cy="139.31" r="1.25" fill="#fff" fill-opacity="0.6" stroke="#f08a8a" stroke-width="0.6"/>
<circle cx="378.7" cy="131.85" r="1.25" fill="#fff" fill-opacity="0.6" stroke="#f08a8a" stroke-width="0.6"/>
<circle cx="388.7" cy="130.75" r="1.25" fill="#fff" fill-opacity="0.6" stroke="#f08a8a" stroke-width="0.6"/>
<circle cx="398.7" cy="134.26" r="1.25" fill="#fff" fill-opacity="0.6" stroke="#f08a8a" stroke-width="0.6"/>
<circle cx="408.7" cy="134.48" r="1.25" fill="#fff" fill-opacity="0.6" stroke="#f08a8a" stroke-width="0.6"/>
<circle cx="308.7" cy="126.58" r="1.25" fill="#fff" fill-opacity="0.6" stroke="#95c8f0" stroke-width="0.6"/>
<circle cx="318.7" cy="146.11" r="1.25" fill="#fff" fill-opacity="0.6" stroke="#95c8f0" stroke-width="0.6"/>
<circle cx="328.7" cy="126.14" r="1.25" fill="#fff" fill-opacity="0.6" stroke="#95c8f0" stroke-width="0.6"/>
<circle cx="338.7" cy="111.22" r="1.25" fill="#fff" fill-opacity="0.6" stroke="#95c8f0" stroke-width="0.6"/>
<circle cx="348.7" cy="144.57" r="1.25" fill="#fff" fill-opacity="0.6" stroke="#95c8f0" stroke-width="0.6"/>
<circle cx="358.7" cy="136.45" r="1.25" fill="#fff" fill-opacity="0.6" stroke="#95c8f0" stroke-width="0.6"/>
<circle cx="368.7" cy="128.77" r="1.25" fill="#fff" fill-opacity="0.6" stroke="#95c8f0" stroke-width="0.6"/>
<circle cx="378.7" cy="136.67" r="1.25" fill="#fff" fill-opacity="0.6" stroke="#95c8f0" stroke-width="0.6"/>
<circle cx="388.7" cy="120.88" r="1.25" fill="#fff" fill-opacity="0.6" stroke="#95c8f0" stroke-width="0.6"/>
<circle cx="398.7" cy="139.31" r="1.25" fill="#fff" fill-opacity="0.6" stroke="#95c8f0" stroke-width="0.6"/>
<circle cx="408.7" cy="141.5" r="1.25" fill="#fff" fill-opacity="0.6" stroke="#95c8f0" stroke-width="0.6"/>
<circle cx="308.7" cy="143.04" r="1.35" fill="#2462c0"/>
<circle cx="318.7" cy="122.41" r="1.35" fill="#2462c0"/>
<circle cx="328.7" cy="129.21" r="1.35" fill="#2462c0"/>
<circle cx="338.7" cy="144.79" r="1.35" fill="#2462c0"/>
<circle cx="348.7" cy="130.75" r="1.35" fill="#2462c0"/>
<circle cx="358.7" cy="139.75" r="1.35" fill="#2462c0"/>
<circle cx="368.7" cy="136.45" r="1.35" fill="#2462c0"/>
<circle cx="378.7" cy="141.5" r="1.35" fill="#2462c0"/>
<circle cx="388.7" cy="139.75" r="1.35" fill="#2462c0"/>
<circle cx="398.7" cy="131.85" r="1.35" fill="#2462c0"/>
<circle cx="408.7" cy="135.14" r="1.35" fill="#2462c0"/>
<circle cx="308.7" cy="122.85" r="1.35" fill="#e3191c"/>
<circle cx="318.7" cy="94.11" r="1.35" fill="#e3191c"/>
<circle cx="328.7" cy="135.8" r="1.35" fill="#e3191c"/>
<circle cx="338.7" cy="133.38" r="1.35" fill="#e3191c"/>
<circle cx="348.7" cy="133.38" r="1.35" fill="#e3191c"/>
<circle cx="358.7" cy="120.44" r="1.35" fill="#e3191c"/>
<circle cx="368.7" cy="125.7" r="1.35" fill="#e3191c"/>
<circle cx="378.7" cy="120.66" r="1.35" fill="#e3191c"/>
<circle cx="388.7" cy="99.38" r="1.35" fill="#e3191c"/>
<circle cx="398.7" cy="101.35" r="1.35" fill="#e3191c"/>
<circle cx="408.7" cy="83.58" r="1.35" fill="#e3191c"/>
<circle cx="308.7" cy="118.9" r="1.35" fill="#111111"/>
<circle cx="318.7" cy="90.38" r="1.35" fill="#111111"/>
<circle cx="328.7" cy="146.33" r="1.35" fill="#111111"/>
<circle cx="338.7" cy="138.43" r="1.35" fill="#111111"/>
<circle cx="348.7" cy="147.42" r="1.35" fill="#111111"/>
<circle cx="358.7" cy="148.3" r="1.35" fill="#111111"/>
<circle cx="368.7" cy="136.23" r="1.35" fill="#111111"/>
<circle cx="378.7" cy="116.27" r="1.35" fill="#111111"/>
<circle cx="388.7" cy="133.38" r="1.35" fill="#111111"/>
<circle cx="398.7" cy="129.87" r="1.35" fill="#111111"/>
<circle cx="408.7" cy="144.79" r="1.35" fill="#111111"/>
<rect x="304" y="47" width="110.2" height="109.2" fill="none" stroke="#111" stroke-width="1.3"/>
<path d="M301.8 156.2h2.2M301.8 134.26h2.2M301.8 112.32h2.2M301.8 90.38h2.2M301.8 68.44h2.2M301.8 46.5h2.2M308.7 156.2v2.3M318.7 156.2v2.3M328.7 156.2v2.3M338.7 156.2v2.3M348.7 156.2v2.3M358.7 156.2v2.3M368.7 156.2v2.3M378.7 156.2v2.3M388.7 156.2v2.3M398.7 156.2v2.3M408.7 156.2v2.3" stroke="#111" stroke-width="0.9"/>
<text x="300.00" y="157.70" font-size="4.3" font-weight="bold" text-anchor="end" fill="#000" stroke="#000" stroke-width="0.08">0</text><text x="300.00" y="135.76" font-size="4.3" font-weight="bold" text-anchor="end" fill="#000" stroke="#000" stroke-width="0.08">10</text><text x="300.00" y="113.82" font-size="4.3" font-weight="bold" text-anchor="end" fill="#000" stroke="#000" stroke-width="0.08">20</text><text x="300.00" y="91.88" font-size="4.3" font-weight="bold" text-anchor="end" fill="#000" stroke="#000" stroke-width="0.08">30</text><text x="300.00" y="69.94" font-size="4.3" font-weight="bold" text-anchor="end" fill="#000" stroke="#000" stroke-width="0.08">40</text><text x="300.00" y="48.00" font-size="4.3" font-weight="bold" text-anchor="end" fill="#000" stroke="#000" stroke-width="0.08">50</text><text x="308.70" y="163.90" font-size="4.4" font-weight="bold" text-anchor="middle" fill="#000" stroke="#000" stroke-width="0.08">G0</text><text x="318.70" y="163.90" font-size="4.4" font-weight="bold" text-anchor="middle" fill="#000" stroke="#000" stroke-width="0.08">G1</text><text x="328.70" y="163.90" font-size="4.4" font-weight="bold" text-anchor="middle" fill="#000" stroke="#000" stroke-width="0.08">G2</text><text x="338.70" y="163.90" font-size="4.4" font-weight="bold" text-anchor="middle" fill="#000" stroke="#000" stroke-width="0.08">G3</text><text x="348.70" y="163.90" font-size="4.4" font-weight="bold" text-anchor="middle" fill="#000" stroke="#000" stroke-width="0.08">G4</text><text x="358.70" y="163.90" font-size="4.4" font-weight="bold" text-anchor="middle" fill="#000" stroke="#000" stroke-width="0.08">G5</text><text x="368.70" y="163.90" font-size="4.4" font-weight="bold" text-anchor="middle" fill="#000" stroke="#000" stroke-width="0.08">G6</text><text x="378.70" y="163.90" font-size="4.4" font-weight="bold" text-anchor="middle" fill="#000" stroke="#000" stroke-width="0.08">G7</text><text x="388.70" y="163.90" font-size="4.4" font-weight="bold" text-anchor="middle" fill="#000" stroke="#000" stroke-width="0.08">G8</text><text x="398.70" y="163.90" font-size="4.4" font-weight="bold" text-anchor="middle" fill="#000" stroke="#000" stroke-width="0.08">G9</text><text x="408.70" y="163.90" font-size="4.4" font-weight="bold" text-anchor="middle" fill="#000" stroke="#000" stroke-width="0.08">G10</text>
<text x="359.90" y="176.00" font-size="8.2" font-weight="bold" text-anchor="middle" fill="#111" stroke="#111" stroke-width="0.2">Transfer Number</text>
<text transform="translate(290.40 101.60) rotate(-90)" font-size="8.2" font-weight="bold" text-anchor="middle" fill="#111" stroke="#111" stroke-width="0.2">Q2-gated cells (%)</text>
<line x1="309.4" y1="53.2" x2="314.6" y2="53.2" stroke="#a0a0a0" stroke-width="0.8"/><circle cx="312" cy="53.2" r="1.2" fill="#fff" stroke="#a0a0a0" stroke-width="0.6"/><text x="318.50" y="54.85" font-size="4.5" font-weight="bold" fill="#000" stroke="#000" stroke-width="0.08">Control A</text><line x1="309.4" y1="60.7" x2="314.6" y2="60.7" stroke="#f08a8a" stroke-width="0.8"/><circle cx="312" cy="60.7" r="1.2" fill="#fff" stroke="#f08a8a" stroke-width="0.6"/><text x="318.50" y="62.35" font-size="4.5" font-weight="bold" fill="#000" stroke="#000" stroke-width="0.08">Control B</text><line x1="309.4" y1="68.2" x2="314.6" y2="68.2" stroke="#95c8f0" stroke-width="0.8"/><circle cx="312" cy="68.2" r="1.2" fill="#fff" stroke="#95c8f0" stroke-width="0.6"/><text x="318.50" y="69.85" font-size="4.5" font-weight="bold" fill="#000" stroke="#000" stroke-width="0.08">Control C</text><line x1="347.3" y1="53.2" x2="353.9" y2="53.2" stroke="#111111" stroke-width="0.8"/><circle cx="350.6" cy="53.2" r="1.3" fill="#111111"/><text x="357.10" y="54.85" font-size="4.5" font-weight="bold" fill="#000" stroke="#000" stroke-width="0.08">FACS A</text><line x1="347.3" y1="60.7" x2="353.9" y2="60.7" stroke="#e3191c" stroke-width="0.8"/><circle cx="350.6" cy="60.7" r="1.3" fill="#e3191c"/><text x="357.10" y="62.35" font-size="4.5" font-weight="bold" fill="#000" stroke="#000" stroke-width="0.08">FACS B</text><line x1="347.3" y1="68.2" x2="353.9" y2="68.2" stroke="#2462c0" stroke-width="0.8"/><circle cx="350.6" cy="68.2" r="1.3" fill="#2462c0"/><text x="357.10" y="69.85" font-size="4.5" font-weight="bold" fill="#000" stroke="#000" stroke-width="0.08">FACS C</text>
</g>
<g font-family="Liberation Sans, sans-serif">
<text x="419.80" y="42.90" font-size="13.2" font-weight="bold" fill="#000">C</text>
<path d="M439.5 86V135.6M438 86h3M438 135.6h3M449.5 89.7V141M448 89.7h3M448 141h3M459.5 87.5V141M458 87.5h3M458 141h3M469.5 77.6V138.2M468 77.6h3M468 138.2h3M479.5 102.3V140M478 102.3h3M478 140h3M489.5 93V146.5M488 93h3M488 146.5h3M499.5 90.3V145.4M498 90.3h3M498 145.4h3M509.5 81.6V135.6M508 81.6h3M508 135.6h3M519.5 61.8V136.7M518 61.8h3M518 136.7h3M529.5 65V136M528 65h3M528 136h3M539.5 60.5V137M538 60.5h3M538 137h3" stroke="#a8a8a8" stroke-width="0.6" fill="none"/>
<path d="M439.5 95.92V124.69M438.2 95.72h2.6M438.2 98.6h2.6M438.2 103.2h2.6M438.2 118.32h2.6M438.2 121.54h2.6M438.2 125.17h2.6M449.5 99.96V129.71M448.2 99.17h2.6M448.2 103.31h2.6M448.2 107.21h2.6M448.2 122.21h2.6M448.2 126.96h2.6M448.2 129.95h2.6M459.5 98.2V129.23M458.2 98.05h2.6M458.2 102.93h2.6M458.2 106.86h2.6M458.2 120.96h2.6M458.2 125.13h2.6M458.2 128.38h2.6M469.5 89.72V124.87M468.2 89.98h2.6M468.2 93.58h2.6M468.2 97.75h2.6M468.2 116.9h2.6M468.2 121.33h2.6M468.2 124.32h2.6M479.5 109.84V131.71M478.2 108.66h2.6M478.2 112.64h2.6M478.2 116.45h2.6M478.2 127.29h2.6M478.2 129.82h2.6M478.2 131.78h2.6M489.5 103.7V134.73M488.2 104.5h2.6M488.2 108.29h2.6M488.2 110.65h2.6M488.2 128.1h2.6M488.2 132.14h2.6M488.2 135.69h2.6M499.5 101.32V133.28M498.2 102.48h2.6M498.2 105.16h2.6M498.2 110.42h2.6M498.2 125h2.6M498.2 130.24h2.6M498.2 132.31h2.6M509.5 92.4V123.72M508.2 92.68h2.6M508.2 96.64h2.6M508.2 101.27h2.6M508.2 116.83h2.6M508.2 119.39h2.6M508.2 124.12h2.6M519.5 76.78V120.22M518.2 76.08h2.6M518.2 82.09h2.6M518.2 87.79h2.6M518.2 108.84h2.6M518.2 114.8h2.6M518.2 121.02h2.6M529.5 79.2V120.38M528.2 78.86h2.6M528.2 83.15h2.6M528.2 90.41h2.6M528.2 109.71h2.6M528.2 116.15h2.6M528.2 120.63h2.6M539.5 75.8V120.17M538.2 74.94h2.6M538.2 80.31h2.6M538.2 87.36h2.6M538.2 108.73h2.6M538.2 115.95h2.6M538.2 120.65h2.6" stroke="#666" stroke-width="0.75" fill="none" opacity="0.8"/>
<polyline points="439.5,117.5 449.5,119.8 459.5,116.6 469.5,117.5 479.5,121.4 489.5,122.5 499.5,123.1 509.5,116.3 519.5,115.2 529.5,119.2 539.5,121.4" fill="none" stroke="#a0a0a0" stroke-width="0.85" stroke-dasharray="2.2,1.4"/>
<polyline points="439.5,117 449.5,120.5 459.5,116.2 469.5,116.8 479.5,122 489.5,122.8 499.5,122.5 509.5,117 519.5,114.8 529.5,119.8 539.5,122.5" fill="none" stroke="#f08a8a" stroke-width="0.85" stroke-dasharray="2.2,1.4"/>
<polyline points="439.5,116.5 449.5,119.2 459.5,117.2 469.5,117.2 479.5,121 489.5,121.8 499.5,123.6 509.5,115.8 519.5,115.6 529.5,118.6 539.5,120.8" fill="none" stroke="#95c8f0" stroke-width="0.85" stroke-dasharray="2.2,1.4"/>
<polyline points="439.5,111.4 449.5,115 459.5,110.9 469.5,104.5 479.5,123.5 489.5,118.6 499.5,117 509.5,112.2 519.5,111.2 529.5,113.5 539.5,118.5" fill="none" stroke="#2462c0" stroke-width="0.85"/>
<polyline points="439.5,110.9 449.5,114.5 459.5,113 469.5,104 479.5,123 489.5,116.6 499.5,116.3 509.5,107.6 519.5,99.1 529.5,98.4 539.5,97.3" fill="none" stroke="#e3191c" stroke-width="0.85"/>
<polyline points="439.5,110.9 449.5,115.2 459.5,113.7 469.5,103.2 479.5,124 489.5,120.3 499.5,118.1 509.5,113.7 519.5,110.4 529.5,114.4 539.5,119.2" fill="none" stroke="#111111" stroke-width="0.85"/>
<circle cx="439.5" cy="117.5" r="1.25" fill="#fff" fill-opacity="0.6" stroke="#a0a0a0" stroke-width="0.6"/>
<circle cx="449.5" cy="119.8" r="1.25" fill="#fff" fill-opacity="0.6" stroke="#a0a0a0" stroke-width="0.6"/>
<circle cx="459.5" cy="116.6" r="1.25" fill="#fff" fill-opacity="0.6" stroke="#a0a0a0" stroke-width="0.6"/>
<circle cx="469.5" cy="117.5" r="1.25" fill="#fff" fill-opacity="0.6" stroke="#a0a0a0" stroke-width="0.6"/>
<circle cx="479.5" cy="121.4" r="1.25" fill="#fff" fill-opacity="0.6" stroke="#a0a0a0" stroke-width="0.6"/>
<circle cx="489.5" cy="122.5" r="1.25" fill="#fff" fill-opacity="0.6" stroke="#a0a0a0" stroke-width="0.6"/>
<circle cx="499.5" cy="123.1" r="1.25" fill="#fff" fill-opacity="0.6" stroke="#a0a0a0" stroke-width="0.6"/>
<circle cx="509.5" cy="116.3" r="1.25" fill="#fff" fill-opacity="0.6" stroke="#a0a0a0" stroke-width="0.6"/>
<circle cx="519.5" cy="115.2" r="1.25" fill="#fff" fill-opacity="0.6" stroke="#a0a0a0" stroke-width="0.6"/>
<circle cx="529.5" cy="119.2" r="1.25" fill="#fff" fill-opacity="0.6" stroke="#a0a0a0" stroke-width="0.6"/>
<circle cx="539.5" cy="121.4" r="1.25" fill="#fff" fill-opacity="0.6" stroke="#a0a0a0" stroke-width="0.6"/>
<circle cx="439.5" cy="117" r="1.25" fill="#fff" fill-opacity="0.6" stroke="#f08a8a" stroke-width="0.6"/>
<circle cx="449.5" cy="120.5" r="1.25" fill="#fff" fill-opacity="0.6" stroke="#f08a8a" stroke-width="0.6"/>
<circle cx="459.5" cy="116.2" r="1.25" fill="#fff" fill-opacity="0.6" stroke="#f08a8a" stroke-width="0.6"/>
<circle cx="469.5" cy="116.8" r="1.25" fill="#fff" fill-opacity="0.6" stroke="#f08a8a" stroke-width="0.6"/>
<circle cx="479.5" cy="122" r="1.25" fill="#fff" fill-opacity="0.6" stroke="#f08a8a" stroke-width="0.6"/>
<circle cx="489.5" cy="122.8" r="1.25" fill="#fff" fill-opacity="0.6" stroke="#f08a8a" stroke-width="0.6"/>
<circle cx="499.5" cy="122.5" r="1.25" fill="#fff" fill-opacity="0.6" stroke="#f08a8a" stroke-width="0.6"/>
<circle cx="509.5" cy="117" r="1.25" fill="#fff" fill-opacity="0.6" stroke="#f08a8a" stroke-width="0.6"/>
<circle cx="519.5" cy="114.8" r="1.25" fill="#fff" fill-opacity="0.6" stroke="#f08a8a" stroke-width="0.6"/>
<circle cx="529.5" cy="119.8" r="1.25" fill="#fff" fill-opacity="0.6" stroke="#f08a8a" stroke-width="0.6"/>
<circle cx="539.5" cy="122.5" r="1.25" fill="#fff" fill-opacity="0.6" stroke="#f08a8a" stroke-width="0.6"/>
<circle cx="439.5" cy="116.5" r="1.25" fill="#fff" fill-opacity="0.6" stroke="#95c8f0" stroke-width="0.6"/>
<circle cx="449.5" cy="119.2" r="1.25" fill="#fff" fill-opacity="0.6" stroke="#95c8f0" stroke-width="0.6"/>
<circle cx="459.5" cy="117.2" r="1.25" fill="#fff" fill-opacity="0.6" stroke="#95c8f0" stroke-width="0.6"/>
<circle cx="469.5" cy="117.2" r="1.25" fill="#fff" fill-opacity="0.6" stroke="#95c8f0" stroke-width="0.6"/>
<circle cx="479.5" cy="121" r="1.25" fill="#fff" fill-opacity="0.6" stroke="#95c8f0" stroke-width="0.6"/>
<circle cx="489.5" cy="121.8" r="1.25" fill="#fff" fill-opacity="0.6" stroke="#95c8f0" stroke-width="0.6"/>
<circle cx="499.5" cy="123.6" r="1.25" fill="#fff" fill-opacity="0.6" stroke="#95c8f0" stroke-width="0.6"/>
<circle cx="509.5" cy="115.8" r="1.25" fill="#fff" fill-opacity="0.6" stroke="#95c8f0" stroke-width="0.6"/>
<circle cx="519.5" cy="115.6" r="1.25" fill="#fff" fill-opacity="0.6" stroke="#95c8f0" stroke-width="0.6"/>
<circle cx="529.5" cy="118.6" r="1.25" fill="#fff" fill-opacity="0.6" stroke="#95c8f0" stroke-width="0.6"/>
<circle cx="539.5" cy="120.8" r="1.25" fill="#fff" fill-opacity="0.6" stroke="#95c8f0" stroke-width="0.6"/>
<circle cx="439.5" cy="111.4" r="1.35" fill="#2462c0"/>
<circle cx="449.5" cy="115" r="1.35" fill="#2462c0"/>
<circle cx="459.5" cy="110.9" r="1.35" fill="#2462c0"/>
<circle cx="469.5" cy="104.5" r="1.35" fill="#2462c0"/>
<circle cx="479.5" cy="123.5" r="1.35" fill="#2462c0"/>
<circle cx="489.5" cy="118.6" r="1.35" fill="#2462c0"/>
<circle cx="499.5" cy="117" r="1.35" fill="#2462c0"/>
<circle cx="509.5" cy="112.2" r="1.35" fill="#2462c0"/>
<circle cx="519.5" cy="111.2" r="1.35" fill="#2462c0"/>
<circle cx="529.5" cy="113.5" r="1.35" fill="#2462c0"/>
<circle cx="539.5" cy="118.5" r="1.35" fill="#2462c0"/>
<circle cx="439.5" cy="110.9" r="1.35" fill="#e3191c"/>
<circle cx="449.5" cy="114.5" r="1.35" fill="#e3191c"/>
<circle cx="459.5" cy="113" r="1.35" fill="#e3191c"/>
<circle cx="469.5" cy="104" r="1.35" fill="#e3191c"/>
<circle cx="479.5" cy="123" r="1.35" fill="#e3191c"/>
<circle cx="489.5" cy="116.6" r="1.35" fill="#e3191c"/>
<circle cx="499.5" cy="116.3" r="1.35" fill="#e3191c"/>
<circle cx="509.5" cy="107.6" r="1.35" fill="#e3191c"/>
<circle cx="519.5" cy="99.1" r="1.35" fill="#e3191c"/>
<circle cx="529.5" cy="98.4" r="1.35" fill="#e3191c"/>
<circle cx="539.5" cy="97.3" r="1.35" fill="#e3191c"/>
<circle cx="439.5" cy="110.9" r="1.35" fill="#111111"/>
<circle cx="449.5" cy="115.2" r="1.35" fill="#111111"/>
<circle cx="459.5" cy="113.7" r="1.35" fill="#111111"/>
<circle cx="469.5" cy="103.2" r="1.35" fill="#111111"/>
<circle cx="479.5" cy="124" r="1.35" fill="#111111"/>
<circle cx="489.5" cy="120.3" r="1.35" fill="#111111"/>
<circle cx="499.5" cy="118.1" r="1.35" fill="#111111"/>
<circle cx="509.5" cy="113.7" r="1.35" fill="#111111"/>
<circle cx="519.5" cy="110.4" r="1.35" fill="#111111"/>
<circle cx="529.5" cy="114.4" r="1.35" fill="#111111"/>
<circle cx="539.5" cy="119.2" r="1.35" fill="#111111"/>
<rect x="434.8" y="47" width="109.6" height="109.1" fill="none" stroke="#111" stroke-width="1.3"/>
<path d="M432.6 52.3h2.2M432.6 78.1h2.2M432.6 104.5h2.2M432.6 130.3h2.2M439.5 156.1v2.3M449.5 156.1v2.3M459.5 156.1v2.3M469.5 156.1v2.3M479.5 156.1v2.3M489.5 156.1v2.3M499.5 156.1v2.3M509.5 156.1v2.3M519.5 156.1v2.3M529.5 156.1v2.3M539.5 156.1v2.3" stroke="#111" stroke-width="0.9"/>
<text x="430.80" y="79.60" font-size="4.3" font-weight="bold" text-anchor="end" fill="#000" stroke="#000" stroke-width="0.08">10</text><text x="430.80" y="131.80" font-size="4.3" font-weight="bold" text-anchor="end" fill="#000" stroke="#000" stroke-width="0.08">5</text><text x="439.50" y="163.80" font-size="4.4" font-weight="bold" text-anchor="middle" fill="#000" stroke="#000" stroke-width="0.08">G0</text><text x="449.50" y="163.80" font-size="4.4" font-weight="bold" text-anchor="middle" fill="#000" stroke="#000" stroke-width="0.08">G1</text><text x="459.50" y="163.80" font-size="4.4" font-weight="bold" text-anchor="middle" fill="#000" stroke="#000" stroke-width="0.08">G2</text><text x="469.50" y="163.80" font-size="4.4" font-weight="bold" text-anchor="middle" fill="#000" stroke="#000" stroke-width="0.08">G3</text><text x="479.50" y="163.80" font-size="4.4" font-weight="bold" text-anchor="middle" fill="#000" stroke="#000" stroke-width="0.08">G4</text><text x="489.50" y="163.80" font-size="4.4" font-weight="bold" text-anchor="middle" fill="#000" stroke="#000" stroke-width="0.08">G5</text><text x="499.50" y="163.80" font-size="4.4" font-weight="bold" text-anchor="middle" fill="#000" stroke="#000" stroke-width="0.08">G6</text><text x="509.50" y="163.80" font-size="4.4" font-weight="bold" text-anchor="middle" fill="#000" stroke="#000" stroke-width="0.08">G7</text><text x="519.50" y="163.80" font-size="4.4" font-weight="bold" text-anchor="middle" fill="#000" stroke="#000" stroke-width="0.08">G8</text><text x="529.50" y="163.80" font-size="4.4" font-weight="bold" text-anchor="middle" fill="#000" stroke="#000" stroke-width="0.08">G9</text><text x="539.50" y="163.80" font-size="4.4" font-weight="bold" text-anchor="middle" fill="#000" stroke="#000" stroke-width="0.08">G10</text>
<text x="490.40" y="175.90" font-size="8.2" font-weight="bold" text-anchor="middle" fill="#111" stroke="#111" stroke-width="0.2">Transfer Number</text>
<text transform="translate(426.00 101.40) rotate(-90)" font-size="8.3" font-weight="bold" text-anchor="middle" fill="#111" stroke="#111" stroke-width="0.2">Area</text>
<line x1="440.2" y1="53.2" x2="445.4" y2="53.2" stroke="#a0a0a0" stroke-width="0.8"/><circle cx="442.8" cy="53.2" r="1.2" fill="#fff" stroke="#a0a0a0" stroke-width="0.6"/><text x="449.30" y="54.85" font-size="4.5" font-weight="bold" fill="#000" stroke="#000" stroke-width="0.08">Control A</text><line x1="440.2" y1="60.7" x2="445.4" y2="60.7" stroke="#f08a8a" stroke-width="0.8"/><circle cx="442.8" cy="60.7" r="1.2" fill="#fff" stroke="#f08a8a" stroke-width="0.6"/><text x="449.30" y="62.35" font-size="4.5" font-weight="bold" fill="#000" stroke="#000" stroke-width="0.08">Control B</text><line x1="440.2" y1="68.2" x2="445.4" y2="68.2" stroke="#95c8f0" stroke-width="0.8"/><circle cx="442.8" cy="68.2" r="1.2" fill="#fff" stroke="#95c8f0" stroke-width="0.6"/><text x="449.30" y="69.85" font-size="4.5" font-weight="bold" fill="#000" stroke="#000" stroke-width="0.08">Control C</text><line x1="478.1" y1="53.2" x2="484.7" y2="53.2" stroke="#111111" stroke-width="0.8"/><circle cx="481.4" cy="53.2" r="1.3" fill="#111111"/><text x="487.90" y="54.85" font-size="4.5" font-weight="bold" fill="#000" stroke="#000" stroke-width="0.08">FACS A</text><line x1="478.1" y1="60.7" x2="484.7" y2="60.7" stroke="#e3191c" stroke-width="0.8"/><circle cx="481.4" cy="60.7" r="1.3" fill="#e3191c"/><text x="487.90" y="62.35" font-size="4.5" font-weight="bold" fill="#000" stroke="#000" stroke-width="0.08">FACS B</text><line x1="478.1" y1="68.2" x2="484.7" y2="68.2" stroke="#2462c0" stroke-width="0.8"/><circle cx="481.4" cy="68.2" r="1.3" fill="#2462c0"/><text x="487.90" y="69.85" font-size="4.5" font-weight="bold" fill="#000" stroke="#000" stroke-width="0.08">FACS C</text>
</g>
<g font-family="Liberation Sans, sans-serif">
<text x="280.70" y="201.60" font-size="13.2" font-weight="bold" fill="#000">D</text>
<path d="M308.7 246.4V290.1M307.2 246.4h3M307.2 290.1h3M318.7 238.7V293.4M317.2 238.7h3M317.2 293.4h3M328.7 237V290.1M327.2 237h3M327.2 290.1h3M338.7 249V298.9M337.2 249h3M337.2 298.9h3M348.7 238V280M347.2 238h3M347.2 280h3M358.7 239.8V287.3M357.2 239.8h3M357.2 287.3h3M368.7 245.3V294.5M367.2 245.3h3M367.2 294.5h3M378.7 242.7V301M377.2 242.7h3M377.2 301h3M388.7 240.5V295.6M387.2 240.5h3M387.2 295.6h3M398.7 241V305.4M397.2 241h3M397.2 305.4h3M408.7 239.4V306.5M407.2 239.4h3M407.2 306.5h3" stroke="#a8a8a8" stroke-width="0.6" fill="none"/>
<path d="M308.7 255.14V280.49M307.4 253.99h2.6M307.4 257.37h2.6M307.4 262.15h2.6M307.4 274.43h2.6M307.4 276.86h2.6M307.4 280.14h2.6M318.7 249.64V281.37M317.4 248.79h2.6M317.4 253.06h2.6M317.4 256.75h2.6M317.4 273.6h2.6M317.4 276.49h2.6M317.4 280.5h2.6M328.7 247.62V278.42M327.4 247.01h2.6M327.4 251.75h2.6M327.4 254.82h2.6M327.4 269.55h2.6M327.4 273.63h2.6M327.4 278.57h2.6M338.7 258.98V287.92M337.4 257.97h2.6M337.4 263.41h2.6M337.4 265.49h2.6M337.4 280.6h2.6M337.4 283.75h2.6M337.4 288.15h2.6M348.7 246.4V270.76M347.4 247.02h2.6M347.4 249.66h2.6M347.4 251.95h2.6M347.4 264.34h2.6M347.4 268.41h2.6M347.4 271.23h2.6M358.7 249.3V276.85M357.4 248.53h2.6M357.4 251.65h2.6M357.4 255.67h2.6M357.4 270.29h2.6M357.4 273.47h2.6M357.4 277.94h2.6M368.7 255.14V283.68M367.4 255.21h2.6M367.4 258.44h2.6M367.4 261.73h2.6M367.4 276.03h2.6M367.4 280.7h2.6M367.4 283.22h2.6M378.7 254.36V288.17M377.4 253.45h2.6M377.4 258.95h2.6M377.4 262.34h2.6M377.4 278.56h2.6M377.4 285.18h2.6M377.4 288.92h2.6M388.7 251.52V283.48M387.4 252.72h2.6M387.4 255.82h2.6M387.4 259.13h2.6M387.4 276.27h2.6M387.4 280.43h2.6M387.4 283.22h2.6M398.7 253.88V291.23M397.4 254.02h2.6M397.4 257.98h2.6M397.4 263.57h2.6M397.4 282.07h2.6M397.4 285.86h2.6M397.4 290.1h2.6M408.7 252.82V291.74M407.4 252.78h2.6M407.4 257.45h2.6M407.4 262.76h2.6M407.4 281.72h2.6M407.4 287.5h2.6M407.4 292.08h2.6" stroke="#666" stroke-width="0.75" fill="none" opacity="0.8"/>
<polyline points="308.7,269.8 318.7,262 328.7,269.3 338.7,270 348.7,257 358.7,263.5 368.7,265 378.7,263.2 388.7,265 398.7,264 408.7,258.4" fill="none" stroke="#a0a0a0" stroke-width="0.85" stroke-dasharray="2.2,1.4"/>
<polyline points="308.7,269.8 318.7,258.4 328.7,269.3 338.7,268.5 348.7,258 358.7,261 368.7,264.5 378.7,263 388.7,264 398.7,261 408.7,258" fill="none" stroke="#f08a8a" stroke-width="0.85" stroke-dasharray="2.2,1.4"/>
<polyline points="308.7,268.5 318.7,258 328.7,269 338.7,271 348.7,256.7 358.7,265.6 368.7,265 378.7,263.5 388.7,265 398.7,265.4 408.7,259.5" fill="none" stroke="#95c8f0" stroke-width="0.85" stroke-dasharray="2.2,1.4"/>
<polyline points="308.7,267.5 318.7,271 328.7,260.6 338.7,273.7 348.7,259.5 358.7,259.8 368.7,270.5 378.7,276 388.7,262 398.7,273 408.7,260.5" fill="none" stroke="#2462c0" stroke-width="0.85"/>
<polyline points="308.7,267.8 318.7,271.3 328.7,257.5 338.7,276.5 348.7,260.5 358.7,261.3 368.7,273.3 378.7,278.5 388.7,269.3 398.7,280.7 408.7,277.6" fill="none" stroke="#e3191c" stroke-width="0.85"/>
<polyline points="308.7,267.6 318.7,271.5 328.7,257.3 338.7,277 348.7,260.2 358.7,258.4 368.7,269.3 378.7,276.3 388.7,261.3 398.7,273.1 408.7,259" fill="none" stroke="#111111" stroke-width="0.85"/>
<circle cx="308.7" cy="269.8" r="1.25" fill="#fff" fill-opacity="0.6" stroke="#a0a0a0" stroke-width="0.6"/>
<circle cx="318.7" cy="262" r="1.25" fill="#fff" fill-opacity="0.6" stroke="#a0a0a0" stroke-width="0.6"/>
<circle cx="328.7" cy="269.3" r="1.25" fill="#fff" fill-opacity="0.6" stroke="#a0a0a0" stroke-width="0.6"/>
<circle cx="338.7" cy="270" r="1.25" fill="#fff" fill-opacity="0.6" stroke="#a0a0a0" stroke-width="0.6"/>
<circle cx="348.7" cy="257" r="1.25" fill="#fff" fill-opacity="0.6" stroke="#a0a0a0" stroke-width="0.6"/>
<circle cx="358.7" cy="263.5" r="1.25" fill="#fff" fill-opacity="0.6" stroke="#a0a0a0" stroke-width="0.6"/>
<circle cx="368.7" cy="265" r="1.25" fill="#fff" fill-opacity="0.6" stroke="#a0a0a0" stroke-width="0.6"/>
<circle cx="378.7" cy="263.2" r="1.25" fill="#fff" fill-opacity="0.6" stroke="#a0a0a0" stroke-width="0.6"/>
<circle cx="388.7" cy="265" r="1.25" fill="#fff" fill-opacity="0.6" stroke="#a0a0a0" stroke-width="0.6"/>
<circle cx="398.7" cy="264" r="1.25" fill="#fff" fill-opacity="0.6" stroke="#a0a0a0" stroke-width="0.6"/>
<circle cx="408.7" cy="258.4" r="1.25" fill="#fff" fill-opacity="0.6" stroke="#a0a0a0" stroke-width="0.6"/>
<circle cx="308.7" cy="269.8" r="1.25" fill="#fff" fill-opacity="0.6" stroke="#f08a8a" stroke-width="0.6"/>
<circle cx="318.7" cy="258.4" r="1.25" fill="#fff" fill-opacity="0.6" stroke="#f08a8a" stroke-width="0.6"/>
<circle cx="328.7" cy="269.3" r="1.25" fill="#fff" fill-opacity="0.6" stroke="#f08a8a" stroke-width="0.6"/>
<circle cx="338.7" cy="268.5" r="1.25" fill="#fff" fill-opacity="0.6" stroke="#f08a8a" stroke-width="0.6"/>
<circle cx="348.7" cy="258" r="1.25" fill="#fff" fill-opacity="0.6" stroke="#f08a8a" stroke-width="0.6"/>
<circle cx="358.7" cy="261" r="1.25" fill="#fff" fill-opacity="0.6" stroke="#f08a8a" stroke-width="0.6"/>
<circle cx="368.7" cy="264.5" r="1.25" fill="#fff" fill-opacity="0.6" stroke="#f08a8a" stroke-width="0.6"/>
<circle cx="378.7" cy="263" r="1.25" fill="#fff" fill-opacity="0.6" stroke="#f08a8a" stroke-width="0.6"/>
<circle cx="388.7" cy="264" r="1.25" fill="#fff" fill-opacity="0.6" stroke="#f08a8a" stroke-width="0.6"/>
<circle cx="398.7" cy="261" r="1.25" fill="#fff" fill-opacity="0.6" stroke="#f08a8a" stroke-width="0.6"/>
<circle cx="408.7" cy="258" r="1.25" fill="#fff" fill-opacity="0.6" stroke="#f08a8a" stroke-width="0.6"/>
<circle cx="308.7" cy="268.5" r="1.25" fill="#fff" fill-opacity="0.6" stroke="#95c8f0" stroke-width="0.6"/>
<circle cx="318.7" cy="258" r="1.25" fill="#fff" fill-opacity="0.6" stroke="#95c8f0" stroke-width="0.6"/>
<circle cx="328.7" cy="269" r="1.25" fill="#fff" fill-opacity="0.6" stroke="#95c8f0" stroke-width="0.6"/>
<circle cx="338.7" cy="271" r="1.25" fill="#fff" fill-opacity="0.6" stroke="#95c8f0" stroke-width="0.6"/>
<circle cx="348.7" cy="256.7" r="1.25" fill="#fff" fill-opacity="0.6" stroke="#95c8f0" stroke-width="0.6"/>
<circle cx="358.7" cy="265.6" r="1.25" fill="#fff" fill-opacity="0.6" stroke="#95c8f0" stroke-width="0.6"/>
<circle cx="368.7" cy="265" r="1.25" fill="#fff" fill-opacity="0.6" stroke="#95c8f0" stroke-width="0.6"/>
<circle cx="378.7" cy="263.5" r="1.25" fill="#fff" fill-opacity="0.6" stroke="#95c8f0" stroke-width="0.6"/>
<circle cx="388.7" cy="265" r="1.25" fill="#fff" fill-opacity="0.6" stroke="#95c8f0" stroke-width="0.6"/>
<circle cx="398.7" cy="265.4" r="1.25" fill="#fff" fill-opacity="0.6" stroke="#95c8f0" stroke-width="0.6"/>
<circle cx="408.7" cy="259.5" r="1.25" fill="#fff" fill-opacity="0.6" stroke="#95c8f0" stroke-width="0.6"/>
<circle cx="308.7" cy="267.5" r="1.35" fill="#2462c0"/>
<circle cx="318.7" cy="271" r="1.35" fill="#2462c0"/>
<circle cx="328.7" cy="260.6" r="1.35" fill="#2462c0"/>
<circle cx="338.7" cy="273.7" r="1.35" fill="#2462c0"/>
<circle cx="348.7" cy="259.5" r="1.35" fill="#2462c0"/>
<circle cx="358.7" cy="259.8" r="1.35" fill="#2462c0"/>
<circle cx="368.7" cy="270.5" r="1.35" fill="#2462c0"/>
<circle cx="378.7" cy="276" r="1.35" fill="#2462c0"/>
<circle cx="388.7" cy="262" r="1.35" fill="#2462c0"/>
<circle cx="398.7" cy="273" r="1.35" fill="#2462c0"/>
<circle cx="408.7" cy="260.5" r="1.35" fill="#2462c0"/>
<circle cx="308.7" cy="267.8" r="1.35" fill="#e3191c"/>
<circle cx="318.7" cy="271.3" r="1.35" fill="#e3191c"/>
<circle cx="328.7" cy="257.5" r="1.35" fill="#e3191c"/>
<circle cx="338.7" cy="276.5" r="1.35" fill="#e3191c"/>
<circle cx="348.7" cy="260.5" r="1.35" fill="#e3191c"/>
<circle cx="358.7" cy="261.3" r="1.35" fill="#e3191c"/>
<circle cx="368.7" cy="273.3" r="1.35" fill="#e3191c"/>
<circle cx="378.7" cy="278.5" r="1.35" fill="#e3191c"/>
<circle cx="388.7" cy="269.3" r="1.35" fill="#e3191c"/>
<circle cx="398.7" cy="280.7" r="1.35" fill="#e3191c"/>
<circle cx="408.7" cy="277.6" r="1.35" fill="#e3191c"/>
<circle cx="308.7" cy="267.6" r="1.35" fill="#111111"/>
<circle cx="318.7" cy="271.5" r="1.35" fill="#111111"/>
<circle cx="328.7" cy="257.3" r="1.35" fill="#111111"/>
<circle cx="338.7" cy="277" r="1.35" fill="#111111"/>
<circle cx="348.7" cy="260.2" r="1.35" fill="#111111"/>
<circle cx="358.7" cy="258.4" r="1.35" fill="#111111"/>
<circle cx="368.7" cy="269.3" r="1.35" fill="#111111"/>
<circle cx="378.7" cy="276.3" r="1.35" fill="#111111"/>
<circle cx="388.7" cy="261.3" r="1.35" fill="#111111"/>
<circle cx="398.7" cy="273.1" r="1.35" fill="#111111"/>
<circle cx="408.7" cy="259" r="1.35" fill="#111111"/>
<rect x="304" y="203.1" width="110.2" height="109.2" fill="none" stroke="#111" stroke-width="1.3"/>
<path d="M301.8 217.3h2.2M301.8 244.4h2.2M301.8 271.6h2.2M301.8 298.8h2.2M308.7 312.3v2.3M318.7 312.3v2.3M328.7 312.3v2.3M338.7 312.3v2.3M348.7 312.3v2.3M358.7 312.3v2.3M368.7 312.3v2.3M378.7 312.3v2.3M388.7 312.3v2.3M398.7 312.3v2.3M408.7 312.3v2.3" stroke="#111" stroke-width="0.9"/>
<text x="300.00" y="218.80" font-size="4.3" font-weight="bold" text-anchor="end" fill="#000" stroke="#000" stroke-width="0.08">1.0</text><text x="300.00" y="245.90" font-size="4.3" font-weight="bold" text-anchor="end" fill="#000" stroke="#000" stroke-width="0.08">0.8</text><text x="300.00" y="273.10" font-size="4.3" font-weight="bold" text-anchor="end" fill="#000" stroke="#000" stroke-width="0.08">0.6</text><text x="300.00" y="300.30" font-size="4.3" font-weight="bold" text-anchor="end" fill="#000" stroke="#000" stroke-width="0.08">0.4</text><text x="308.70" y="320.00" font-size="4.4" font-weight="bold" text-anchor="middle" fill="#000" stroke="#000" stroke-width="0.08">G0</text><text x="318.70" y="320.00" font-size="4.4" font-weight="bold" text-anchor="middle" fill="#000" stroke="#000" stroke-width="0.08">G1</text><text x="328.70" y="320.00" font-size="4.4" font-weight="bold" text-anchor="middle" fill="#000" stroke="#000" stroke-width="0.08">G2</text><text x="338.70" y="320.00" font-size="4.4" font-weight="bold" text-anchor="middle" fill="#000" stroke="#000" stroke-width="0.08">G3</text><text x="348.70" y="320.00" font-size="4.4" font-weight="bold" text-anchor="middle" fill="#000" stroke="#000" stroke-width="0.08">G4</text><text x="358.70" y="320.00" font-size="4.4" font-weight="bold" text-anchor="middle" fill="#000" stroke="#000" stroke-width="0.08">G5</text><text x="368.70" y="320.00" font-size="4.4" font-weight="bold" text-anchor="middle" fill="#000" stroke="#000" stroke-width="0.08">G6</text><text x="378.70" y="320.00" font-size="4.4" font-weight="bold" text-anchor="middle" fill="#000" stroke="#000" stroke-width="0.08">G7</text><text x="388.70" y="320.00" font-size="4.4" font-weight="bold" text-anchor="middle" fill="#000" stroke="#000" stroke-width="0.08">G8</text><text x="398.70" y="320.00" font-size="4.4" font-weight="bold" text-anchor="middle" fill="#000" stroke="#000" stroke-width="0.08">G9</text><text x="408.70" y="320.00" font-size="4.4" font-weight="bold" text-anchor="middle" fill="#000" stroke="#000" stroke-width="0.08">G10</text>
<text x="359.90" y="332.10" font-size="8.2" font-weight="bold" text-anchor="middle" fill="#111" stroke="#111" stroke-width="0.2">Transfer Number</text>
<text transform="translate(290.90 251.60) rotate(-90)" font-size="7.85" font-weight="bold" text-anchor="middle" fill="#111" stroke="#111" stroke-width="0.2">Aspect ratio</text>
<line x1="309.4" y1="209.3" x2="314.6" y2="209.3" stroke="#a0a0a0" stroke-width="0.8"/><circle cx="312" cy="209.3" r="1.2" fill="#fff" stroke="#a0a0a0" stroke-width="0.6"/><text x="318.50" y="210.95" font-size="4.5" font-weight="bold" fill="#000" stroke="#000" stroke-width="0.08">Control A</text><line x1="309.4" y1="216.8" x2="314.6" y2="216.8" stroke="#f08a8a" stroke-width="0.8"/><circle cx="312" cy="216.8" r="1.2" fill="#fff" stroke="#f08a8a" stroke-width="0.6"/><text x="318.50" y="218.45" font-size="4.5" font-weight="bold" fill="#000" stroke="#000" stroke-width="0.08">Control B</text><line x1="309.4" y1="224.3" x2="314.6" y2="224.3" stroke="#95c8f0" stroke-width="0.8"/><circle cx="312" cy="224.3" r="1.2" fill="#fff" stroke="#95c8f0" stroke-width="0.6"/><text x="318.50" y="225.95" font-size="4.5" font-weight="bold" fill="#000" stroke="#000" stroke-width="0.08">Control C</text><line x1="347.3" y1="209.3" x2="353.9" y2="209.3" stroke="#111111" stroke-width="0.8"/><circle cx="350.6" cy="209.3" r="1.3" fill="#111111"/><text x="357.10" y="210.95" font-size="4.5" font-weight="bold" fill="#000" stroke="#000" stroke-width="0.08">FACS A</text><line x1="347.3" y1="216.8" x2="353.9" y2="216.8" stroke="#e3191c" stroke-width="0.8"/><circle cx="350.6" cy="216.8" r="1.3" fill="#e3191c"/><text x="357.10" y="218.45" font-size="4.5" font-weight="bold" fill="#000" stroke="#000" stroke-width="0.08">FACS B</text><line x1="347.3" y1="224.3" x2="353.9" y2="224.3" stroke="#2462c0" stroke-width="0.8"/><circle cx="350.6" cy="224.3" r="1.3" fill="#2462c0"/><text x="357.10" y="225.95" font-size="4.5" font-weight="bold" fill="#000" stroke="#000" stroke-width="0.08">FACS C</text>
</g>
<g font-family="Liberation Sans, sans-serif">
<text x="420.30" y="201.40" font-size="13.2" font-weight="bold" fill="#000">E</text>
<path d="M439.5 257.3V287.3M438 257.3h3M438 287.3h3M449.5 258V288.4M448 258h3M448 288.4h3M459.5 261.3V288.6M458 261.3h3M458 288.6h3M469.5 250.8V287.3M468 250.8h3M468 287.3h3M479.5 268.7V289.5M478 268.7h3M478 289.5h3M489.5 259.5V291.2M488 259.5h3M488 291.2h3M499.5 256.2V290.8M498 256.2h3M498 290.8h3M509.5 250.3V288M508 250.3h3M508 288h3M519.5 238.7V290.1M518 238.7h3M518 290.1h3M529.5 238.3V288M528 238.3h3M528 288h3M539.5 237V288.4M538 237h3M538 288.4h3" stroke="#a8a8a8" stroke-width="0.6" fill="none"/>
<path d="M439.5 263.3V280.7M438.2 263.23h2.6M438.2 265.35h2.6M438.2 267.62h2.6M438.2 276.86h2.6M438.2 277.96h2.6M438.2 281.74h2.6M449.5 264.08V281.71M448.2 264.9h2.6M448.2 266.92h2.6M448.2 267.8h2.6M448.2 276.83h2.6M448.2 278.77h2.6M448.2 281.65h2.6M459.5 266.76V282.59M458.2 266.26h2.6M458.2 268.47h2.6M458.2 270.82h2.6M458.2 278.75h2.6M458.2 281.6h2.6M458.2 282.34h2.6M469.5 258.1V279.27M468.2 257.51h2.6M468.2 260.66h2.6M468.2 263.3h2.6M468.2 274.2h2.6M468.2 275.83h2.6M468.2 278.1h2.6M479.5 272.86V284.92M478.2 273.79h2.6M478.2 274.48h2.6M478.2 274.89h2.6M478.2 280.74h2.6M478.2 283.81h2.6M478.2 285.78h2.6M489.5 265.84V284.23M488.2 264.9h2.6M488.2 269.07h2.6M488.2 271.16h2.6M488.2 279.56h2.6M488.2 280.96h2.6M488.2 283.79h2.6M499.5 263.12V283.19M498.2 263.95h2.6M498.2 266.37h2.6M498.2 267.28h2.6M498.2 278.15h2.6M498.2 281.72h2.6M498.2 282.88h2.6M509.5 257.84V279.71M508.2 257.92h2.6M508.2 259.56h2.6M508.2 263.25h2.6M508.2 273.17h2.6M508.2 278.01h2.6M508.2 279.58h2.6M519.5 248.98V278.79M518.2 247.95h2.6M518.2 251.92h2.6M518.2 257.12h2.6M518.2 272.34h2.6M518.2 276.25h2.6M518.2 279.31h2.6M529.5 248.24V277.07M528.2 247.16h2.6M528.2 252.13h2.6M528.2 255.38h2.6M528.2 269.99h2.6M528.2 273h2.6M528.2 275.89h2.6M539.5 247.28V277.09M538.2 247.84h2.6M538.2 250.8h2.6M538.2 255.03h2.6M538.2 270.13h2.6M538.2 272.78h2.6M538.2 277.28h2.6" stroke="#666" stroke-width="0.75" fill="none" opacity="0.8"/>
<polyline points="439.5,275.2 449.5,278 459.5,275 469.5,274.8 479.5,279 489.5,277 499.5,277.5 509.5,275.9 519.5,274.5 529.5,277 539.5,279" fill="none" stroke="#a0a0a0" stroke-width="0.85" stroke-dasharray="2.2,1.4"/>
<polyline points="439.5,275.8 449.5,278.6 459.5,275.5 469.5,275.3 479.5,279.5 489.5,277.8 499.5,278.2 509.5,276.5 519.5,275.2 529.5,277.6 539.5,279.8" fill="none" stroke="#f08a8a" stroke-width="0.85" stroke-dasharray="2.2,1.4"/>
<polyline points="439.5,274.6 449.5,277.4 459.5,274.5 469.5,274.2 479.5,278.5 489.5,276.3 499.5,276.9 509.5,275.3 519.5,273.9 529.5,276.4 539.5,278.3" fill="none" stroke="#95c8f0" stroke-width="0.85" stroke-dasharray="2.2,1.4"/>
<polyline points="439.5,272 449.5,273 459.5,274.2 469.5,267.5 479.5,279.5 489.5,276.5 499.5,274.5 509.5,272 519.5,274 529.5,272.5 539.5,277.5" fill="none" stroke="#2462c0" stroke-width="0.85"/>
<polyline points="439.5,272.5 449.5,273.5 459.5,275 469.5,267 479.5,279 489.5,278 499.5,273.3 509.5,267.6 519.5,265 529.5,262.3 539.5,262.3" fill="none" stroke="#e3191c" stroke-width="0.85"/>
<polyline points="439.5,272.2 449.5,273.1 459.5,275.2 469.5,266.7 479.5,279.8 489.5,278.5 499.5,275.5 509.5,271.5 519.5,273.1 529.5,273.1 539.5,278.1" fill="none" stroke="#111111" stroke-width="0.85"/>
<circle cx="439.5" cy="275.2" r="1.25" fill="#fff" fill-opacity="0.6" stroke="#a0a0a0" stroke-width="0.6"/>
<circle cx="449.5" cy="278" r="1.25" fill="#fff" fill-opacity="0.6" stroke="#a0a0a0" stroke-width="0.6"/>
<circle cx="459.5" cy="275" r="1.25" fill="#fff" fill-opacity="0.6" stroke="#a0a0a0" stroke-width="0.6"/>
<circle cx="469.5" cy="274.8" r="1.25" fill="#fff" fill-opacity="0.6" stroke="#a0a0a0" stroke-width="0.6"/>
<circle cx="479.5" cy="279" r="1.25" fill="#fff" fill-opacity="0.6" stroke="#a0a0a0" stroke-width="0.6"/>
<circle cx="489.5" cy="277" r="1.25" fill="#fff" fill-opacity="0.6" stroke="#a0a0a0" stroke-width="0.6"/>
<circle cx="499.5" cy="277.5" r="1.25" fill="#fff" fill-opacity="0.6" stroke="#a0a0a0" stroke-width="0.6"/>
<circle cx="509.5" cy="275.9" r="1.25" fill="#fff" fill-opacity="0.6" stroke="#a0a0a0" stroke-width="0.6"/>
<circle cx="519.5" cy="274.5" r="1.25" fill="#fff" fill-opacity="0.6" stroke="#a0a0a0" stroke-width="0.6"/>
<circle cx="529.5" cy="277" r="1.25" fill="#fff" fill-opacity="0.6" stroke="#a0a0a0" stroke-width="0.6"/>
<circle cx="539.5" cy="279" r="1.25" fill="#fff" fill-opacity="0.6" stroke="#a0a0a0" stroke-width="0.6"/>
<circle cx="439.5" cy="275.8" r="1.25" fill="#fff" fill-opacity="0.6" stroke="#f08a8a" stroke-width="0.6"/>
<circle cx="449.5" cy="278.6" r="1.25" fill="#fff" fill-opacity="0.6" stroke="#f08a8a" stroke-width="0.6"/>
<circle cx="459.5" cy="275.5" r="1.25" fill="#fff" fill-opacity="0.6" stroke="#f08a8a" stroke-width="0.6"/>
<circle cx="469.5" cy="275.3" r="1.25" fill="#fff" fill-opacity="0.6" stroke="#f08a8a" stroke-width="0.6"/>
<circle cx="479.5" cy="279.5" r="1.25" fill="#fff" fill-opacity="0.6" stroke="#f08a8a" stroke-width="0.6"/>
<circle cx="489.5" cy="277.8" r="1.25" fill="#fff" fill-opacity="0.6" stroke="#f08a8a" stroke-width="0.6"/>
<circle cx="499.5" cy="278.2" r="1.25" fill="#fff" fill-opacity="0.6" stroke="#f08a8a" stroke-width="0.6"/>
<circle cx="509.5" cy="276.5" r="1.25" fill="#fff" fill-opacity="0.6" stroke="#f08a8a" stroke-width="0.6"/>
<circle cx="519.5" cy="275.2" r="1.25" fill="#fff" fill-opacity="0.6" stroke="#f08a8a" stroke-width="0.6"/>
<circle cx="529.5" cy="277.6" r="1.25" fill="#fff" fill-opacity="0.6" stroke="#f08a8a" stroke-width="0.6"/>
<circle cx="539.5" cy="279.8" r="1.25" fill="#fff" fill-opacity="0.6" stroke="#f08a8a" stroke-width="0.6"/>
<circle cx="439.5" cy="274.6" r="1.25" fill="#fff" fill-opacity="0.6" stroke="#95c8f0" stroke-width="0.6"/>
<circle cx="449.5" cy="277.4" r="1.25" fill="#fff" fill-opacity="0.6" stroke="#95c8f0" stroke-width="0.6"/>
<circle cx="459.5" cy="274.5" r="1.25" fill="#fff" fill-opacity="0.6" stroke="#95c8f0" stroke-width="0.6"/>
<circle cx="469.5" cy="274.2" r="1.25" fill="#fff" fill-opacity="0.6" stroke="#95c8f0" stroke-width="0.6"/>
<circle cx="479.5" cy="278.5" r="1.25" fill="#fff" fill-opacity="0.6" stroke="#95c8f0" stroke-width="0.6"/>
<circle cx="489.5" cy="276.3" r="1.25" fill="#fff" fill-opacity="0.6" stroke="#95c8f0" stroke-width="0.6"/>
<circle cx="499.5" cy="276.9" r="1.25" fill="#fff" fill-opacity="0.6" stroke="#95c8f0" stroke-width="0.6"/>
<circle cx="509.5" cy="275.3" r="1.25" fill="#fff" fill-opacity="0.6" stroke="#95c8f0" stroke-width="0.6"/>
<circle cx="519.5" cy="273.9" r="1.25" fill="#fff" fill-opacity="0.6" stroke="#95c8f0" stroke-width="0.6"/>
<circle cx="529.5" cy="276.4" r="1.25" fill="#fff" fill-opacity="0.6" stroke="#95c8f0" stroke-width="0.6"/>
<circle cx="539.5" cy="278.3" r="1.25" fill="#fff" fill-opacity="0.6" stroke="#95c8f0" stroke-width="0.6"/>
<circle cx="439.5" cy="272" r="1.35" fill="#2462c0"/>
<circle cx="449.5" cy="273" r="1.35" fill="#2462c0"/>
<circle cx="459.5" cy="274.2" r="1.35" fill="#2462c0"/>
<circle cx="469.5" cy="267.5" r="1.35" fill="#2462c0"/>
<circle cx="479.5" cy="279.5" r="1.35" fill="#2462c0"/>
<circle cx="489.5" cy="276.5" r="1.35" fill="#2462c0"/>
<circle cx="499.5" cy="274.5" r="1.35" fill="#2462c0"/>
<circle cx="509.5" cy="272" r="1.35" fill="#2462c0"/>
<circle cx="519.5" cy="274" r="1.35" fill="#2462c0"/>
<circle cx="529.5" cy="272.5" r="1.35" fill="#2462c0"/>
<circle cx="539.5" cy="277.5" r="1.35" fill="#2462c0"/>
<circle cx="439.5" cy="272.5" r="1.35" fill="#e3191c"/>
<circle cx="449.5" cy="273.5" r="1.35" fill="#e3191c"/>
<circle cx="459.5" cy="275" r="1.35" fill="#e3191c"/>
<circle cx="469.5" cy="267" r="1.35" fill="#e3191c"/>
<circle cx="479.5" cy="279" r="1.35" fill="#e3191c"/>
<circle cx="489.5" cy="278" r="1.35" fill="#e3191c"/>
<circle cx="499.5" cy="273.3" r="1.35" fill="#e3191c"/>
<circle cx="509.5" cy="267.6" r="1.35" fill="#e3191c"/>
<circle cx="519.5" cy="265" r="1.35" fill="#e3191c"/>
<circle cx="529.5" cy="262.3" r="1.35" fill="#e3191c"/>
<circle cx="539.5" cy="262.3" r="1.35" fill="#e3191c"/>
<circle cx="439.5" cy="272.2" r="1.35" fill="#111111"/>
<circle cx="449.5" cy="273.1" r="1.35" fill="#111111"/>
<circle cx="459.5" cy="275.2" r="1.35" fill="#111111"/>
<circle cx="469.5" cy="266.7" r="1.35" fill="#111111"/>
<circle cx="479.5" cy="279.8" r="1.35" fill="#111111"/>
<circle cx="489.5" cy="278.5" r="1.35" fill="#111111"/>
<circle cx="499.5" cy="275.5" r="1.35" fill="#111111"/>
<circle cx="509.5" cy="271.5" r="1.35" fill="#111111"/>
<circle cx="519.5" cy="273.1" r="1.35" fill="#111111"/>
<circle cx="529.5" cy="273.1" r="1.35" fill="#111111"/>
<circle cx="539.5" cy="278.1" r="1.35" fill="#111111"/>
<rect x="434.8" y="203.1" width="109.6" height="109.3" fill="none" stroke="#111" stroke-width="1.3"/>
<path d="M432.6 221.8h2.2M432.6 240h2.2M432.6 258h2.2M432.6 276h2.2M432.6 294h2.2M439.5 312.4v2.3M449.5 312.4v2.3M459.5 312.4v2.3M469.5 312.4v2.3M479.5 312.4v2.3M489.5 312.4v2.3M499.5 312.4v2.3M509.5 312.4v2.3M519.5 312.4v2.3M529.5 312.4v2.3M539.5 312.4v2.3" stroke="#111" stroke-width="0.9"/>
<text x="430.80" y="223.30" font-size="4.3" font-weight="bold" text-anchor="end" fill="#000" stroke="#000" stroke-width="0.08">6</text><text x="430.80" y="259.50" font-size="4.3" font-weight="bold" text-anchor="end" fill="#000" stroke="#000" stroke-width="0.08">4</text><text x="430.80" y="295.50" font-size="4.3" font-weight="bold" text-anchor="end" fill="#000" stroke="#000" stroke-width="0.08">2</text><text x="439.50" y="320.10" font-size="4.4" font-weight="bold" text-anchor="middle" fill="#000" stroke="#000" stroke-width="0.08">G0</text><text x="449.50" y="320.10" font-size="4.4" font-weight="bold" text-anchor="middle" fill="#000" stroke="#000" stroke-width="0.08">G1</text><text x="459.50" y="320.10" font-size="4.4" font-weight="bold" text-anchor="middle" fill="#000" stroke="#000" stroke-width="0.08">G2</text><text x="469.50" y="320.10" font-size="4.4" font-weight="bold" text-anchor="middle" fill="#000" stroke="#000" stroke-width="0.08">G3</text><text x="479.50" y="320.10" font-size="4.4" font-weight="bold" text-anchor="middle" fill="#000" stroke="#000" stroke-width="0.08">G4</text><text x="489.50" y="320.10" font-size="4.4" font-weight="bold" text-anchor="middle" fill="#000" stroke="#000" stroke-width="0.08">G5</text><text x="499.50" y="320.10" font-size="4.4" font-weight="bold" text-anchor="middle" fill="#000" stroke="#000" stroke-width="0.08">G6</text><text x="509.50" y="320.10" font-size="4.4" font-weight="bold" text-anchor="middle" fill="#000" stroke="#000" stroke-width="0.08">G7</text><text x="519.50" y="320.10" font-size="4.4" font-weight="bold" text-anchor="middle" fill="#000" stroke="#000" stroke-width="0.08">G8</text><text x="529.50" y="320.10" font-size="4.4" font-weight="bold" text-anchor="middle" fill="#000" stroke="#000" stroke-width="0.08">G9</text><text x="539.50" y="320.10" font-size="4.4" font-weight="bold" text-anchor="middle" fill="#000" stroke="#000" stroke-width="0.08">G10</text>
<text x="490.40" y="332.20" font-size="8.2" font-weight="bold" text-anchor="middle" fill="#111" stroke="#111" stroke-width="0.2">Transfer Number</text>
<text transform="translate(426.00 261.90) rotate(-90)" font-size="8.3" font-weight="bold" text-anchor="middle" fill="#111" stroke="#111" stroke-width="0.2">Length</text>
<line x1="440.2" y1="209.3" x2="445.4" y2="209.3" stroke="#a0a0a0" stroke-width="0.8"/><circle cx="442.8" cy="209.3" r="1.2" fill="#fff" stroke="#a0a0a0" stroke-width="0.6"/><text x="449.30" y="210.95" font-size="4.5" font-weight="bold" fill="#000" stroke="#000" stroke-width="0.08">Control A</text><line x1="440.2" y1="216.8" x2="445.4" y2="216.8" stroke="#f08a8a" stroke-width="0.8"/><circle cx="442.8" cy="216.8" r="1.2" fill="#fff" stroke="#f08a8a" stroke-width="0.6"/><text x="449.30" y="218.45" font-size="4.5" font-weight="bold" fill="#000" stroke="#000" stroke-width="0.08">Control B</text><line x1="440.2" y1="224.3" x2="445.4" y2="224.3" stroke="#95c8f0" stroke-width="0.8"/><circle cx="442.8" cy="224.3" r="1.2" fill="#fff" stroke="#95c8f0" stroke-width="0.6"/><text x="449.30" y="225.95" font-size="4.5" font-weight="bold" fill="#000" stroke="#000" stroke-width="0.08">Control C</text><line x1="478.1" y1="209.3" x2="484.7" y2="209.3" stroke="#111111" stroke-width="0.8"/><circle cx="481.4" cy="209.3" r="1.3" fill="#111111"/><text x="487.90" y="210.95" font-size="4.5" font-weight="bold" fill="#000" stroke="#000" stroke-width="0.08">FACS A</text><line x1="478.1" y1="216.8" x2="484.7" y2="216.8" stroke="#e3191c" stroke-width="0.8"/><circle cx="481.4" cy="216.8" r="1.3" fill="#e3191c"/><text x="487.90" y="218.45" font-size="4.5" font-weight="bold" fill="#000" stroke="#000" stroke-width="0.08">FACS B</text><line x1="478.1" y1="224.3" x2="484.7" y2="224.3" stroke="#2462c0" stroke-width="0.8"/><circle cx="481.4" cy="224.3" r="1.3" fill="#2462c0"/><text x="487.90" y="225.95" font-size="4.5" font-weight="bold" fill="#000" stroke="#000" stroke-width="0.08">FACS C</text>
</g>
</g></svg></body></html>
